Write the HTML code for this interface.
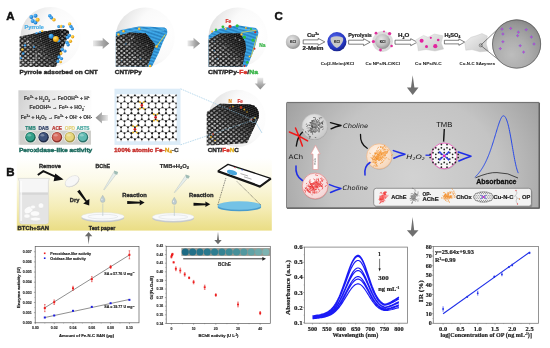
<!DOCTYPE html>
<html><head><meta charset="utf-8"><title>Figure</title>
<style>html,body{margin:0;padding:0;background:#fff;} svg{display:block;}</style></head>
<body><svg width="550" height="348" viewBox="0 0 550 348">
<defs><radialGradient id="sph" cx="0.78" cy="0.45" r="0.95" fx="0.8" fy="0.42">
<stop offset="0" stop-color="#ffffff"/><stop offset="0.45" stop-color="#fafafa"/><stop offset="0.75" stop-color="#e6e6e6"/><stop offset="1" stop-color="#cbcbcb"/></radialGradient><pattern id="cnt" width="3.4" height="3.4" patternUnits="userSpaceOnUse" patternTransform="rotate(-40) skewX(12)">
<rect width="3.4" height="3.4" fill="#141414"/><rect x="0.35" y="0.35" width="2.2" height="2.2" rx="0.8" fill="#d4d4d4"/><circle cx="2.85" cy="2.85" r="0.35" fill="#505050"/></pattern><pattern id="cnts" width="2.0" height="2.0" patternUnits="userSpaceOnUse" patternTransform="rotate(-22) skewX(-10)">
<rect width="2.0" height="2.0" fill="#161616"/><rect x="0.3" y="0.3" width="1.0" height="1.0" rx="0.35" fill="#9a9a9a"/></pattern><linearGradient id="cntshade" x1="0" y1="1" x2="1" y2="0">
<stop offset="0" stop-color="#fff" stop-opacity="0.18"/><stop offset="0.4" stop-color="#000" stop-opacity="0.0"/><stop offset="1" stop-color="#000" stop-opacity="0.5"/></linearGradient><linearGradient id="farmask" x1="0" y1="1" x2="1" y2="0"><stop offset="0.35" stop-color="#000"/><stop offset="0.7" stop-color="#fff"/></linearGradient><linearGradient id="arrR" x1="0" y1="0" x2="1" y2="0"><stop offset="0" stop-color="#ececec"/><stop offset="0.6" stop-color="#a8a8a8"/><stop offset="1" stop-color="#8a8a8a"/></linearGradient><linearGradient id="arrL" x1="1" y1="0" x2="0" y2="0"><stop offset="0" stop-color="#ececec"/><stop offset="0.6" stop-color="#a8a8a8"/><stop offset="1" stop-color="#8a8a8a"/></linearGradient><linearGradient id="arrD" x1="0" y1="0" x2="0" y2="1"><stop offset="0" stop-color="#ececec"/><stop offset="0.6" stop-color="#a8a8a8"/><stop offset="1" stop-color="#8a8a8a"/></linearGradient><linearGradient id="ybg" x1="0" y1="0" x2="0" y2="1"><stop offset="0" stop-color="#ffffff"/><stop offset="0.3" stop-color="#fcfae8"/><stop offset="0.7" stop-color="#f4ecb4"/><stop offset="1" stop-color="#eadd84"/></linearGradient><linearGradient id="eqbox" x1="0" y1="0" x2="1" y2="0.3"><stop offset="0" stop-color="#cfcfcf"/><stop offset="0.35" stop-color="#e6e6e6"/><stop offset="0.8" stop-color="#f7f7f7"/><stop offset="1" stop-color="#fdfdfd"/></linearGradient><radialGradient id="cpanel" cx="0.5" cy="0.7" r="0.62" gradientTransform="translate(0.5 0.7) scale(1 2.2) translate(-0.5 -0.7)"><stop offset="0" stop-color="#d2d2d2"/><stop offset="0.55" stop-color="#c4c4c4"/><stop offset="1" stop-color="#9c9c9c"/></radialGradient><radialGradient id="kcl" cx="0.4" cy="0.35" r="0.7"><stop offset="0" stop-color="#e6e6e6"/><stop offset="0.6" stop-color="#bdbdbd"/><stop offset="1" stop-color="#8a8a8a"/></radialGradient><radialGradient id="bsph" cx="0.4" cy="0.35" r="0.7"><stop offset="0" stop-color="#5a6cf0"/><stop offset="0.7" stop-color="#2536c0"/><stop offset="1" stop-color="#142080"/></radialGradient><radialGradient id="bigc" cx="0.25" cy="0.25" r="0.95"><stop offset="0" stop-color="#eeeeee"/><stop offset="0.5" stop-color="#c4c4c4"/><stop offset="0.85" stop-color="#8a8a8a"/><stop offset="1" stop-color="#5e5e5e"/></radialGradient><pattern id="gra" width="2.0" height="1.732" patternUnits="userSpaceOnUse"><path d="M0,0.866 L0.5,0 L1.5,0 L2.0,0.866 L1.5,1.732 L0.5,1.732 Z" fill="none" stroke="#2e2e2e" stroke-width="0.3"/></pattern><radialGradient id="dgray" cx="0.4" cy="0.35" r="0.7"><stop offset="0" stop-color="#eeeeee"/><stop offset="1" stop-color="#c8c8c8"/></radialGradient><radialGradient id="dred" cx="0.4" cy="0.35" r="0.7"><stop offset="0" stop-color="#fff6f6"/><stop offset="1" stop-color="#f3d3d3"/></radialGradient><radialGradient id="dora" cx="0.4" cy="0.35" r="0.7"><stop offset="0" stop-color="#fff4ea"/><stop offset="1" stop-color="#f5d5b8"/></radialGradient><linearGradient id="sheet" x1="0" y1="0" x2="1" y2="1"><stop offset="0" stop-color="#f2f2f2"/><stop offset="1" stop-color="#c6c6c6"/></linearGradient><pattern id="grw" width="2.0" height="1.732" patternUnits="userSpaceOnUse"><circle cx="1.0" cy="0.866" r="0.55" fill="#e8e8e8"/><circle cx="0" cy="0" r="0.55" fill="#e8e8e8"/><circle cx="2" cy="0" r="0.55" fill="#e8e8e8"/><circle cx="0" cy="1.732" r="0.55" fill="#e8e8e8"/><circle cx="2" cy="1.732" r="0.55" fill="#e8e8e8"/></pattern><pattern id="ppy" width="1.4" height="1.4" patternUnits="userSpaceOnUse" patternTransform="rotate(-8)"><rect width="1.4" height="1.4" fill="#2f9fe6"/><rect y="0.95" width="1.4" height="0.45" fill="#17609e"/><circle cx="0.7" cy="0.45" r="0.4" fill="#56bdf5"/></pattern><radialGradient id="gb" cx="0.35" cy="0.35" r="0.7"><stop offset="0" stop-color="#6cc4f8"/><stop offset="0.6" stop-color="#2a8fe0"/><stop offset="1" stop-color="#1566b0"/></radialGradient><radialGradient id="gy" cx="0.35" cy="0.35" r="0.7"><stop offset="0" stop-color="#ffe27a"/><stop offset="0.6" stop-color="#f4b41c"/><stop offset="1" stop-color="#d08a0c"/></radialGradient><clipPath id="c1"><circle cx="50.5" cy="37" r="30"/></clipPath><clipPath id="r1"><rect x="19.6" y="0" width="80" height="67"/></clipPath><clipPath id="r1t"><path d="M18,37 L44,31.6 L62,29 Q70,29.2 69,33.5 L55.5,67.5 L18,67.5 Z"/></clipPath><mask id="r1m" maskUnits="userSpaceOnUse" x="14" y="28" width="46" height="48"><rect x="14" y="28" width="46" height="48" fill="url(#farmask)"/></mask><clipPath id="c2"><circle cx="145.2" cy="37.2" r="29.6"/></clipPath><clipPath id="r2"><rect x="115.6" y="0" width="80" height="66.8"/></clipPath><clipPath id="r2t"><path d="M115.6,36.6 L130,32.5 L145.8,33.6 L155.1,44.4 L154.4,47.3 L148.7,63.1 L147.2,67.5 L115.6,67.5 Z"/></clipPath><mask id="r2m" maskUnits="userSpaceOnUse" x="110" y="22" width="51" height="56"><rect x="110" y="22" width="51" height="56" fill="url(#farmask)"/></mask><clipPath id="c3"><circle cx="238" cy="37.2" r="29.6"/></clipPath><clipPath id="r3"><rect x="208.4" y="0" width="80" height="66.8"/></clipPath><clipPath id="r3t"><path d="M208.4,39.5 L220,33.6 L240.1,33.6 L245.1,41.6 L245.9,48.7 L243,63.1 L242.5,67.5 L208.4,67.5 Z"/></clipPath><mask id="r3m" maskUnits="userSpaceOnUse" x="203" y="23" width="49" height="55"><rect x="203" y="23" width="49" height="55" fill="url(#farmask)"/></mask><clipPath id="c4"><circle cx="237" cy="118.3" r="28.6"/></clipPath><clipPath id="c4b"><rect x="206.7" y="80" width="80" height="65.5"/></clipPath><clipPath id="c4bt"><path d="M206,112.5 L220,103.8 L250,104.6 Q260.5,106.5 258.5,118 L247,143 L206,146 Z"/></clipPath><mask id="c4bm" maskUnits="userSpaceOnUse" x="201" y="94" width="62" height="62"><rect x="201" y="94" width="62" height="62" fill="url(#farmask)"/></mask><clipPath id="latc"><rect x="116.6" y="94.2" width="60" height="47"/></clipPath><clipPath id="bigcc"><circle cx="516.6" cy="44.0" r="24.4"/></clipPath><radialGradient id="bigl" cx="0.4" cy="0.72" r="0.8"><stop offset="0" stop-color="#d0d0d0"/><stop offset="0.45" stop-color="#b0b0b0"/><stop offset="0.8" stop-color="#858585"/><stop offset="1" stop-color="#5a5a5a"/></radialGradient><clipPath id="lgc"><ellipse cx="483.5" cy="197" rx="10" ry="5.2"/></clipPath><clipPath id="ch3"><rect x="304.4" y="247.1" width="103.10000000000002" height="76.1"/></clipPath></defs>
<rect width="550" height="348" fill="#fff"/>
<text stroke="#111" stroke-width="0.46" x="6.3" y="20.2" font-family="'Liberation Sans', Arial, sans-serif" font-size="11.5" font-weight="bold" fill="#111" text-anchor="start" >A</text>
<circle cx="50.5" cy="37" r="30" fill="url(#sph)"/>
<g clip-path="url(#r1)"><path d="M18,37 L44,31.6 L62,29 Q70,29.2 69,33.5 L55.5,67.5 L18,67.5 Z" fill="url(#cnt)"/><path d="M18,37 L44,31.6 L62,29 Q70,29.2 69,33.5 L55.5,67.5 L18,67.5 Z" fill="url(#cnts)" mask="url(#r1m)"/><path d="M18,37 L44,31.6 L62,29 Q70,29.2 69,33.5 L55.5,67.5 L18,67.5 Z" fill="url(#cntshade)"/><g clip-path="url(#r1t)" opacity="0.6"><circle cx="27.6" cy="53.2" r="0.62" fill="#d8d8d8"/><circle cx="36.1" cy="54.3" r="0.72" fill="#ffffff"/><circle cx="28.3" cy="44.6" r="0.90" fill="#ffffff"/><circle cx="38.5" cy="53.4" r="0.63" fill="#ededed"/><circle cx="27.3" cy="42.2" r="0.87" fill="#ffffff"/><circle cx="45.7" cy="56.8" r="0.48" fill="#d8d8d8"/><circle cx="20.5" cy="59.8" r="0.82" fill="#9a9a9a"/><circle cx="36.0" cy="58.1" r="0.85" fill="#ffffff"/><circle cx="33.2" cy="60.4" r="0.65" fill="#ededed"/><circle cx="50.6" cy="40.7" r="0.51" fill="#ededed"/><circle cx="28.3" cy="56.8" r="0.80" fill="#9a9a9a"/><circle cx="34.2" cy="61.3" r="0.71" fill="#d8d8d8"/><circle cx="40.1" cy="54.4" r="0.86" fill="#c8c8c8"/><circle cx="49.8" cy="65.7" r="0.75" fill="#ededed"/><circle cx="44.2" cy="47.1" r="0.69" fill="#d8d8d8"/><circle cx="39.5" cy="58.0" r="0.55" fill="#d8d8d8"/><circle cx="28.6" cy="41.5" r="0.67" fill="#ffffff"/><circle cx="22.2" cy="60.4" r="0.63" fill="#ededed"/><circle cx="19.7" cy="50.0" r="0.64" fill="#c8c8c8"/><circle cx="20.6" cy="55.2" r="0.47" fill="#d8d8d8"/><circle cx="30.9" cy="62.7" r="0.89" fill="#d8d8d8"/><circle cx="27.5" cy="39.0" r="0.45" fill="#c8c8c8"/><circle cx="40.6" cy="38.9" r="0.54" fill="#ffffff"/><circle cx="29.5" cy="45.4" r="0.76" fill="#9a9a9a"/><circle cx="30.3" cy="64.8" r="0.85" fill="#ffffff"/></g></g>
<text stroke="#4aaee6" stroke-width="0.212" x="24.6" y="29.3" font-family="'Liberation Sans', Arial, sans-serif" font-size="5.3" font-weight="bold" fill="#4aaee6" text-anchor="start" textLength="19.2" lengthAdjust="spacingAndGlyphs" >Pyrrole</text>
<circle cx="31.4" cy="17" r="2.0" fill="url(#gb)"/>
<circle cx="35.5" cy="15.7" r="2.0" fill="url(#gb)"/>
<circle cx="32.7" cy="21.1" r="2.0" fill="url(#gb)"/>
<circle cx="35.5" cy="22.5" r="1.9" fill="url(#gb)"/>
<circle cx="37.6" cy="19.8" r="2.0" fill="url(#gy)"/>
<circle cx="49.8" cy="15.7" r="1.8" fill="url(#gb)"/>
<circle cx="51.4" cy="17.8" r="1.8" fill="url(#gb)"/>
<circle cx="53.9" cy="19.8" r="1.8" fill="url(#gy)"/>
<circle cx="58.7" cy="26.6" r="1.5" fill="url(#gb)"/>
<circle cx="61.2" cy="26.3" r="1.5" fill="url(#gy)"/>
<circle cx="63.3" cy="26.6" r="1.3" fill="url(#gb)"/>
<circle cx="69.6" cy="23.9" r="1.7" fill="url(#gy)"/>
<circle cx="70.9" cy="26.4" r="1.7" fill="url(#gb)"/>
<circle cx="72.3" cy="28.7" r="1.6" fill="url(#gb)"/>
<circle cx="40" cy="32.1" r="1.2" fill="url(#gb)"/>
<circle cx="42.2" cy="31.1" r="1.1" fill="url(#gy)"/>
<circle cx="36.5" cy="33.2" r="1.1" fill="url(#gb)"/>
<circle cx="51.2" cy="36.2" r="2.5" fill="url(#gb)"/>
<circle cx="58.6" cy="40.8" r="1.7" fill="url(#gb)"/>
<circle cx="67.5" cy="37.3" r="1.8" fill="url(#gb)"/>
<circle cx="69.3" cy="35.4" r="1.7" fill="url(#gb)"/>
<circle cx="72.6" cy="36.7" r="1.7" fill="url(#gy)"/>
<circle cx="67" cy="42.5" r="1.8" fill="url(#gb)"/>
<circle cx="70.4" cy="41.3" r="1.7" fill="url(#gy)"/>
<circle cx="68.1" cy="44.8" r="1.7" fill="url(#gb)"/>
<circle cx="62.3" cy="49.5" r="1.7" fill="url(#gb)"/>
<circle cx="65" cy="51" r="1.6" fill="url(#gb)"/>
<circle cx="61" cy="53.5" r="1.4" fill="url(#gy)"/>
<circle cx="59" cy="57" r="1.7" fill="url(#gb)"/>
<circle cx="61.5" cy="58.6" r="1.6" fill="url(#gb)"/>
<circle cx="58" cy="61.3" r="1.7" fill="url(#gb)"/>
<circle cx="60.6" cy="62" r="1.3" fill="url(#gy)"/>
<circle cx="22.5" cy="49.5" r="1.3" fill="url(#gy)"/>
<circle cx="23.3" cy="53.5" r="1.3" fill="url(#gb)"/>
<circle cx="25" cy="45.5" r="1.2" fill="url(#gb)"/>
<circle cx="34" cy="47" r="1.0" fill="url(#gb)"/>
<circle cx="21" cy="58" r="1.1" fill="url(#gb)"/>
<circle cx="55.9" cy="38.9" r="3.0" fill="url(#gy)"/>
<text x="19.6" y="73.9" font-family="'Liberation Sans', Arial, sans-serif" font-size="5.8" font-weight="bold" fill="#2a2a2a" text-anchor="start" textLength="78.2" lengthAdjust="spacingAndGlyphs" stroke="#2a2a2a" stroke-width="0.38">Pyrrole adsorbed on CNT</text>
<path d="M93,40.5 L102.7,40.5 L102.7,37.8 L109.2,43.4 L102.7,49.0 L102.7,46.3 L93,46.3 Z" fill="url(#arrR)"/>
<path d="M187.5,40.5 L193.5,40.5 L193.5,37.8 L200,43.4 L193.5,49.0 L193.5,46.3 L187.5,46.3 Z" fill="url(#arrR)"/>
<circle cx="145.2" cy="37.2" r="29.6" fill="url(#sph)"/>
<g clip-path="url(#r2)"><path d="M115.6,32.6 L121,30.1 L138.6,26.6 L150,26.7 L164.5,27.4 Q168.2,28.8 167,34 L163,42 L158.7,53 L151.5,67.5 L115.6,67.5 Z" fill="url(#ppy)"/><path d="M140,29.6 L164,30.2" stroke="#6cc8f2" stroke-width="0.7" fill="none"/><path d="M165.3,34.4 L156.6,46.6" stroke="#e8d84a" stroke-width="0.9" fill="none"/><path d="M120,33.4 L138,29.6" stroke="#5ab8ee" stroke-width="0.8" fill="none"/></g>
<g clip-path="url(#r2)"><path d="M115.6,36.6 L130,32.5 L145.8,33.6 L155.1,44.4 L154.4,47.3 L148.7,63.1 L147.2,67.5 L115.6,67.5 Z" fill="url(#cnt)"/><path d="M115.6,36.6 L130,32.5 L145.8,33.6 L155.1,44.4 L154.4,47.3 L148.7,63.1 L147.2,67.5 L115.6,67.5 Z" fill="url(#cnts)" mask="url(#r2m)"/><path d="M115.6,36.6 L130,32.5 L145.8,33.6 L155.1,44.4 L154.4,47.3 L148.7,63.1 L147.2,67.5 L115.6,67.5 Z" fill="url(#cntshade)"/><g clip-path="url(#r2t)" opacity="0.6"><circle cx="140.5" cy="58.7" r="0.81" fill="#3b8fd0"/><circle cx="116.2" cy="48.8" r="0.87" fill="#c8c8c8"/><circle cx="151.9" cy="36.1" r="0.66" fill="#e6e6e6"/><circle cx="130.6" cy="35.7" r="0.56" fill="#e6e6e6"/><circle cx="131.7" cy="38.6" r="0.84" fill="#ffffff"/><circle cx="121.5" cy="60.7" r="0.51" fill="#3b8fd0"/><circle cx="133.2" cy="36.8" r="0.89" fill="#c8c8c8"/><circle cx="123.6" cy="39.8" r="0.89" fill="#e6e6e6"/><circle cx="126.9" cy="66.6" r="0.69" fill="#e6e6e6"/><circle cx="122.4" cy="66.9" r="0.54" fill="#ffffff"/><circle cx="127.3" cy="45.0" r="0.52" fill="#e6e6e6"/><circle cx="125.8" cy="43.9" r="0.82" fill="#3b8fd0"/><circle cx="115.1" cy="56.4" r="0.60" fill="#9a9a9a"/><circle cx="129.6" cy="43.0" r="0.76" fill="#e6e6e6"/><circle cx="134.7" cy="57.4" r="0.48" fill="#c8c8c8"/><circle cx="153.9" cy="44.9" r="0.63" fill="#3b8fd0"/><circle cx="147.3" cy="45.2" r="0.71" fill="#c8c8c8"/><circle cx="133.6" cy="57.5" r="0.73" fill="#e6e6e6"/><circle cx="119.9" cy="40.9" r="0.82" fill="#ffffff"/><circle cx="129.1" cy="44.8" r="0.69" fill="#ffffff"/><circle cx="119.4" cy="58.9" r="0.81" fill="#9a9a9a"/><circle cx="116.5" cy="66.0" r="0.49" fill="#9a9a9a"/><circle cx="136.0" cy="45.1" r="0.52" fill="#9a9a9a"/><circle cx="152.9" cy="51.6" r="0.59" fill="#9a9a9a"/><circle cx="127.6" cy="60.8" r="0.73" fill="#9a9a9a"/></g></g>
<circle cx="139.3" cy="28.9" r="1.3" fill="url(#gy)"/>
<circle cx="156.6" cy="46.6" r="1.3" fill="url(#gy)"/>
<circle cx="150.1" cy="66" r="1.3" fill="url(#gy)"/>
<circle cx="123.5" cy="31.3" r="1.3" fill="url(#gy)"/>
<circle cx="118.5" cy="34.5" r="1.3" fill="url(#gy)"/>
<text x="114.8" y="73.9" font-family="'Liberation Sans', Arial, sans-serif" font-size="5.8" font-weight="bold" fill="#2a2a2a" text-anchor="start" textLength="27" lengthAdjust="spacingAndGlyphs" stroke="#2a2a2a" stroke-width="0.38">CNT/PPy</text>
<circle cx="238" cy="37.2" r="29.6" fill="url(#sph)"/>
<g clip-path="url(#r3)"><path d="M208.4,35.8 L213,31.8 L220,28.8 L237.2,25.2 L255.9,28.1 Q259.2,30.5 258.1,34.4 L254.5,48.7 L248.7,63.1 L246.6,67.5 L208.4,67.5 Z" fill="url(#ppy)"/><path d="M238,28.5 L255,30" stroke="#6cc8f2" stroke-width="0.7" fill="none"/><path d="M241.5,32.4 L256.5,30.2 M257.2,35.5 L251,57" stroke="#e8d84a" stroke-width="0.8" fill="none"/></g>
<g clip-path="url(#r3)"><path d="M208.4,39.5 L220,33.6 L240.1,33.6 L245.1,41.6 L245.9,48.7 L243,63.1 L242.5,67.5 L208.4,67.5 Z" fill="url(#cnt)"/><path d="M208.4,39.5 L220,33.6 L240.1,33.6 L245.1,41.6 L245.9,48.7 L243,63.1 L242.5,67.5 L208.4,67.5 Z" fill="url(#cnts)" mask="url(#r3m)"/><path d="M208.4,39.5 L220,33.6 L240.1,33.6 L245.1,41.6 L245.9,48.7 L243,63.1 L242.5,67.5 L208.4,67.5 Z" fill="url(#cntshade)"/><g clip-path="url(#r3t)" opacity="0.6"><circle cx="226.1" cy="46.1" r="0.51" fill="#c8c8c8"/><circle cx="221.2" cy="49.2" r="0.72" fill="#9a9a9a"/><circle cx="229.6" cy="54.6" r="0.47" fill="#ffffff"/><circle cx="214.6" cy="66.1" r="0.88" fill="#ffffff"/><circle cx="214.1" cy="41.3" r="0.50" fill="#3b8fd0"/><circle cx="242.0" cy="67.7" r="0.48" fill="#ffffff"/><circle cx="238.8" cy="64.1" r="0.86" fill="#e6e6e6"/><circle cx="234.3" cy="58.4" r="0.64" fill="#c8c8c8"/><circle cx="238.1" cy="64.9" r="0.63" fill="#9a9a9a"/><circle cx="239.6" cy="40.0" r="0.85" fill="#ffffff"/><circle cx="210.1" cy="46.3" r="0.67" fill="#c8c8c8"/><circle cx="217.2" cy="58.8" r="0.83" fill="#3b8fd0"/><circle cx="208.2" cy="59.8" r="0.54" fill="#e6e6e6"/><circle cx="220.9" cy="64.2" r="0.51" fill="#c8c8c8"/><circle cx="227.5" cy="53.1" r="0.69" fill="#e6e6e6"/><circle cx="224.4" cy="46.9" r="0.74" fill="#c8c8c8"/><circle cx="235.3" cy="38.1" r="0.87" fill="#c8c8c8"/><circle cx="210.1" cy="52.4" r="0.72" fill="#e6e6e6"/><circle cx="237.1" cy="58.8" r="0.71" fill="#c8c8c8"/><circle cx="212.7" cy="57.7" r="0.88" fill="#e6e6e6"/><circle cx="214.3" cy="50.7" r="0.78" fill="#3b8fd0"/><circle cx="231.0" cy="60.1" r="0.49" fill="#9a9a9a"/><circle cx="212.3" cy="63.9" r="0.61" fill="#e6e6e6"/><circle cx="223.7" cy="67.5" r="0.71" fill="#c8c8c8"/><circle cx="222.8" cy="54.3" r="0.45" fill="#c8c8c8"/></g></g>
<circle cx="222.9" cy="26.8" r="1.4" fill="#2fbf3a"/>
<circle cx="225.7" cy="28.8" r="1.1" fill="url(#gy)"/>
<circle cx="230" cy="26.4" r="1.6" fill="#d42a1e"/>
<circle cx="237.2" cy="25.7" r="1.5" fill="#2fbf3a"/>
<circle cx="212" cy="31.5" r="1.0" fill="url(#gy)"/>
<circle cx="216" cy="29.8" r="1.2" fill="#2fbf3a"/>
<circle cx="241.6" cy="34.4" r="1.2" fill="url(#gy)"/>
<circle cx="244.4" cy="37.2" r="1.6" fill="#2fbf3a"/>
<circle cx="253" cy="40.1" r="1.6" fill="#2fbf3a"/>
<circle cx="254.5" cy="48.7" r="1.0" fill="#d42a1e"/>
<circle cx="249.5" cy="56.6" r="1.0" fill="url(#gy)"/>
<circle cx="247.3" cy="62.4" r="1.3" fill="#2fbf3a"/>
<circle cx="255.2" cy="32.2" r="1.0" fill="#d42a1e"/>
<circle cx="246" cy="28" r="0.9" fill="url(#gy)"/>
<circle cx="251" cy="29" r="1.1" fill="#2fbf3a"/>
<circle cx="244.5" cy="66" r="0.9" fill="#d42a1e"/>
<text stroke="#d8312a" stroke-width="0.196" x="225.4" y="22.9" font-family="'Liberation Sans', Arial, sans-serif" font-size="4.9" font-weight="bold" fill="#d8312a" text-anchor="start" >Fe</text>
<text stroke="#3bb54a" stroke-width="0.196" x="259.2" y="46.8" font-family="'Liberation Sans', Arial, sans-serif" font-size="4.9" font-weight="bold" fill="#3bb54a" text-anchor="start" >Na</text>
<text x="208" y="73.9" font-family="'Liberation Sans', Arial, sans-serif" font-size="5.8" font-weight="bold" fill="#2a2a2a" stroke="#2a2a2a" stroke-width="0.38" textLength="50" lengthAdjust="spacingAndGlyphs">CNT/PPy-<tspan fill="#d8312a" stroke="#d8312a">Fe</tspan>/<tspan fill="#3bb54a" stroke="#3bb54a">Na</tspan></text>
<path d="M257.40000000000003,77.8 L263.2,77.8 L263.2,83.6 L265.90000000000003,83.6 L260.3,89.6 L254.70000000000002,83.6 L257.40000000000003,83.6 Z" fill="url(#arrD)"/>
<circle cx="237" cy="118.3" r="28.6" fill="url(#sph)"/>
<g clip-path="url(#c4b)"><path d="M206,112.5 L220,103.8 L250,104.6 Q260.5,106.5 258.5,118 L247,143 L206,146 Z" fill="url(#cnt)"/><path d="M206,112.5 L220,103.8 L250,104.6 Q260.5,106.5 258.5,118 L247,143 L206,146 Z" fill="url(#cnts)" mask="url(#c4bm)"/><path d="M206,112.5 L220,103.8 L250,104.6 Q260.5,106.5 258.5,118 L247,143 L206,146 Z" fill="url(#cntshade)"/><g clip-path="url(#c4bt)" opacity="0.6"><circle cx="229.5" cy="127.5" r="0.87" fill="#ffffff"/><circle cx="229.5" cy="139.9" r="0.54" fill="#ffffff"/><circle cx="238.8" cy="137.3" r="0.49" fill="#9a9a9a"/><circle cx="213.4" cy="126.6" r="0.85" fill="#c8c8c8"/><circle cx="237.0" cy="120.6" r="0.65" fill="#e6e6e6"/><circle cx="238.4" cy="138.9" r="0.48" fill="#c8c8c8"/><circle cx="215.9" cy="114.2" r="0.46" fill="#ffffff"/><circle cx="223.0" cy="128.8" r="0.54" fill="#e6e6e6"/><circle cx="239.3" cy="125.0" r="0.75" fill="#ffffff"/><circle cx="240.0" cy="121.1" r="0.70" fill="#c8c8c8"/><circle cx="242.8" cy="117.2" r="0.55" fill="#9a9a9a"/><circle cx="207.5" cy="127.7" r="0.50" fill="#c8c8c8"/><circle cx="250.0" cy="120.2" r="0.88" fill="#c8c8c8"/><circle cx="217.1" cy="142.9" r="0.47" fill="#ffffff"/><circle cx="257.0" cy="120.7" r="0.48" fill="#e6e6e6"/><circle cx="246.5" cy="115.3" r="0.49" fill="#9a9a9a"/><circle cx="206.8" cy="121.2" r="0.87" fill="#e6e6e6"/><circle cx="218.8" cy="108.2" r="0.48" fill="#ffffff"/><circle cx="215.2" cy="127.5" r="0.65" fill="#e6e6e6"/><circle cx="257.2" cy="136.3" r="0.64" fill="#ffffff"/><circle cx="212.1" cy="121.7" r="0.55" fill="#9a9a9a"/><circle cx="250.9" cy="144.9" r="0.72" fill="#c8c8c8"/><circle cx="217.0" cy="120.6" r="0.83" fill="#c8c8c8"/><circle cx="208.2" cy="110.1" r="0.65" fill="#c8c8c8"/><circle cx="246.2" cy="117.8" r="0.58" fill="#c8c8c8"/></g></g>
<circle cx="241" cy="107.5" r="1.4" fill="#c0391a"/>
<circle cx="244.3" cy="109.5" r="0.9" fill="#d9a21e"/>
<circle cx="233" cy="106.5" r="0.8" fill="#d9a21e"/>
<circle cx="251.5" cy="119.6" r="1.1" fill="#c0391a"/>
<circle cx="255" cy="118" r="0.9" fill="#d9a21e"/>
<circle cx="213" cy="134" r="1.0" fill="#c0391a"/>
<circle cx="211" cy="137" r="0.9" fill="#d9a21e"/>
<circle cx="215" cy="140.5" r="0.8" fill="#d9a21e"/>
<circle cx="230" cy="108" r="0.8" fill="#c0391a"/>
<circle cx="247" cy="112" r="0.7" fill="#d9a21e"/>
<text stroke="#e08a1c" stroke-width="0.184" x="228.6" y="103.2" font-family="'Liberation Sans', Arial, sans-serif" font-size="4.6" font-weight="bold" fill="#e08a1c" text-anchor="start" >N</text>
<text stroke="#d8312a" stroke-width="0.184" x="237.4" y="103.2" font-family="'Liberation Sans', Arial, sans-serif" font-size="4.6" font-weight="bold" fill="#d8312a" text-anchor="start" >Fe</text>
<text x="207.7" y="152.2" font-family="'Liberation Sans', Arial, sans-serif" font-size="5.8" font-weight="bold" fill="#2a2a2a" stroke="#2a2a2a" stroke-width="0.38" textLength="31" lengthAdjust="spacingAndGlyphs">CNT/<tspan fill="#d8312a" stroke="#d8312a">Fe</tspan><tspan fill="#e6b422" stroke="#e6b422">N</tspan>C</text>
<rect x="114.5" y="88.7" width="66" height="56.2" fill="#dcecf8"/>
<g stroke="#8fc3e0" stroke-width="0.6" stroke-dasharray="1.6,0.9" fill="none"><path d="M180.5,88.8 L252,119.4"/><path d="M180.5,144.8 L252,120.6"/></g>
<circle cx="253.6" cy="120" r="2.6" fill="none" stroke="#8fc3e0" stroke-width="0.6"/>
<path d="M255.5,122 L262,133" stroke="#8fc3e0" stroke-width="0.6" fill="none"/>
<g clip-path="url(#latc)"><path d="M117.65,97.41 L114.20,95.42 L114.20,91.43 L117.65,89.44 L121.10,91.43 L121.10,95.42 Z M124.55,97.41 L121.10,95.42 L121.10,91.43 L124.55,89.44 L128.00,91.43 L128.00,95.42 Z M131.45,97.41 L128.00,95.42 L128.00,91.43 L131.45,89.44 L134.90,91.43 L134.90,95.42 Z M138.35,97.41 L134.90,95.42 L134.90,91.43 L138.35,89.44 L141.80,91.43 L141.80,95.42 Z M145.25,97.41 L141.80,95.42 L141.80,91.43 L145.25,89.44 L148.70,91.43 L148.70,95.42 Z M152.15,97.41 L148.70,95.42 L148.70,91.43 L152.15,89.44 L155.60,91.43 L155.60,95.42 Z M159.05,97.41 L155.60,95.42 L155.60,91.43 L159.05,89.44 L162.50,91.43 L162.50,95.42 Z M165.95,97.41 L162.50,95.42 L162.50,91.43 L165.95,89.44 L169.40,91.43 L169.40,95.42 Z M172.85,97.41 L169.40,95.42 L169.40,91.43 L172.85,89.44 L176.30,91.43 L176.30,95.42 Z M179.75,97.41 L176.30,95.42 L176.30,91.43 L179.75,89.44 L183.20,91.43 L183.20,95.42 Z M186.65,97.41 L183.20,95.42 L183.20,91.43 L186.65,89.44 L190.10,91.43 L190.10,95.42 Z M114.20,103.38 L110.75,101.39 L110.75,97.41 L114.20,95.42 L117.65,97.41 L117.65,101.39 Z M121.10,103.38 L117.65,101.39 L117.65,97.41 L121.10,95.42 L124.55,97.41 L124.55,101.39 Z M128.00,103.38 L124.55,101.39 L124.55,97.41 L128.00,95.42 L131.45,97.41 L131.45,101.39 Z M134.90,103.38 L131.45,101.39 L131.45,97.41 L134.90,95.42 L138.35,97.41 L138.35,101.39 Z M141.80,103.38 L138.35,101.39 L138.35,97.41 L141.80,95.42 L145.25,97.41 L145.25,101.39 Z M148.70,103.38 L145.25,101.39 L145.25,97.41 L148.70,95.42 L152.15,97.41 L152.15,101.39 Z M155.60,103.38 L152.15,101.39 L152.15,97.41 L155.60,95.42 L159.05,97.41 L159.05,101.39 Z M162.50,103.38 L159.05,101.39 L159.05,97.41 L162.50,95.42 L165.95,97.41 L165.95,101.39 Z M169.40,103.38 L165.95,101.39 L165.95,97.41 L169.40,95.42 L172.85,97.41 L172.85,101.39 Z M176.30,103.38 L172.85,101.39 L172.85,97.41 L176.30,95.42 L179.75,97.41 L179.75,101.39 Z M183.20,103.38 L179.75,101.39 L179.75,97.41 L183.20,95.42 L186.65,97.41 L186.65,101.39 Z M117.65,109.36 L114.20,107.37 L114.20,103.38 L117.65,101.39 L121.10,103.38 L121.10,107.37 Z M124.55,109.36 L121.10,107.37 L121.10,103.38 L124.55,101.39 L128.00,103.38 L128.00,107.37 Z M131.45,109.36 L128.00,107.37 L128.00,103.38 L131.45,101.39 L134.90,103.38 L134.90,107.37 Z M138.35,109.36 L134.90,107.37 L134.90,103.38 L138.35,101.39 L141.80,103.38 L141.80,107.37 Z M145.25,109.36 L141.80,107.37 L141.80,103.38 L145.25,101.39 L148.70,103.38 L148.70,107.37 Z M152.15,109.36 L148.70,107.37 L148.70,103.38 L152.15,101.39 L155.60,103.38 L155.60,107.37 Z M159.05,109.36 L155.60,107.37 L155.60,103.38 L159.05,101.39 L162.50,103.38 L162.50,107.37 Z M165.95,109.36 L162.50,107.37 L162.50,103.38 L165.95,101.39 L169.40,103.38 L169.40,107.37 Z M172.85,109.36 L169.40,107.37 L169.40,103.38 L172.85,101.39 L176.30,103.38 L176.30,107.37 Z M179.75,109.36 L176.30,107.37 L176.30,103.38 L179.75,101.39 L183.20,103.38 L183.20,107.37 Z M186.65,109.36 L183.20,107.37 L183.20,103.38 L186.65,101.39 L190.10,103.38 L190.10,107.37 Z M114.20,115.33 L110.75,113.34 L110.75,109.36 L114.20,107.37 L117.65,109.36 L117.65,113.34 Z M121.10,115.33 L117.65,113.34 L117.65,109.36 L121.10,107.37 L124.55,109.36 L124.55,113.34 Z M128.00,115.33 L124.55,113.34 L124.55,109.36 L128.00,107.37 L131.45,109.36 L131.45,113.34 Z M134.90,115.33 L131.45,113.34 L131.45,109.36 L134.90,107.37 L138.35,109.36 L138.35,113.34 Z M141.80,115.33 L138.35,113.34 L138.35,109.36 L141.80,107.37 L145.25,109.36 L145.25,113.34 Z M148.70,115.33 L145.25,113.34 L145.25,109.36 L148.70,107.37 L152.15,109.36 L152.15,113.34 Z M155.60,115.33 L152.15,113.34 L152.15,109.36 L155.60,107.37 L159.05,109.36 L159.05,113.34 Z M162.50,115.33 L159.05,113.34 L159.05,109.36 L162.50,107.37 L165.95,109.36 L165.95,113.34 Z M169.40,115.33 L165.95,113.34 L165.95,109.36 L169.40,107.37 L172.85,109.36 L172.85,113.34 Z M176.30,115.33 L172.85,113.34 L172.85,109.36 L176.30,107.37 L179.75,109.36 L179.75,113.34 Z M183.20,115.33 L179.75,113.34 L179.75,109.36 L183.20,107.37 L186.65,109.36 L186.65,113.34 Z M117.65,121.31 L114.20,119.32 L114.20,115.33 L117.65,113.34 L121.10,115.33 L121.10,119.32 Z M124.55,121.31 L121.10,119.32 L121.10,115.33 L124.55,113.34 L128.00,115.33 L128.00,119.32 Z M131.45,121.31 L128.00,119.32 L128.00,115.33 L131.45,113.34 L134.90,115.33 L134.90,119.32 Z M138.35,121.31 L134.90,119.32 L134.90,115.33 L138.35,113.34 L141.80,115.33 L141.80,119.32 Z M145.25,121.31 L141.80,119.32 L141.80,115.33 L145.25,113.34 L148.70,115.33 L148.70,119.32 Z M152.15,121.31 L148.70,119.32 L148.70,115.33 L152.15,113.34 L155.60,115.33 L155.60,119.32 Z M159.05,121.31 L155.60,119.32 L155.60,115.33 L159.05,113.34 L162.50,115.33 L162.50,119.32 Z M165.95,121.31 L162.50,119.32 L162.50,115.33 L165.95,113.34 L169.40,115.33 L169.40,119.32 Z M172.85,121.31 L169.40,119.32 L169.40,115.33 L172.85,113.34 L176.30,115.33 L176.30,119.32 Z M179.75,121.31 L176.30,119.32 L176.30,115.33 L179.75,113.34 L183.20,115.33 L183.20,119.32 Z M186.65,121.31 L183.20,119.32 L183.20,115.33 L186.65,113.34 L190.10,115.33 L190.10,119.32 Z M114.20,127.29 L110.75,125.29 L110.75,121.31 L114.20,119.32 L117.65,121.31 L117.65,125.29 Z M121.10,127.29 L117.65,125.29 L117.65,121.31 L121.10,119.32 L124.55,121.31 L124.55,125.29 Z M128.00,127.29 L124.55,125.29 L124.55,121.31 L128.00,119.32 L131.45,121.31 L131.45,125.29 Z M134.90,127.29 L131.45,125.29 L131.45,121.31 L134.90,119.32 L138.35,121.31 L138.35,125.29 Z M141.80,127.29 L138.35,125.29 L138.35,121.31 L141.80,119.32 L145.25,121.31 L145.25,125.29 Z M148.70,127.29 L145.25,125.29 L145.25,121.31 L148.70,119.32 L152.15,121.31 L152.15,125.29 Z M155.60,127.29 L152.15,125.29 L152.15,121.31 L155.60,119.32 L159.05,121.31 L159.05,125.29 Z M162.50,127.29 L159.05,125.29 L159.05,121.31 L162.50,119.32 L165.95,121.31 L165.95,125.29 Z M169.40,127.29 L165.95,125.29 L165.95,121.31 L169.40,119.32 L172.85,121.31 L172.85,125.29 Z M176.30,127.29 L172.85,125.29 L172.85,121.31 L176.30,119.32 L179.75,121.31 L179.75,125.29 Z M183.20,127.29 L179.75,125.29 L179.75,121.31 L183.20,119.32 L186.65,121.31 L186.65,125.29 Z M117.65,133.26 L114.20,131.27 L114.20,127.29 L117.65,125.29 L121.10,127.29 L121.10,131.27 Z M124.55,133.26 L121.10,131.27 L121.10,127.29 L124.55,125.29 L128.00,127.29 L128.00,131.27 Z M131.45,133.26 L128.00,131.27 L128.00,127.29 L131.45,125.29 L134.90,127.29 L134.90,131.27 Z M138.35,133.26 L134.90,131.27 L134.90,127.29 L138.35,125.29 L141.80,127.29 L141.80,131.27 Z M145.25,133.26 L141.80,131.27 L141.80,127.29 L145.25,125.29 L148.70,127.29 L148.70,131.27 Z M152.15,133.26 L148.70,131.27 L148.70,127.29 L152.15,125.29 L155.60,127.29 L155.60,131.27 Z M159.05,133.26 L155.60,131.27 L155.60,127.29 L159.05,125.29 L162.50,127.29 L162.50,131.27 Z M165.95,133.26 L162.50,131.27 L162.50,127.29 L165.95,125.29 L169.40,127.29 L169.40,131.27 Z M172.85,133.26 L169.40,131.27 L169.40,127.29 L172.85,125.29 L176.30,127.29 L176.30,131.27 Z M179.75,133.26 L176.30,131.27 L176.30,127.29 L179.75,125.29 L183.20,127.29 L183.20,131.27 Z M186.65,133.26 L183.20,131.27 L183.20,127.29 L186.65,125.29 L190.10,127.29 L190.10,131.27 Z M114.20,139.24 L110.75,137.25 L110.75,133.26 L114.20,131.27 L117.65,133.26 L117.65,137.25 Z M121.10,139.24 L117.65,137.25 L117.65,133.26 L121.10,131.27 L124.55,133.26 L124.55,137.25 Z M128.00,139.24 L124.55,137.25 L124.55,133.26 L128.00,131.27 L131.45,133.26 L131.45,137.25 Z M134.90,139.24 L131.45,137.25 L131.45,133.26 L134.90,131.27 L138.35,133.26 L138.35,137.25 Z M141.80,139.24 L138.35,137.25 L138.35,133.26 L141.80,131.27 L145.25,133.26 L145.25,137.25 Z M148.70,139.24 L145.25,137.25 L145.25,133.26 L148.70,131.27 L152.15,133.26 L152.15,137.25 Z M155.60,139.24 L152.15,137.25 L152.15,133.26 L155.60,131.27 L159.05,133.26 L159.05,137.25 Z M162.50,139.24 L159.05,137.25 L159.05,133.26 L162.50,131.27 L165.95,133.26 L165.95,137.25 Z M169.40,139.24 L165.95,137.25 L165.95,133.26 L169.40,131.27 L172.85,133.26 L172.85,137.25 Z M176.30,139.24 L172.85,137.25 L172.85,133.26 L176.30,131.27 L179.75,133.26 L179.75,137.25 Z M183.20,139.24 L179.75,137.25 L179.75,133.26 L183.20,131.27 L186.65,133.26 L186.65,137.25 Z M117.65,145.21 L114.20,143.22 L114.20,139.24 L117.65,137.25 L121.10,139.24 L121.10,143.22 Z M124.55,145.21 L121.10,143.22 L121.10,139.24 L124.55,137.25 L128.00,139.24 L128.00,143.22 Z M131.45,145.21 L128.00,143.22 L128.00,139.24 L131.45,137.25 L134.90,139.24 L134.90,143.22 Z M138.35,145.21 L134.90,143.22 L134.90,139.24 L138.35,137.25 L141.80,139.24 L141.80,143.22 Z M145.25,145.21 L141.80,143.22 L141.80,139.24 L145.25,137.25 L148.70,139.24 L148.70,143.22 Z M152.15,145.21 L148.70,143.22 L148.70,139.24 L152.15,137.25 L155.60,139.24 L155.60,143.22 Z M159.05,145.21 L155.60,143.22 L155.60,139.24 L159.05,137.25 L162.50,139.24 L162.50,143.22 Z M165.95,145.21 L162.50,143.22 L162.50,139.24 L165.95,137.25 L169.40,139.24 L169.40,143.22 Z M172.85,145.21 L169.40,143.22 L169.40,139.24 L172.85,137.25 L176.30,139.24 L176.30,143.22 Z M179.75,145.21 L176.30,143.22 L176.30,139.24 L179.75,137.25 L183.20,139.24 L183.20,143.22 Z M186.65,145.21 L183.20,143.22 L183.20,139.24 L186.65,137.25 L190.10,139.24 L190.10,143.22 Z M114.20,151.19 L110.75,149.20 L110.75,145.21 L114.20,143.22 L117.65,145.21 L117.65,149.20 Z M121.10,151.19 L117.65,149.20 L117.65,145.21 L121.10,143.22 L124.55,145.21 L124.55,149.20 Z M128.00,151.19 L124.55,149.20 L124.55,145.21 L128.00,143.22 L131.45,145.21 L131.45,149.20 Z M134.90,151.19 L131.45,149.20 L131.45,145.21 L134.90,143.22 L138.35,145.21 L138.35,149.20 Z M141.80,151.19 L138.35,149.20 L138.35,145.21 L141.80,143.22 L145.25,145.21 L145.25,149.20 Z M148.70,151.19 L145.25,149.20 L145.25,145.21 L148.70,143.22 L152.15,145.21 L152.15,149.20 Z M155.60,151.19 L152.15,149.20 L152.15,145.21 L155.60,143.22 L159.05,145.21 L159.05,149.20 Z M162.50,151.19 L159.05,149.20 L159.05,145.21 L162.50,143.22 L165.95,145.21 L165.95,149.20 Z M169.40,151.19 L165.95,149.20 L165.95,145.21 L169.40,143.22 L172.85,145.21 L172.85,149.20 Z M176.30,151.19 L172.85,149.20 L172.85,145.21 L176.30,143.22 L179.75,145.21 L179.75,149.20 Z M183.20,151.19 L179.75,149.20 L179.75,145.21 L183.20,143.22 L186.65,145.21 L186.65,149.20 Z" fill="#ffffff" stroke="#8a8a8a" stroke-width="0.45"/><circle cx="152.2" cy="121.3" r="0.95" fill="#1e1e1e"/><circle cx="159.0" cy="149.2" r="0.95" fill="#1e1e1e"/><circle cx="152.1" cy="113.3" r="0.95" fill="#1e1e1e"/><circle cx="138.4" cy="133.3" r="0.95" fill="#1e1e1e"/><circle cx="128.0" cy="143.2" r="0.95" fill="#1e1e1e"/><circle cx="121.1" cy="139.2" r="0.95" fill="#1e1e1e"/><circle cx="110.7" cy="125.3" r="0.95" fill="#1e1e1e"/><circle cx="162.5" cy="131.3" r="0.95" fill="#1e1e1e"/><circle cx="190.1" cy="95.4" r="0.95" fill="#1e1e1e"/><circle cx="183.2" cy="91.4" r="0.95" fill="#1e1e1e"/><circle cx="166.0" cy="125.3" r="0.95" fill="#1e1e1e"/><circle cx="159.1" cy="121.3" r="0.95" fill="#1e1e1e"/><circle cx="179.8" cy="149.2" r="0.95" fill="#1e1e1e"/><circle cx="172.9" cy="113.3" r="0.95" fill="#1e1e1e"/><circle cx="159.0" cy="109.4" r="0.95" fill="#1e1e1e"/><circle cx="148.7" cy="127.3" r="0.95" fill="#1e1e1e"/><circle cx="128.0" cy="103.4" r="0.95" fill="#1e1e1e"/><circle cx="159.0" cy="113.3" r="0.95" fill="#1e1e1e"/><circle cx="114.2" cy="119.3" r="0.95" fill="#1e1e1e"/><circle cx="141.8" cy="127.3" r="0.95" fill="#1e1e1e"/><circle cx="134.9" cy="91.4" r="0.95" fill="#1e1e1e"/><circle cx="121.1" cy="143.2" r="0.95" fill="#1e1e1e"/><circle cx="179.8" cy="109.4" r="0.95" fill="#1e1e1e"/><circle cx="179.8" cy="113.3" r="0.95" fill="#1e1e1e"/><circle cx="186.6" cy="101.4" r="0.95" fill="#1e1e1e"/><circle cx="141.8" cy="91.4" r="0.95" fill="#1e1e1e"/><circle cx="159.1" cy="125.3" r="0.95" fill="#1e1e1e"/><circle cx="114.2" cy="131.3" r="0.95" fill="#1e1e1e"/><circle cx="128.0" cy="107.4" r="0.95" fill="#1e1e1e"/><circle cx="186.6" cy="145.2" r="0.95" fill="#1e1e1e"/><circle cx="121.1" cy="103.4" r="0.95" fill="#1e1e1e"/><circle cx="117.6" cy="149.2" r="0.95" fill="#1e1e1e"/><circle cx="176.3" cy="151.2" r="0.95" fill="#1e1e1e"/><circle cx="131.4" cy="125.3" r="0.95" fill="#1e1e1e"/><circle cx="148.7" cy="95.4" r="0.95" fill="#1e1e1e"/><circle cx="110.7" cy="137.2" r="0.95" fill="#1e1e1e"/><circle cx="141.8" cy="95.4" r="0.95" fill="#1e1e1e"/><circle cx="117.6" cy="109.4" r="0.95" fill="#1e1e1e"/><circle cx="166.0" cy="137.2" r="0.95" fill="#1e1e1e"/><circle cx="169.4" cy="107.4" r="0.95" fill="#1e1e1e"/><circle cx="186.6" cy="149.2" r="0.95" fill="#1e1e1e"/><circle cx="148.7" cy="139.2" r="0.95" fill="#1e1e1e"/><circle cx="128.0" cy="115.3" r="0.95" fill="#1e1e1e"/><circle cx="152.1" cy="133.3" r="0.95" fill="#1e1e1e"/><circle cx="110.7" cy="97.4" r="0.95" fill="#1e1e1e"/><circle cx="169.4" cy="151.2" r="0.95" fill="#1e1e1e"/><circle cx="138.4" cy="145.2" r="0.95" fill="#1e1e1e"/><circle cx="166.0" cy="97.4" r="0.95" fill="#1e1e1e"/><circle cx="186.6" cy="109.4" r="0.95" fill="#1e1e1e"/><circle cx="138.3" cy="137.2" r="0.95" fill="#1e1e1e"/><circle cx="186.6" cy="113.3" r="0.95" fill="#1e1e1e"/><circle cx="172.9" cy="133.3" r="0.95" fill="#1e1e1e"/><circle cx="162.5" cy="143.2" r="0.95" fill="#1e1e1e"/><circle cx="155.6" cy="139.2" r="0.95" fill="#1e1e1e"/><circle cx="159.0" cy="133.3" r="0.95" fill="#1e1e1e"/><circle cx="124.5" cy="121.3" r="0.95" fill="#1e1e1e"/><circle cx="176.3" cy="119.3" r="0.95" fill="#1e1e1e"/><circle cx="148.7" cy="143.2" r="0.95" fill="#1e1e1e"/><circle cx="169.4" cy="115.3" r="0.95" fill="#1e1e1e"/><circle cx="138.3" cy="97.4" r="0.95" fill="#1e1e1e"/><circle cx="162.5" cy="103.4" r="0.95" fill="#1e1e1e"/><circle cx="179.8" cy="133.3" r="0.95" fill="#1e1e1e"/><circle cx="138.4" cy="149.2" r="0.95" fill="#1e1e1e"/><circle cx="131.4" cy="137.2" r="0.95" fill="#1e1e1e"/><circle cx="148.7" cy="103.4" r="0.95" fill="#1e1e1e"/><circle cx="155.6" cy="143.2" r="0.95" fill="#1e1e1e"/><circle cx="128.0" cy="131.3" r="0.95" fill="#1e1e1e"/><circle cx="124.5" cy="125.3" r="0.95" fill="#1e1e1e"/><circle cx="117.6" cy="121.3" r="0.95" fill="#1e1e1e"/><circle cx="138.4" cy="109.4" r="0.95" fill="#1e1e1e"/><circle cx="169.4" cy="119.3" r="0.95" fill="#1e1e1e"/><circle cx="138.4" cy="113.3" r="0.95" fill="#1e1e1e"/><circle cx="138.3" cy="101.4" r="0.95" fill="#1e1e1e"/><circle cx="131.4" cy="97.4" r="0.95" fill="#1e1e1e"/><circle cx="162.5" cy="107.4" r="0.95" fill="#1e1e1e"/><circle cx="155.6" cy="103.4" r="0.95" fill="#1e1e1e"/><circle cx="124.5" cy="89.4" r="0.95" fill="#1e1e1e"/><circle cx="138.3" cy="145.2" r="0.95" fill="#1e1e1e"/><circle cx="162.5" cy="151.2" r="0.95" fill="#1e1e1e"/><circle cx="131.5" cy="145.2" r="0.95" fill="#1e1e1e"/><circle cx="121.1" cy="131.3" r="0.95" fill="#1e1e1e"/><circle cx="117.6" cy="125.3" r="0.95" fill="#1e1e1e"/><circle cx="176.3" cy="127.3" r="0.95" fill="#1e1e1e"/><circle cx="131.4" cy="101.4" r="0.95" fill="#1e1e1e"/><circle cx="155.6" cy="107.4" r="0.95" fill="#1e1e1e"/><circle cx="162.5" cy="115.3" r="0.95" fill="#1e1e1e"/><circle cx="186.6" cy="133.3" r="0.95" fill="#1e1e1e"/><circle cx="117.6" cy="89.4" r="0.95" fill="#1e1e1e"/><circle cx="138.3" cy="149.2" r="0.95" fill="#1e1e1e"/><circle cx="176.3" cy="91.4" r="0.95" fill="#1e1e1e"/><circle cx="131.5" cy="149.2" r="0.95" fill="#1e1e1e"/><circle cx="124.5" cy="137.2" r="0.95" fill="#1e1e1e"/><circle cx="138.4" cy="121.3" r="0.95" fill="#1e1e1e"/><circle cx="152.1" cy="149.2" r="0.95" fill="#1e1e1e"/><circle cx="145.2" cy="145.2" r="0.95" fill="#1e1e1e"/><circle cx="138.3" cy="109.4" r="0.95" fill="#1e1e1e"/><circle cx="138.3" cy="113.3" r="0.95" fill="#1e1e1e"/><circle cx="131.5" cy="109.4" r="0.95" fill="#1e1e1e"/><circle cx="162.5" cy="119.3" r="0.95" fill="#1e1e1e"/><circle cx="155.6" cy="115.3" r="0.95" fill="#1e1e1e"/><circle cx="131.5" cy="113.3" r="0.95" fill="#1e1e1e"/><circle cx="124.5" cy="97.4" r="0.95" fill="#1e1e1e"/><circle cx="183.2" cy="127.3" r="0.95" fill="#1e1e1e"/><circle cx="176.3" cy="95.4" r="0.95" fill="#1e1e1e"/><circle cx="172.9" cy="149.2" r="0.95" fill="#1e1e1e"/><circle cx="169.4" cy="91.4" r="0.95" fill="#1e1e1e"/><circle cx="152.1" cy="109.4" r="0.95" fill="#1e1e1e"/><circle cx="134.9" cy="127.3" r="0.95" fill="#1e1e1e"/><circle cx="165.9" cy="137.2" r="0.95" fill="#1e1e1e"/><circle cx="145.2" cy="149.2" r="0.95" fill="#1e1e1e"/><circle cx="172.9" cy="109.4" r="0.95" fill="#1e1e1e"/><circle cx="148.7" cy="131.3" r="0.95" fill="#1e1e1e"/><circle cx="172.8" cy="101.4" r="0.95" fill="#1e1e1e"/><circle cx="165.9" cy="97.4" r="0.95" fill="#1e1e1e"/><circle cx="152.2" cy="125.3" r="0.95" fill="#1e1e1e"/><circle cx="190.1" cy="139.2" r="0.95" fill="#1e1e1e"/><circle cx="145.2" cy="109.4" r="0.95" fill="#1e1e1e"/><circle cx="145.2" cy="113.3" r="0.95" fill="#1e1e1e"/><circle cx="172.8" cy="145.2" r="0.95" fill="#1e1e1e"/><circle cx="155.6" cy="131.3" r="0.95" fill="#1e1e1e"/><circle cx="183.2" cy="95.4" r="0.95" fill="#1e1e1e"/><circle cx="131.5" cy="121.3" r="0.95" fill="#1e1e1e"/><circle cx="165.9" cy="101.4" r="0.95" fill="#1e1e1e"/><circle cx="134.9" cy="95.4" r="0.95" fill="#1e1e1e"/><circle cx="190.1" cy="143.2" r="0.95" fill="#1e1e1e"/><circle cx="183.2" cy="139.2" r="0.95" fill="#1e1e1e"/><circle cx="152.1" cy="121.3" r="0.95" fill="#1e1e1e"/><circle cx="128.0" cy="151.2" r="0.95" fill="#1e1e1e"/><circle cx="172.8" cy="149.2" r="0.95" fill="#1e1e1e"/><circle cx="165.9" cy="145.2" r="0.95" fill="#1e1e1e"/><circle cx="134.9" cy="139.2" r="0.95" fill="#1e1e1e"/><circle cx="138.3" cy="133.3" r="0.95" fill="#1e1e1e"/><circle cx="131.5" cy="133.3" r="0.95" fill="#1e1e1e"/><circle cx="190.1" cy="103.4" r="0.95" fill="#1e1e1e"/><circle cx="172.9" cy="121.3" r="0.95" fill="#1e1e1e"/><circle cx="121.1" cy="107.4" r="0.95" fill="#1e1e1e"/><circle cx="172.8" cy="109.4" r="0.95" fill="#1e1e1e"/><circle cx="159.0" cy="121.3" r="0.95" fill="#1e1e1e"/><circle cx="114.2" cy="127.3" r="0.95" fill="#1e1e1e"/><circle cx="172.8" cy="113.3" r="0.95" fill="#1e1e1e"/><circle cx="141.8" cy="139.2" r="0.95" fill="#1e1e1e"/><circle cx="183.2" cy="143.2" r="0.95" fill="#1e1e1e"/><circle cx="152.2" cy="137.2" r="0.95" fill="#1e1e1e"/><circle cx="152.1" cy="125.3" r="0.95" fill="#1e1e1e"/><circle cx="145.2" cy="121.3" r="0.95" fill="#1e1e1e"/><circle cx="121.1" cy="151.2" r="0.95" fill="#1e1e1e"/><circle cx="134.9" cy="143.2" r="0.95" fill="#1e1e1e"/><circle cx="179.8" cy="121.3" r="0.95" fill="#1e1e1e"/><circle cx="131.4" cy="133.3" r="0.95" fill="#1e1e1e"/><circle cx="114.2" cy="91.4" r="0.95" fill="#1e1e1e"/><circle cx="190.1" cy="107.4" r="0.95" fill="#1e1e1e"/><circle cx="183.2" cy="103.4" r="0.95" fill="#1e1e1e"/><circle cx="152.2" cy="97.4" r="0.95" fill="#1e1e1e"/><circle cx="172.9" cy="125.3" r="0.95" fill="#1e1e1e"/><circle cx="159.1" cy="137.2" r="0.95" fill="#1e1e1e"/><circle cx="159.0" cy="125.3" r="0.95" fill="#1e1e1e"/><circle cx="152.1" cy="89.4" r="0.95" fill="#1e1e1e"/><circle cx="128.0" cy="119.3" r="0.95" fill="#1e1e1e"/><circle cx="134.9" cy="103.4" r="0.95" fill="#1e1e1e"/><circle cx="121.1" cy="115.3" r="0.95" fill="#1e1e1e"/><circle cx="165.9" cy="113.3" r="0.95" fill="#1e1e1e"/><circle cx="145.2" cy="133.3" r="0.95" fill="#1e1e1e"/><circle cx="141.8" cy="143.2" r="0.95" fill="#1e1e1e"/><circle cx="110.7" cy="101.4" r="0.95" fill="#1e1e1e"/><circle cx="166.0" cy="101.4" r="0.95" fill="#1e1e1e"/><circle cx="159.1" cy="97.4" r="0.95" fill="#1e1e1e"/><circle cx="179.8" cy="125.3" r="0.95" fill="#1e1e1e"/><circle cx="110.7" cy="145.2" r="0.95" fill="#1e1e1e"/><circle cx="159.0" cy="89.4" r="0.95" fill="#1e1e1e"/><circle cx="114.2" cy="95.4" r="0.95" fill="#1e1e1e"/><circle cx="141.8" cy="103.4" r="0.95" fill="#1e1e1e"/><circle cx="152.2" cy="101.4" r="0.95" fill="#1e1e1e"/><circle cx="190.1" cy="115.3" r="0.95" fill="#1e1e1e"/><circle cx="166.0" cy="145.2" r="0.95" fill="#1e1e1e"/><circle cx="145.2" cy="89.4" r="0.95" fill="#1e1e1e"/><circle cx="121.1" cy="119.3" r="0.95" fill="#1e1e1e"/><circle cx="114.2" cy="139.2" r="0.95" fill="#1e1e1e"/><circle cx="179.8" cy="89.4" r="0.95" fill="#1e1e1e"/><circle cx="159.1" cy="101.4" r="0.95" fill="#1e1e1e"/><circle cx="148.7" cy="107.4" r="0.95" fill="#1e1e1e"/><circle cx="110.7" cy="149.2" r="0.95" fill="#1e1e1e"/><circle cx="186.6" cy="121.3" r="0.95" fill="#1e1e1e"/><circle cx="141.8" cy="107.4" r="0.95" fill="#1e1e1e"/><circle cx="172.8" cy="133.3" r="0.95" fill="#1e1e1e"/><circle cx="166.0" cy="149.2" r="0.95" fill="#1e1e1e"/><circle cx="159.1" cy="145.2" r="0.95" fill="#1e1e1e"/><circle cx="148.7" cy="151.2" r="0.95" fill="#1e1e1e"/><circle cx="128.0" cy="127.3" r="0.95" fill="#1e1e1e"/><circle cx="159.0" cy="137.2" r="0.95" fill="#1e1e1e"/><circle cx="110.7" cy="109.4" r="0.95" fill="#1e1e1e"/><circle cx="110.7" cy="113.3" r="0.95" fill="#1e1e1e"/><circle cx="166.0" cy="109.4" r="0.95" fill="#1e1e1e"/><circle cx="166.0" cy="113.3" r="0.95" fill="#1e1e1e"/><circle cx="190.1" cy="131.3" r="0.95" fill="#1e1e1e"/><circle cx="131.4" cy="145.2" r="0.95" fill="#1e1e1e"/><circle cx="179.8" cy="137.2" r="0.95" fill="#1e1e1e"/><circle cx="186.6" cy="125.3" r="0.95" fill="#1e1e1e"/><circle cx="159.0" cy="97.4" r="0.95" fill="#1e1e1e"/><circle cx="155.6" cy="151.2" r="0.95" fill="#1e1e1e"/><circle cx="148.7" cy="115.3" r="0.95" fill="#1e1e1e"/><circle cx="128.0" cy="91.4" r="0.95" fill="#1e1e1e"/><circle cx="141.8" cy="115.3" r="0.95" fill="#1e1e1e"/><circle cx="165.9" cy="133.3" r="0.95" fill="#1e1e1e"/><circle cx="169.4" cy="127.3" r="0.95" fill="#1e1e1e"/><circle cx="179.8" cy="97.4" r="0.95" fill="#1e1e1e"/><circle cx="186.6" cy="89.4" r="0.95" fill="#1e1e1e"/><circle cx="159.1" cy="113.3" r="0.95" fill="#1e1e1e"/><circle cx="131.4" cy="149.2" r="0.95" fill="#1e1e1e"/><circle cx="183.2" cy="131.3" r="0.95" fill="#1e1e1e"/><circle cx="148.7" cy="119.3" r="0.95" fill="#1e1e1e"/><circle cx="128.0" cy="95.4" r="0.95" fill="#1e1e1e"/><circle cx="121.1" cy="91.4" r="0.95" fill="#1e1e1e"/><circle cx="134.9" cy="131.3" r="0.95" fill="#1e1e1e"/><circle cx="117.6" cy="137.2" r="0.95" fill="#1e1e1e"/><circle cx="138.4" cy="125.3" r="0.95" fill="#1e1e1e"/><circle cx="176.3" cy="139.2" r="0.95" fill="#1e1e1e"/><circle cx="131.4" cy="109.4" r="0.95" fill="#1e1e1e"/><circle cx="131.4" cy="113.3" r="0.95" fill="#1e1e1e"/><circle cx="155.6" cy="119.3" r="0.95" fill="#1e1e1e"/><circle cx="124.5" cy="101.4" r="0.95" fill="#1e1e1e"/><circle cx="117.6" cy="97.4" r="0.95" fill="#1e1e1e"/><circle cx="141.8" cy="131.3" r="0.95" fill="#1e1e1e"/><circle cx="169.4" cy="95.4" r="0.95" fill="#1e1e1e"/><circle cx="186.6" cy="137.2" r="0.95" fill="#1e1e1e"/><circle cx="124.5" cy="145.2" r="0.95" fill="#1e1e1e"/><circle cx="110.7" cy="133.3" r="0.95" fill="#1e1e1e"/><circle cx="176.3" cy="143.2" r="0.95" fill="#1e1e1e"/><circle cx="169.4" cy="139.2" r="0.95" fill="#1e1e1e"/><circle cx="138.3" cy="121.3" r="0.95" fill="#1e1e1e"/><circle cx="166.0" cy="133.3" r="0.95" fill="#1e1e1e"/><circle cx="186.6" cy="97.4" r="0.95" fill="#1e1e1e"/><circle cx="162.5" cy="127.3" r="0.95" fill="#1e1e1e"/><circle cx="117.6" cy="101.4" r="0.95" fill="#1e1e1e"/><circle cx="152.2" cy="133.3" r="0.95" fill="#1e1e1e"/><circle cx="176.3" cy="103.4" r="0.95" fill="#1e1e1e"/><circle cx="124.5" cy="149.2" r="0.95" fill="#1e1e1e"/><circle cx="117.6" cy="145.2" r="0.95" fill="#1e1e1e"/><circle cx="162.5" cy="91.4" r="0.95" fill="#1e1e1e"/><circle cx="169.4" cy="143.2" r="0.95" fill="#1e1e1e"/><circle cx="138.4" cy="137.2" r="0.95" fill="#1e1e1e"/><circle cx="138.3" cy="125.3" r="0.95" fill="#1e1e1e"/><circle cx="131.4" cy="121.3" r="0.95" fill="#1e1e1e"/><circle cx="159.1" cy="133.3" r="0.95" fill="#1e1e1e"/><circle cx="155.6" cy="127.3" r="0.95" fill="#1e1e1e"/><circle cx="148.7" cy="91.4" r="0.95" fill="#1e1e1e"/><circle cx="131.5" cy="125.3" r="0.95" fill="#1e1e1e"/><circle cx="124.5" cy="109.4" r="0.95" fill="#1e1e1e"/><circle cx="124.5" cy="113.3" r="0.95" fill="#1e1e1e"/><circle cx="176.3" cy="107.4" r="0.95" fill="#1e1e1e"/><circle cx="169.4" cy="103.4" r="0.95" fill="#1e1e1e"/><circle cx="138.4" cy="97.4" r="0.95" fill="#1e1e1e"/><circle cx="165.9" cy="149.2" r="0.95" fill="#1e1e1e"/><circle cx="138.3" cy="89.4" r="0.95" fill="#1e1e1e"/><circle cx="162.5" cy="95.4" r="0.95" fill="#1e1e1e"/><circle cx="155.6" cy="91.4" r="0.95" fill="#1e1e1e"/><circle cx="162.5" cy="139.2" r="0.95" fill="#1e1e1e"/><circle cx="165.9" cy="109.4" r="0.95" fill="#1e1e1e"/><circle cx="117.6" cy="113.3" r="0.95" fill="#1e1e1e"/><circle cx="138.4" cy="101.4" r="0.95" fill="#1e1e1e"/><circle cx="176.3" cy="115.3" r="0.95" fill="#1e1e1e"/><circle cx="145.2" cy="125.3" r="0.95" fill="#1e1e1e"/><circle cx="131.4" cy="89.4" r="0.95" fill="#1e1e1e"/><circle cx="155.6" cy="95.4" r="0.95" fill="#1e1e1e"/><circle cx="183.2" cy="107.4" r="0.95" fill="#1e1e1e"/><circle cx="131.5" cy="137.2" r="0.95" fill="#1e1e1e"/><circle cx="134.9" cy="107.4" r="0.95" fill="#1e1e1e"/><circle cx="172.8" cy="121.3" r="0.95" fill="#1e1e1e"/><circle cx="183.2" cy="151.2" r="0.95" fill="#1e1e1e"/><circle cx="152.2" cy="145.2" r="0.95" fill="#1e1e1e"/><circle cx="152.1" cy="137.2" r="0.95" fill="#1e1e1e"/><circle cx="134.9" cy="151.2" r="0.95" fill="#1e1e1e"/><circle cx="131.5" cy="97.4" r="0.95" fill="#1e1e1e"/><circle cx="190.1" cy="119.3" r="0.95" fill="#1e1e1e"/><circle cx="183.2" cy="115.3" r="0.95" fill="#1e1e1e"/><circle cx="124.5" cy="133.3" r="0.95" fill="#1e1e1e"/><circle cx="172.9" cy="137.2" r="0.95" fill="#1e1e1e"/><circle cx="152.1" cy="97.4" r="0.95" fill="#1e1e1e"/><circle cx="176.3" cy="131.3" r="0.95" fill="#1e1e1e"/><circle cx="172.8" cy="125.3" r="0.95" fill="#1e1e1e"/><circle cx="165.9" cy="121.3" r="0.95" fill="#1e1e1e"/><circle cx="114.2" cy="143.2" r="0.95" fill="#1e1e1e"/><circle cx="141.8" cy="151.2" r="0.95" fill="#1e1e1e"/><circle cx="134.9" cy="115.3" r="0.95" fill="#1e1e1e"/><circle cx="152.2" cy="149.2" r="0.95" fill="#1e1e1e"/><circle cx="145.2" cy="137.2" r="0.95" fill="#1e1e1e"/><circle cx="131.5" cy="101.4" r="0.95" fill="#1e1e1e"/><circle cx="172.9" cy="97.4" r="0.95" fill="#1e1e1e"/><circle cx="114.2" cy="103.4" r="0.95" fill="#1e1e1e"/><circle cx="172.8" cy="89.4" r="0.95" fill="#1e1e1e"/><circle cx="152.2" cy="109.4" r="0.95" fill="#1e1e1e"/><circle cx="183.2" cy="119.3" r="0.95" fill="#1e1e1e"/><circle cx="159.1" cy="149.2" r="0.95" fill="#1e1e1e"/><circle cx="152.2" cy="113.3" r="0.95" fill="#1e1e1e"/><circle cx="117.6" cy="133.3" r="0.95" fill="#1e1e1e"/><circle cx="152.1" cy="101.4" r="0.95" fill="#1e1e1e"/><circle cx="145.2" cy="97.4" r="0.95" fill="#1e1e1e"/><circle cx="121.1" cy="127.3" r="0.95" fill="#1e1e1e"/><circle cx="169.4" cy="131.3" r="0.95" fill="#1e1e1e"/><circle cx="165.9" cy="125.3" r="0.95" fill="#1e1e1e"/><circle cx="134.9" cy="119.3" r="0.95" fill="#1e1e1e"/><circle cx="152.1" cy="145.2" r="0.95" fill="#1e1e1e"/><circle cx="159.1" cy="109.4" r="0.95" fill="#1e1e1e"/><circle cx="172.9" cy="101.4" r="0.95" fill="#1e1e1e"/><circle cx="159.0" cy="101.4" r="0.95" fill="#1e1e1e"/><circle cx="114.2" cy="107.4" r="0.95" fill="#1e1e1e"/><circle cx="165.9" cy="89.4" r="0.95" fill="#1e1e1e"/><circle cx="141.8" cy="119.3" r="0.95" fill="#1e1e1e"/><circle cx="190.1" cy="127.3" r="0.95" fill="#1e1e1e"/><circle cx="172.9" cy="145.2" r="0.95" fill="#1e1e1e"/><circle cx="145.2" cy="101.4" r="0.95" fill="#1e1e1e"/><circle cx="159.0" cy="145.2" r="0.95" fill="#1e1e1e"/><circle cx="128.0" cy="139.2" r="0.95" fill="#1e1e1e"/><circle cx="114.2" cy="151.2" r="0.95" fill="#1e1e1e"/><circle cx="172.8" cy="137.2" r="0.95" fill="#1e1e1e"/><circle cx="179.8" cy="101.4" r="0.95" fill="#1e1e1e"/><circle cx="110.7" cy="121.3" r="0.95" fill="#1e1e1e"/><circle cx="190.1" cy="91.4" r="0.95" fill="#1e1e1e"/><circle cx="166.0" cy="121.3" r="0.95" fill="#1e1e1e"/><circle cx="179.8" cy="145.2" r="0.95" fill="#1e1e1e"/><circle cx="121.1" cy="95.4" r="0.95" fill="#1e1e1e"/><circle cx="172.8" cy="97.4" r="0.95" fill="#1e1e1e"/><circle cx="114.2" cy="115.3" r="0.95" fill="#1e1e1e"/></g>
<circle cx="140.04999999999998" cy="102.30000000000001" r="0.95" fill="#e8b21a"/>
<circle cx="143.65" cy="102.30000000000001" r="0.95" fill="#e8b21a"/>
<circle cx="140.04999999999998" cy="108.5" r="0.95" fill="#e8b21a"/>
<circle cx="143.65" cy="108.5" r="0.95" fill="#e8b21a"/>
<circle cx="141.85" cy="105.4" r="1.35" fill="#d41e1e"/>
<circle cx="153.85" cy="114.25" r="0.95" fill="#e8b21a"/>
<circle cx="157.45000000000002" cy="114.25" r="0.95" fill="#e8b21a"/>
<circle cx="153.85" cy="120.44999999999999" r="0.95" fill="#e8b21a"/>
<circle cx="157.45000000000002" cy="120.44999999999999" r="0.95" fill="#e8b21a"/>
<circle cx="155.65" cy="117.35" r="1.35" fill="#d41e1e"/>
<circle cx="133.14999999999998" cy="126.20000000000002" r="0.95" fill="#e8b21a"/>
<circle cx="136.75" cy="126.20000000000002" r="0.95" fill="#e8b21a"/>
<circle cx="133.14999999999998" cy="132.4" r="0.95" fill="#e8b21a"/>
<circle cx="136.75" cy="132.4" r="0.95" fill="#e8b21a"/>
<circle cx="134.95" cy="129.3" r="1.35" fill="#d41e1e"/>
<text x="114" y="151.8" font-family="'Liberation Sans', Arial, sans-serif" font-size="5.5" font-weight="bold" fill="#c42a26" stroke="#c42a26" stroke-width="0.3" textLength="64.6" lengthAdjust="spacingAndGlyphs">100% atomic Fe-<tspan fill="#e0a21a" stroke="#e0a21a">N</tspan><tspan fill="#e0a21a" stroke="#e0a21a" font-size="3.6" dy="1.3">4</tspan><tspan fill="#444" stroke="#444" dy="-1.3">-C</tspan></text>
<path d="M108,114.89999999999999 L102.0,114.89999999999999 L102.0,112.0 L95.5,117.8 L102.0,123.6 L102.0,120.7 L108,120.7 Z" fill="url(#arrL)"/>
<rect x="18.4" y="90.3" width="73" height="54.4" fill="url(#eqbox)"/>
<text stroke="#3c3c3c" stroke-width="0.196" x="24.1" y="100.3" font-family="'Liberation Sans', Arial, sans-serif" font-size="4.9" font-weight="bold" fill="#3c3c3c" textLength="65.5" lengthAdjust="spacingAndGlyphs">Fe<tspan font-size="3.1" dy="-1.9">2+</tspan><tspan dy="1.9"> + H</tspan><tspan font-size="3.1" dy="1.2">2</tspan><tspan dy="-1.2">O</tspan><tspan font-size="3.1" dy="1.2">2</tspan><tspan dy="-1.2"> → FeOOH</tspan><tspan font-size="3.1" dy="-1.9">2+</tspan><tspan dy="1.9"> + H</tspan><tspan font-size="3.1" dy="-1.9">+</tspan></text>
<text stroke="#3c3c3c" stroke-width="0.196" x="29.6" y="109.4" font-family="'Liberation Sans', Arial, sans-serif" font-size="4.9" font-weight="bold" fill="#3c3c3c" textLength="55.2" lengthAdjust="spacingAndGlyphs">FeOOH<tspan font-size="3.1" dy="-1.9">2+</tspan><tspan dy="1.9"> → Fe</tspan><tspan font-size="3.1" dy="-1.9">2+</tspan><tspan dy="1.9"> + HO</tspan><tspan font-size="3.1" dy="1.2">2</tspan><tspan font-size="3.1" dy="-2.4">·</tspan></text>
<text stroke="#3c3c3c" stroke-width="0.196" x="20.7" y="118.7" font-family="'Liberation Sans', Arial, sans-serif" font-size="4.9" font-weight="bold" fill="#3c3c3c" textLength="71.6" lengthAdjust="spacingAndGlyphs">Fe<tspan font-size="3.1" dy="-1.9">2+</tspan><tspan dy="1.9"> + H</tspan><tspan font-size="3.1" dy="1.2">2</tspan><tspan dy="-1.2">O</tspan><tspan font-size="3.1" dy="1.2">2</tspan><tspan dy="-1.2"> → Fe</tspan><tspan font-size="3.1" dy="-1.9">3+</tspan><tspan dy="1.9"> + OH</tspan><tspan font-size="3.1" dy="-1.9">-</tspan><tspan dy="1.9"> + OH·</tspan></text>
<rect x="19.5" y="130.6" width="71.5" height="14.1" fill="#cfcfcb"/>
<text stroke="#1f7f72" stroke-width="0.192" x="30.5" y="129.7" font-family="'Liberation Sans', Arial, sans-serif" font-size="4.8" font-weight="bold" fill="#1f7f72" text-anchor="middle" >TMB</text>
<circle cx="30.5" cy="137.2" r="6.1" fill="#ebebe7"/>
<circle cx="30.5" cy="137.2" r="5.2" fill="#17604f"/>
<circle cx="30.2" cy="136.8" r="4.3" fill="#34a08a"/>
<ellipse cx="29.3" cy="135.2" rx="1.9" ry="1.2" fill="#ffffff" opacity="0.3"/>
<text stroke="#2a3c62" stroke-width="0.192" x="43.6" y="129.7" font-family="'Liberation Sans', Arial, sans-serif" font-size="4.8" font-weight="bold" fill="#2a3c62" text-anchor="middle" >DAB</text>
<circle cx="43.6" cy="137.2" r="6.1" fill="#ebebe7"/>
<circle cx="43.6" cy="137.2" r="5.2" fill="#1f2a46"/>
<circle cx="43.300000000000004" cy="136.8" r="4.3" fill="#3f547c"/>
<ellipse cx="42.4" cy="135.2" rx="1.9" ry="1.2" fill="#ffffff" opacity="0.3"/>
<text stroke="#b8342e" stroke-width="0.192" x="57" y="129.7" font-family="'Liberation Sans', Arial, sans-serif" font-size="4.8" font-weight="bold" fill="#b8342e" text-anchor="middle" >ACE</text>
<circle cx="57" cy="137.2" r="6.1" fill="#ebebe7"/>
<circle cx="57" cy="137.2" r="5.2" fill="#8e302a"/>
<circle cx="56.7" cy="136.8" r="4.3" fill="#d66c60"/>
<ellipse cx="55.8" cy="135.2" rx="1.9" ry="1.2" fill="#ffffff" opacity="0.3"/>
<text stroke="#e2d27a" stroke-width="0.192" x="69.9" y="129.7" font-family="'Liberation Sans', Arial, sans-serif" font-size="4.8" font-weight="bold" fill="#e2d27a" text-anchor="middle" >OPD</text>
<circle cx="69.9" cy="137.2" r="6.1" fill="#ebebe7"/>
<circle cx="69.9" cy="137.2" r="5.2" fill="#a89a48"/>
<circle cx="69.60000000000001" cy="136.8" r="4.3" fill="#e6d67e"/>
<ellipse cx="68.7" cy="135.2" rx="1.9" ry="1.2" fill="#ffffff" opacity="0.3"/>
<text stroke="#4aa8a0" stroke-width="0.192" x="83" y="129.7" font-family="'Liberation Sans', Arial, sans-serif" font-size="4.8" font-weight="bold" fill="#4aa8a0" text-anchor="middle" >ABTS</text>
<circle cx="83" cy="137.2" r="6.1" fill="#ebebe7"/>
<circle cx="83" cy="137.2" r="5.2" fill="#2a726a"/>
<circle cx="82.7" cy="136.8" r="4.3" fill="#62bab2"/>
<ellipse cx="81.8" cy="135.2" rx="1.9" ry="1.2" fill="#ffffff" opacity="0.3"/>
<text x="18.9" y="151.9" font-family="'Liberation Sans', Arial, sans-serif" font-size="5.7" font-weight="bold" fill="#1d6b5f" text-anchor="start" textLength="73.4" lengthAdjust="spacingAndGlyphs" stroke="#1d6b5f" stroke-width="0.4">Peroxidase-like activity</text>
<rect x="16.8" y="158" width="255" height="72.6" fill="url(#ybg)"/>
<text stroke="#111" stroke-width="0.46" x="6.3" y="175.6" font-family="'Liberation Sans', Arial, sans-serif" font-size="11.5" font-weight="bold" fill="#111" text-anchor="start" >B</text>
<path d="M18.2,178.4 L49.4,178.4 L48.4,181.6 L48.4,221.6 Q48.4,223.9 46,223.9 L21.8,223.9 Q19.4,223.9 19.4,221.6 L19.4,181.6 Z" fill="#f6f6f6" stroke="#cfcfcf" stroke-width="0.6"/>
<path d="M19.8,192.5 L48,192.5 L48,221.5 Q48,223.5 45.8,223.5 L21.8,223.5 Q19.8,223.5 19.8,221.5 Z" fill="#e4e4e4"/>
<path d="M19.8,192.5 L48,192.5 L48,194.8 L19.8,194.8 Z" fill="#d6d6d6"/>
<g fill="#fbfbfb" stroke="#d8d8d8" stroke-width="0.3"><ellipse cx="28.5" cy="210" rx="4.6" ry="3.2" transform="rotate(-30 28.5 210)"/><ellipse cx="35" cy="213.5" rx="4.5" ry="2.6"/><ellipse cx="41" cy="205.5" rx="2.6" ry="2.6"/><ellipse cx="27" cy="216" rx="3" ry="2"/><ellipse cx="35.5" cy="219" rx="5" ry="1.8"/><ellipse cx="33" cy="207" rx="2.5" ry="1.8"/></g>
<rect x="20.3" y="181" width="1.8" height="40" fill="#ffffff" opacity="0.7"/>
<text x="17.6" y="230.0" font-family="'Liberation Sans', Arial, sans-serif" font-size="5.0" font-weight="bold" fill="#2a2a2a" text-anchor="start" textLength="31.5" lengthAdjust="spacingAndGlyphs" stroke="#2a2a2a" stroke-width="0.32">BTCh+SAN</text>
<path d="M37.8,175 L43.3,171.2 L57.5,177.6" fill="none" stroke="#111" stroke-width="2.0" stroke-linejoin="miter"/>
<path d="M55.2,173.6 L63.6,179.4 L53.6,181.2 Z" fill="#111"/>
<text x="39" y="167.9" font-family="'Liberation Sans', Arial, sans-serif" font-size="5.0" font-weight="bold" fill="#2a2a2a" text-anchor="start" textLength="22" lengthAdjust="spacingAndGlyphs" stroke="#2a2a2a" stroke-width="0.3">Remove</text>
<ellipse cx="72.3" cy="181.6" rx="7.8" ry="4.7" transform="rotate(-32 72.3 181.6)" fill="#c9c9c9"/>
<ellipse cx="72" cy="181.1" rx="7.6" ry="4.5" transform="rotate(-32 72 181.1)" fill="#f7f7f7" stroke="#d6d6d6" stroke-width="0.4"/>
<path d="M77.2,191.6 L79.6,189.8 L86.8,200.6 L89.4,199 L89.2,205.4 L83.2,203.4 L85.6,201.8 Z" fill="#111"/>
<text x="69.8" y="201.7" font-family="'Liberation Sans', Arial, sans-serif" font-size="5.0" font-weight="bold" fill="#2a2a2a" text-anchor="start" textLength="9.6" lengthAdjust="spacingAndGlyphs" stroke="#2a2a2a" stroke-width="0.3">Dry</text>
<text x="95.5" y="167.9" font-family="'Liberation Sans', Arial, sans-serif" font-size="5.0" font-weight="bold" fill="#2a2a2a" text-anchor="start" textLength="14.5" lengthAdjust="spacingAndGlyphs" stroke="#2a2a2a" stroke-width="0.3">BChE</text>
<path d="M114.3,171.2 L117.6,172.39999999999998 L104.35,189.8 L103.65,189.60000000000002 Z" fill="#e6eeec" stroke="#a6b2ae" stroke-width="0.35"/>
<path d="M113.89999999999999,170.6 L118.1,172.1 L117.2,174.79999999999998 L114.5,173.89999999999998 Z" fill="#9fbcb4"/>
<path d="M102.7,195.2 Q105.2,198.79999999999998 105.0,200.2 A2.3,2.3 0 0 1 100.4,200.2 Q100.2,198.79999999999998 102.7,195.2 Z" fill="#bdcbd0" stroke="#93a3a8" stroke-width="0.3"/>
<ellipse cx="101.9" cy="199.4" rx="0.6" ry="0.9" fill="#fff" opacity="0.7"/>
<ellipse cx="102.8" cy="218.1" rx="21.4" ry="4.2" fill="#c4c8cc"/>
<ellipse cx="102.8" cy="216.6" rx="21.4" ry="4.2" fill="#f9fafb" stroke="#dde0e3" stroke-width="0.4"/>
<ellipse cx="102.8" cy="216.6" rx="14.979999999999999" ry="2.3100000000000005" fill="none" stroke="#d5d9dd" stroke-width="0.5"/>
<path d="M102.8,203.5 L102.8,216" stroke="#aebfc4" stroke-width="0.6"/>
<text x="88.8" y="229.8" font-family="'Liberation Sans', Arial, sans-serif" font-size="5.0" font-weight="bold" fill="#2a2a2a" text-anchor="start" textLength="26.5" lengthAdjust="spacingAndGlyphs" stroke="#2a2a2a" stroke-width="0.3">Test paper</text>
<text x="122.3" y="196.8" font-family="'Liberation Sans', Arial, sans-serif" font-size="5.0" font-weight="bold" fill="#2a2a2a" text-anchor="start" textLength="24.5" lengthAdjust="spacingAndGlyphs" stroke="#2a2a2a" stroke-width="0.3">Reaction</text>
<path d="M127.2,201.1 L139.79999999999998,201.79999999999998 L139.6,199.79999999999998 L144.6,202.6 L139.6,205.4 L139.79999999999998,203.6 L127.2,204.1 Z" fill="#111"/>
<text x="189" y="196.8" font-family="'Liberation Sans', Arial, sans-serif" font-size="5.0" font-weight="bold" fill="#2a2a2a" text-anchor="start" textLength="24.5" lengthAdjust="spacingAndGlyphs" stroke="#2a2a2a" stroke-width="0.3">Reaction</text>
<path d="M193.5,202.7 L205.5,203.39999999999998 L205.3,201.39999999999998 L210.3,204.2 L205.3,207.0 L205.5,205.2 L193.5,205.7 Z" fill="#111"/>
<text stroke="#2a2a2a" stroke-width="0.212" x="159.8" y="168.0" font-family="'Liberation Sans', Arial, sans-serif" font-size="5.3" font-weight="bold" fill="#2a2a2a" text-anchor="start" textLength="29.2" lengthAdjust="spacingAndGlyphs" >TMB+H<tspan font-size="3.6" dy="0.9">2</tspan><tspan dy="-0.9">O</tspan><tspan font-size="3.6" dy="0.9">2</tspan></text>
<path d="M185.9,175.0 L189.20000000000002,176.2 L174.95,192.6 L174.25,192.4 Z" fill="#e6eeec" stroke="#a6b2ae" stroke-width="0.35"/>
<path d="M185.5,174.4 L189.70000000000002,175.9 L188.8,178.6 L186.1,177.7 Z" fill="#9fbcb4"/>
<path d="M174.3,197.2 Q176.8,200.79999999999998 176.60000000000002,202.2 A2.3,2.3 0 0 1 172.0,202.2 Q171.8,200.79999999999998 174.3,197.2 Z" fill="#bdcbd0" stroke="#93a3a8" stroke-width="0.3"/>
<ellipse cx="173.5" cy="201.4" rx="0.6" ry="0.9" fill="#fff" opacity="0.7"/>
<ellipse cx="173.2" cy="218.5" rx="20.8" ry="4.0" fill="#c4c8cc"/>
<ellipse cx="173.2" cy="217.0" rx="20.8" ry="4.0" fill="#f9fafb" stroke="#dde0e3" stroke-width="0.4"/>
<ellipse cx="173.2" cy="217.0" rx="14.559999999999999" ry="2.2" fill="none" stroke="#d5d9dd" stroke-width="0.5"/>
<path d="M174.3,205.5 L174.3,216" stroke="#aebfc4" stroke-width="0.6"/>
<ellipse cx="239.4" cy="206.9" rx="21.8" ry="4.4" fill="#4a9ccc"/>
<ellipse cx="239.4" cy="205.5" rx="21.8" ry="4.2" fill="#74c2e6"/>
<g stroke="#2a2a2a" stroke-width="0.6" stroke-dasharray="1,0.8"><path d="M217.8,205 L226,177.6"/><path d="M260.8,205 L236.5,181"/></g>
<path d="M218.2,171.8 L228,165.4 L270.6,179.3 L260,187 Z" fill="#161616" stroke="#161616" stroke-width="1.4" stroke-linejoin="round"/>
<path d="M218.2,170.8 L228,164.4 L270.6,178.3 L260,186 Z" fill="#ffffff" stroke="#161616" stroke-width="1.3" stroke-linejoin="round"/>
<ellipse cx="232" cy="172.5" rx="5.2" ry="2.3" transform="rotate(16 232 172.5)" fill="#4aa6dc"/>
<path d="M233.8,167.3 l2,0.6" stroke="#e04a4a" stroke-width="0.7"/><path d="M237.6,168.4 l2,0.6" stroke="#40c060" stroke-width="0.7"/><path d="M241,169.6 l2,0.6" stroke="#4060e0" stroke-width="0.7"/>
<path d="M240.5,173.6 l7.5,2.4 M244,176.8 l7.5,2.4" stroke="#7a7a7a" stroke-width="0.6"/>
<path d="M88.6,231.9 L92.3,236.3 L89.6,236.3 L88.6,244.4 L87.6,236.3 L84.9,236.3 Z" fill="#6b6b6b"/>
<path d="M218,244.3 L221.7,239.9 L219,239.9 L218,231.8 L217,239.9 L214.3,239.9 Z" fill="#6b6b6b"/>
<rect x="35.2" y="246.4" width="103.8" height="76.4" fill="#ffffff" stroke="#5a5a5a" stroke-width="0.7"/>
<path d="M35.2,322.80 l-1.3,0" stroke="#5a5a5a" stroke-width="0.5"/>
<text stroke="#333" stroke-width="0.14" x="31.6" y="324.05" font-family="'Liberation Sans', Arial, sans-serif" font-size="3.5" font-weight="bold" fill="#333" text-anchor="end" >0.000</text>
<path d="M35.2,317.73 l-0.8,0" stroke="#5a5a5a" stroke-width="0.4"/>
<path d="M35.2,312.65 l-1.3,0" stroke="#5a5a5a" stroke-width="0.5"/>
<text stroke="#333" stroke-width="0.14" x="31.6" y="313.90000000000003" font-family="'Liberation Sans', Arial, sans-serif" font-size="3.5" font-weight="bold" fill="#333" text-anchor="end" >0.001</text>
<path d="M35.2,307.57 l-0.8,0" stroke="#5a5a5a" stroke-width="0.4"/>
<path d="M35.2,302.50 l-1.3,0" stroke="#5a5a5a" stroke-width="0.5"/>
<text stroke="#333" stroke-width="0.14" x="31.6" y="303.75" font-family="'Liberation Sans', Arial, sans-serif" font-size="3.5" font-weight="bold" fill="#333" text-anchor="end" >0.002</text>
<path d="M35.2,297.43 l-0.8,0" stroke="#5a5a5a" stroke-width="0.4"/>
<path d="M35.2,292.35 l-1.3,0" stroke="#5a5a5a" stroke-width="0.5"/>
<text stroke="#333" stroke-width="0.14" x="31.6" y="293.6" font-family="'Liberation Sans', Arial, sans-serif" font-size="3.5" font-weight="bold" fill="#333" text-anchor="end" >0.003</text>
<path d="M35.2,287.28 l-0.8,0" stroke="#5a5a5a" stroke-width="0.4"/>
<path d="M35.2,282.20 l-1.3,0" stroke="#5a5a5a" stroke-width="0.5"/>
<text stroke="#333" stroke-width="0.14" x="31.6" y="283.45" font-family="'Liberation Sans', Arial, sans-serif" font-size="3.5" font-weight="bold" fill="#333" text-anchor="end" >0.004</text>
<path d="M35.2,277.12 l-0.8,0" stroke="#5a5a5a" stroke-width="0.4"/>
<path d="M35.2,272.05 l-1.3,0" stroke="#5a5a5a" stroke-width="0.5"/>
<text stroke="#333" stroke-width="0.14" x="31.6" y="273.3" font-family="'Liberation Sans', Arial, sans-serif" font-size="3.5" font-weight="bold" fill="#333" text-anchor="end" >0.005</text>
<path d="M35.2,266.98 l-0.8,0" stroke="#5a5a5a" stroke-width="0.4"/>
<path d="M35.2,261.90 l-1.3,0" stroke="#5a5a5a" stroke-width="0.5"/>
<text stroke="#333" stroke-width="0.14" x="31.6" y="263.15000000000003" font-family="'Liberation Sans', Arial, sans-serif" font-size="3.5" font-weight="bold" fill="#333" text-anchor="end" >0.006</text>
<path d="M35.2,256.82 l-0.8,0" stroke="#5a5a5a" stroke-width="0.4"/>
<path d="M35.2,251.75 l-1.3,0" stroke="#5a5a5a" stroke-width="0.5"/>
<text stroke="#333" stroke-width="0.14" x="31.6" y="253.0" font-family="'Liberation Sans', Arial, sans-serif" font-size="3.5" font-weight="bold" fill="#333" text-anchor="end" >0.007</text>
<path d="M35.40,322.8 l0,1.3" stroke="#5a5a5a" stroke-width="0.5"/>
<text stroke="#333" stroke-width="0.14" x="35.4" y="328.9" font-family="'Liberation Sans', Arial, sans-serif" font-size="3.5" font-weight="bold" fill="#333" text-anchor="middle" >0.00</text>
<path d="M44.80,322.8 l0,0.8" stroke="#5a5a5a" stroke-width="0.4"/>
<path d="M54.20,322.8 l0,1.3" stroke="#5a5a5a" stroke-width="0.5"/>
<text stroke="#333" stroke-width="0.14" x="54.2" y="328.9" font-family="'Liberation Sans', Arial, sans-serif" font-size="3.5" font-weight="bold" fill="#333" text-anchor="middle" >0.02</text>
<path d="M63.60,322.8 l0,0.8" stroke="#5a5a5a" stroke-width="0.4"/>
<path d="M73.00,322.8 l0,1.3" stroke="#5a5a5a" stroke-width="0.5"/>
<text stroke="#333" stroke-width="0.14" x="73.0" y="328.9" font-family="'Liberation Sans', Arial, sans-serif" font-size="3.5" font-weight="bold" fill="#333" text-anchor="middle" >0.04</text>
<path d="M82.40,322.8 l0,0.8" stroke="#5a5a5a" stroke-width="0.4"/>
<path d="M91.80,322.8 l0,1.3" stroke="#5a5a5a" stroke-width="0.5"/>
<text stroke="#333" stroke-width="0.14" x="91.8" y="328.9" font-family="'Liberation Sans', Arial, sans-serif" font-size="3.5" font-weight="bold" fill="#333" text-anchor="middle" >0.06</text>
<path d="M101.20,322.8 l0,0.8" stroke="#5a5a5a" stroke-width="0.4"/>
<path d="M110.60,322.8 l0,1.3" stroke="#5a5a5a" stroke-width="0.5"/>
<text stroke="#333" stroke-width="0.14" x="110.6" y="328.9" font-family="'Liberation Sans', Arial, sans-serif" font-size="3.5" font-weight="bold" fill="#333" text-anchor="middle" >0.08</text>
<path d="M120.00,322.8 l0,0.8" stroke="#5a5a5a" stroke-width="0.4"/>
<path d="M129.40,322.8 l0,1.3" stroke="#5a5a5a" stroke-width="0.5"/>
<text stroke="#333" stroke-width="0.14" x="129.4" y="328.9" font-family="'Liberation Sans', Arial, sans-serif" font-size="3.5" font-weight="bold" fill="#333" text-anchor="middle" >0.10</text>
<path d="M44.80,307.78 L129.40,255.00" stroke="#333" stroke-width="0.55"/>
<path d="M44.80,317.52 L129.40,299.46" stroke="#333" stroke-width="0.55"/>
<path d="M44.80,311.63 L44.80,304.53 M44.00,311.63 l1.6,0 M44.00,304.53 l1.6,0" stroke="#e01818" stroke-width="0.5"/>
<rect x="43.80" y="307.08" width="2" height="2" fill="#ee1c1c"/>
<path d="M54.20,304.43 L54.20,299.96 M53.40,304.43 l1.6,0 M53.40,299.96 l1.6,0" stroke="#e01818" stroke-width="0.5"/>
<rect x="53.20" y="301.20" width="2" height="2" fill="#ee1c1c"/>
<path d="M73.00,290.32 L73.00,286.26 M72.20,290.32 l1.6,0 M72.20,286.26 l1.6,0" stroke="#e01818" stroke-width="0.5"/>
<rect x="72.00" y="287.29" width="2" height="2" fill="#ee1c1c"/>
<path d="M91.80,281.69 L91.80,276.62 M91.00,281.69 l1.6,0 M91.00,276.62 l1.6,0" stroke="#e01818" stroke-width="0.5"/>
<rect x="90.80" y="278.16" width="2" height="2" fill="#ee1c1c"/>
<path d="M110.60,268.50 L110.60,265.45 M109.80,268.50 l1.6,0 M109.80,265.45 l1.6,0" stroke="#e01818" stroke-width="0.5"/>
<rect x="109.60" y="265.98" width="2" height="2" fill="#ee1c1c"/>
<path d="M129.40,258.86 L129.40,250.74 M128.60,258.86 l1.6,0 M128.60,250.74 l1.6,0" stroke="#e01818" stroke-width="0.5"/>
<rect x="128.40" y="253.80" width="2" height="2" fill="#ee1c1c"/>
<rect x="43.80" y="316.52" width="2" height="2" fill="#1c1ce0"/>
<rect x="53.20" y="314.49" width="2" height="2" fill="#1c1ce0"/>
<rect x="72.00" y="309.82" width="2" height="2" fill="#1c1ce0"/>
<rect x="90.80" y="305.86" width="2" height="2" fill="#1c1ce0"/>
<rect x="109.60" y="302.21" width="2" height="2" fill="#1c1ce0"/>
<rect x="128.40" y="298.86" width="2" height="2" fill="#1c1ce0"/>
<rect x="43.9" y="252.5" width="1.6" height="1.6" fill="#ee1c1c"/><rect x="43.9" y="257.4" width="1.6" height="1.6" fill="#1c1ce0"/>
<text stroke="#222" stroke-width="0.148" x="50.3" y="254.6" font-family="'Liberation Sans', Arial, sans-serif" font-size="3.7" font-weight="bold" fill="#222" text-anchor="start" textLength="40.8" lengthAdjust="spacingAndGlyphs" >Peroxidase-like activity</text>
<text stroke="#222" stroke-width="0.148" x="50.3" y="259.5" font-family="'Liberation Sans', Arial, sans-serif" font-size="3.7" font-weight="bold" fill="#222" text-anchor="start" textLength="35.4" lengthAdjust="spacingAndGlyphs" >Oxidase-like activity</text>
<text stroke="#222" stroke-width="0.144" x="104.3" y="274.5" font-family="'Liberation Sans', Arial, sans-serif" font-size="3.6" font-weight="bold" fill="#222" textLength="30.2" lengthAdjust="spacingAndGlyphs">SA = 57.76 U mg<tspan font-size="2.3" dy="-1.4">-1</tspan></text>
<text stroke="#222" stroke-width="0.144" x="104.3" y="308.3" font-family="'Liberation Sans', Arial, sans-serif" font-size="3.6" font-weight="bold" fill="#222" textLength="30.2" lengthAdjust="spacingAndGlyphs">SA = 19.77 U mg<tspan font-size="2.3" dy="-1.4">-1</tspan></text>
<text stroke="#222" stroke-width="0.176" transform="translate(20.1,287.5) rotate(-90)" font-family="'Liberation Sans', Arial, sans-serif" font-size="4.4" font-weight="bold" fill="#222" text-anchor="middle" textLength="41" lengthAdjust="spacingAndGlyphs">Enzyme activity (U)</text>
<text stroke="#222" stroke-width="0.172" x="86.6" y="337.0" font-family="'Liberation Sans', Arial, sans-serif" font-size="4.3" font-weight="bold" fill="#222" text-anchor="middle" textLength="55" lengthAdjust="spacingAndGlyphs" >Amount of Fe-N-C SAN (μg)</text>
<rect x="166.2" y="246.3" width="104.10000000000002" height="77.09999999999997" fill="#ffffff" stroke="#5a5a5a" stroke-width="0.7"/>
<path d="M166.2,323.40 l-1.3,0" stroke="#5a5a5a" stroke-width="0.5"/>
<text stroke="#333" stroke-width="0.14" x="163.3" y="324.65" font-family="'Liberation Sans', Arial, sans-serif" font-size="3.5" font-weight="bold" fill="#333" text-anchor="end" >0.34</text>
<path d="M166.2,319.10 l-0.8,0" stroke="#5a5a5a" stroke-width="0.4"/>
<path d="M166.2,314.80 l-1.3,0" stroke="#5a5a5a" stroke-width="0.5"/>
<text stroke="#333" stroke-width="0.14" x="163.3" y="316.04999999999995" font-family="'Liberation Sans', Arial, sans-serif" font-size="3.5" font-weight="bold" fill="#333" text-anchor="end" >0.35</text>
<path d="M166.2,310.50 l-0.8,0" stroke="#5a5a5a" stroke-width="0.4"/>
<path d="M166.2,306.20 l-1.3,0" stroke="#5a5a5a" stroke-width="0.5"/>
<text stroke="#333" stroke-width="0.14" x="163.3" y="307.44999999999993" font-family="'Liberation Sans', Arial, sans-serif" font-size="3.5" font-weight="bold" fill="#333" text-anchor="end" >0.36</text>
<path d="M166.2,301.90 l-0.8,0" stroke="#5a5a5a" stroke-width="0.4"/>
<path d="M166.2,297.60 l-1.3,0" stroke="#5a5a5a" stroke-width="0.5"/>
<text stroke="#333" stroke-width="0.14" x="163.3" y="298.85" font-family="'Liberation Sans', Arial, sans-serif" font-size="3.5" font-weight="bold" fill="#333" text-anchor="end" >0.37</text>
<path d="M166.2,293.30 l-0.8,0" stroke="#5a5a5a" stroke-width="0.4"/>
<path d="M166.2,289.00 l-1.3,0" stroke="#5a5a5a" stroke-width="0.5"/>
<text stroke="#333" stroke-width="0.14" x="163.3" y="290.25" font-family="'Liberation Sans', Arial, sans-serif" font-size="3.5" font-weight="bold" fill="#333" text-anchor="end" >0.38</text>
<path d="M166.2,284.70 l-0.8,0" stroke="#5a5a5a" stroke-width="0.4"/>
<path d="M166.2,280.40 l-1.3,0" stroke="#5a5a5a" stroke-width="0.5"/>
<text stroke="#333" stroke-width="0.14" x="163.3" y="281.65" font-family="'Liberation Sans', Arial, sans-serif" font-size="3.5" font-weight="bold" fill="#333" text-anchor="end" >0.39</text>
<path d="M166.2,276.10 l-0.8,0" stroke="#5a5a5a" stroke-width="0.4"/>
<path d="M166.2,271.80 l-1.3,0" stroke="#5a5a5a" stroke-width="0.5"/>
<text stroke="#333" stroke-width="0.14" x="163.3" y="273.04999999999995" font-family="'Liberation Sans', Arial, sans-serif" font-size="3.5" font-weight="bold" fill="#333" text-anchor="end" >0.40</text>
<path d="M166.2,267.50 l-0.8,0" stroke="#5a5a5a" stroke-width="0.4"/>
<path d="M166.2,263.20 l-1.3,0" stroke="#5a5a5a" stroke-width="0.5"/>
<text stroke="#333" stroke-width="0.14" x="163.3" y="264.45" font-family="'Liberation Sans', Arial, sans-serif" font-size="3.5" font-weight="bold" fill="#333" text-anchor="end" >0.41</text>
<path d="M166.2,258.90 l-0.8,0" stroke="#5a5a5a" stroke-width="0.4"/>
<path d="M166.2,254.60 l-1.3,0" stroke="#5a5a5a" stroke-width="0.5"/>
<text stroke="#333" stroke-width="0.14" x="163.3" y="255.84999999999997" font-family="'Liberation Sans', Arial, sans-serif" font-size="3.5" font-weight="bold" fill="#333" text-anchor="end" >0.42</text>
<path d="M166.2,250.30 l-0.8,0" stroke="#5a5a5a" stroke-width="0.4"/>
<path d="M166.2,246.00 l-1.3,0" stroke="#5a5a5a" stroke-width="0.5"/>
<text stroke="#333" stroke-width="0.14" x="163.3" y="247.24999999999994" font-family="'Liberation Sans', Arial, sans-serif" font-size="3.5" font-weight="bold" fill="#333" text-anchor="end" >0.43</text>
<path d="M171.40,323.4 l0,1.3" stroke="#5a5a5a" stroke-width="0.5"/>
<text stroke="#333" stroke-width="0.14" x="171.4" y="329.5" font-family="'Liberation Sans', Arial, sans-serif" font-size="3.5" font-weight="bold" fill="#333" text-anchor="middle" >0</text>
<path d="M193.60,323.4 l0,1.3" stroke="#5a5a5a" stroke-width="0.5"/>
<text stroke="#333" stroke-width="0.14" x="193.60000000000002" y="329.5" font-family="'Liberation Sans', Arial, sans-serif" font-size="3.5" font-weight="bold" fill="#333" text-anchor="middle" >10</text>
<path d="M215.80,323.4 l0,1.3" stroke="#5a5a5a" stroke-width="0.5"/>
<text stroke="#333" stroke-width="0.14" x="215.8" y="329.5" font-family="'Liberation Sans', Arial, sans-serif" font-size="3.5" font-weight="bold" fill="#333" text-anchor="middle" >20</text>
<path d="M238.00,323.4 l0,1.3" stroke="#5a5a5a" stroke-width="0.5"/>
<text stroke="#333" stroke-width="0.14" x="238.0" y="329.5" font-family="'Liberation Sans', Arial, sans-serif" font-size="3.5" font-weight="bold" fill="#333" text-anchor="middle" >30</text>
<path d="M260.20,323.4 l0,1.3" stroke="#5a5a5a" stroke-width="0.5"/>
<text stroke="#333" stroke-width="0.14" x="260.20000000000005" y="329.5" font-family="'Liberation Sans', Arial, sans-serif" font-size="3.5" font-weight="bold" fill="#333" text-anchor="middle" >40</text>
<path d="M182.50,323.4 l0,0.8" stroke="#5a5a5a" stroke-width="0.4"/>
<path d="M204.70,323.4 l0,0.8" stroke="#5a5a5a" stroke-width="0.4"/>
<path d="M226.90,323.4 l0,0.8" stroke="#5a5a5a" stroke-width="0.4"/>
<path d="M249.10,323.4 l0,0.8" stroke="#5a5a5a" stroke-width="0.4"/>
<path d="M171.40,258.04 L171.40,255.46 M170.60,258.04 l1.6,0 M170.60,255.46 l1.6,0" stroke="#e01818" stroke-width="0.5"/>
<rect x="170.45" y="255.80" width="1.9" height="1.9" fill="#ee1c1c"/>
<path d="M171.96,256.06 L171.96,254.00 M171.16,256.06 l1.6,0 M171.16,254.00 l1.6,0" stroke="#e01818" stroke-width="0.5"/>
<rect x="171.01" y="254.08" width="1.9" height="1.9" fill="#ee1c1c"/>
<path d="M172.51,255.03 L172.51,253.31 M171.71,255.03 l1.6,0 M171.71,253.31 l1.6,0" stroke="#e01818" stroke-width="0.5"/>
<rect x="171.56" y="253.22" width="1.9" height="1.9" fill="#ee1c1c"/>
<path d="M173.62,262.86 L173.62,261.82 M172.82,262.86 l1.6,0 M172.82,261.82 l1.6,0" stroke="#e01818" stroke-width="0.5"/>
<rect x="172.67" y="261.39" width="1.9" height="1.9" fill="#ee1c1c"/>
<path d="M175.84,270.68 L175.84,266.90 M175.04,270.68 l1.6,0 M175.04,266.90 l1.6,0" stroke="#e01818" stroke-width="0.5"/>
<rect x="174.89" y="267.84" width="1.9" height="1.9" fill="#ee1c1c"/>
<path d="M180.28,272.92 L180.28,268.10 M179.48,272.92 l1.6,0 M179.48,268.10 l1.6,0" stroke="#e01818" stroke-width="0.5"/>
<rect x="179.33" y="269.56" width="1.9" height="1.9" fill="#ee1c1c"/>
<path d="M184.72,276.10 L184.72,272.66 M183.92,276.10 l1.6,0 M183.92,272.66 l1.6,0" stroke="#e01818" stroke-width="0.5"/>
<rect x="183.77" y="273.43" width="1.9" height="1.9" fill="#ee1c1c"/>
<path d="M189.16,278.68 L189.16,276.96 M188.36,278.68 l1.6,0 M188.36,276.96 l1.6,0" stroke="#e01818" stroke-width="0.5"/>
<rect x="188.21" y="276.87" width="1.9" height="1.9" fill="#ee1c1c"/>
<path d="M193.60,283.84 L193.60,280.40 M192.80,283.84 l1.6,0 M192.80,280.40 l1.6,0" stroke="#e01818" stroke-width="0.5"/>
<rect x="192.65" y="281.17" width="1.9" height="1.9" fill="#ee1c1c"/>
<path d="M204.70,289.43 L204.70,285.13 M203.90,289.43 l1.6,0 M203.90,285.13 l1.6,0" stroke="#e01818" stroke-width="0.5"/>
<rect x="203.75" y="286.33" width="1.9" height="1.9" fill="#ee1c1c"/>
<path d="M215.80,296.31 L215.80,293.73 M215.00,296.31 l1.6,0 M215.00,293.73 l1.6,0" stroke="#e01818" stroke-width="0.5"/>
<rect x="214.85" y="294.07" width="1.9" height="1.9" fill="#ee1c1c"/>
<path d="M238.00,306.89 L238.00,302.07 M237.20,306.89 l1.6,0 M237.20,302.07 l1.6,0" stroke="#e01818" stroke-width="0.5"/>
<rect x="237.05" y="303.53" width="1.9" height="1.9" fill="#ee1c1c"/>
<path d="M260.20,314.63 L260.20,311.53 M259.40,314.63 l1.6,0 M259.40,311.53 l1.6,0" stroke="#e01818" stroke-width="0.5"/>
<rect x="259.25" y="312.13" width="1.9" height="1.9" fill="#ee1c1c"/>
<rect x="181.4" y="248.1" width="88.6" height="7.8" fill="#9a968e"/>
<circle cx="185.30" cy="252" r="3.55" fill="#1e6b84"/>
<circle cx="192.62" cy="252" r="3.55" fill="#227088"/>
<circle cx="199.94" cy="252" r="3.55" fill="#25748b"/>
<circle cx="207.26" cy="252" r="3.55" fill="#29788d"/>
<circle cx="214.58" cy="252" r="3.55" fill="#2e7d90"/>
<circle cx="221.90" cy="252" r="3.55" fill="#358393"/>
<circle cx="229.22" cy="252" r="3.55" fill="#3d8a97"/>
<circle cx="236.54" cy="252" r="3.55" fill="#46909a"/>
<circle cx="243.86" cy="252" r="3.55" fill="#52989f"/>
<circle cx="251.18" cy="252" r="3.55" fill="#60a2a5"/>
<circle cx="258.50" cy="252" r="3.55" fill="#6eaaab"/>
<circle cx="265.82" cy="252" r="3.55" fill="#7db3b1"/>
<path d="M183.2,258.8 L263.5,258.8" stroke="#3a3a3a" stroke-width="1.0"/><path d="M262.3,256.9 L266,258.8 L262.3,260.7 Z" fill="#222"/>
<text stroke="#333" stroke-width="0.184" x="224.5" y="266.2" font-family="'Liberation Sans', Arial, sans-serif" font-size="4.6" font-weight="bold" fill="#333" text-anchor="middle" textLength="12.8" lengthAdjust="spacingAndGlyphs" >BChE</text>
<text stroke="#222" stroke-width="0.168" transform="translate(152.6,287.7) rotate(-90)" font-family="'Liberation Sans', Arial, sans-serif" font-size="4.2" font-weight="bold" fill="#222" text-anchor="middle" textLength="23.6" lengthAdjust="spacingAndGlyphs">G/(R+G+B)</text>
<text stroke="#222" stroke-width="0.172" x="218.5" y="337.2" font-family="'Liberation Sans', Arial, sans-serif" font-size="4.3" font-weight="bold" fill="#222" text-anchor="middle" textLength="40" lengthAdjust="spacingAndGlyphs">BChE activity (U L<tspan font-size="2.7" dy="-1.5">-1</tspan><tspan dy="1.5">)</tspan></text>
<text stroke="#111" stroke-width="0.46" x="274.6" y="20.2" font-family="'Liberation Sans', Arial, sans-serif" font-size="11.5" font-weight="bold" fill="#111" text-anchor="start" >C</text>
<circle cx="293" cy="41.9" r="7.2" fill="url(#kcl)"/>
<text stroke="#2a2a2a" stroke-width="0.136" x="293" y="42.9" font-family="'Liberation Sans', Arial, sans-serif" font-size="3.4" font-weight="bold" fill="#2a2a2a" text-anchor="middle" >KCl</text>
<path d="M303.2,39.9 L318.2,39.9 L318.2,38.4 L324.8,41.9 L318.2,45.4 L318.2,43.9 L303.2,43.9 Z" fill="#fff" stroke="#2a2a2a" stroke-width="0.6"/>
<text stroke="#222" stroke-width="0.248" x="306.9" y="36.9" font-family="'Liberation Sans', Arial, sans-serif" font-size="6.2" font-weight="bold" fill="#222">Cu<tspan font-size="3.5" dy="-2.2">2+</tspan></text>
<text stroke="#222" stroke-width="0.244" x="302.5" y="50.4" font-family="'Liberation Sans', Arial, sans-serif" font-size="6.1" font-weight="bold" fill="#222" text-anchor="start" textLength="21" lengthAdjust="spacingAndGlyphs" >2-Meim</text>
<circle cx="336.9" cy="41.7" r="9.6" fill="url(#bsph)"/>
<path d="M331.2,37.4 Q336.9,34.9 342.6,37.4 Q344,39.2 342.3,42.6 Q339.6,47.3 336.9,47.9 Q334.2,47.3 331.5,42.6 Q329.8,39.2 331.2,37.4 Z" fill="#c9c9c9"/>
<text stroke="#2a2a2a" stroke-width="0.136" x="336.9" y="42.9" font-family="'Liberation Sans', Arial, sans-serif" font-size="3.4" font-weight="bold" fill="#2a2a2a" text-anchor="middle" >KCl</text>
<path d="M348.6,40.2 L363.59999999999997,40.2 L363.59999999999997,38.7 L370.2,42.2 L363.59999999999997,45.7 L363.59999999999997,44.2 L348.6,44.2 Z" fill="#fff" stroke="#2a2a2a" stroke-width="0.6"/>
<text stroke="#222" stroke-width="0.212" x="348.3" y="36.6" font-family="'Liberation Sans', Arial, sans-serif" font-size="5.3" font-weight="bold" fill="#222" text-anchor="start" textLength="23.5" lengthAdjust="spacingAndGlyphs" >Pyrolysis</text>
<circle cx="382.6" cy="41.5" r="10.4" fill="#d6d6d6" opacity="0.85"/>
<circle cx="382.6" cy="41.5" r="7.6" fill="url(#kcl)"/>
<text stroke="#2a2a2a" stroke-width="0.136" x="382.6" y="42.5" font-family="'Liberation Sans', Arial, sans-serif" font-size="3.4" font-weight="bold" fill="#2a2a2a" text-anchor="middle" >KCl</text>
<circle cx="376.0" cy="33.2" r="1.4" fill="#e0309c"/>
<circle cx="389.6" cy="33.6" r="1.7" fill="#e0309c"/>
<circle cx="373.4" cy="41.5" r="1.6" fill="#e0309c"/>
<circle cx="391.6" cy="46" r="1.3" fill="#e0309c"/>
<circle cx="380.5" cy="50.0" r="1.4" fill="#e0309c"/>
<circle cx="384" cy="31.4" r="0.9" fill="#e0309c"/>
<path d="M395,40.2 L410.7,40.2 L410.7,38.7 L417.3,42.2 L410.7,45.7 L410.7,44.2 L395,44.2 Z" fill="#fff" stroke="#2a2a2a" stroke-width="0.6"/>
<text stroke="#222" stroke-width="0.248" x="398" y="37.4" font-family="'Liberation Sans', Arial, sans-serif" font-size="6.2" font-weight="bold" fill="#222">H<tspan font-size="3.6" dy="1.4">2</tspan><tspan dy="-1.4">O</tspan></text>
<path d="M415.5,40.2 L423.5,35.4 L428,37.3 L434.3,34 L443,35.8 L441.2,43 L443.6,49 L435,51 L426,49.5 L418.3,50.8 L417.6,45.4 Z" fill="url(#sheet)" stroke="#c4c4c4" stroke-width="0.4"/>
<circle cx="421.6" cy="40.7" r="2.0" fill="#e2249e"/>
<circle cx="430.8" cy="37.8" r="1.1" fill="#e2249e"/>
<circle cx="438.2" cy="40" r="1.3" fill="#e2249e"/>
<circle cx="426.5" cy="46.6" r="1.5" fill="#e2249e"/>
<circle cx="435.3" cy="46.2" r="2.1" fill="#e2249e"/>
<path d="M444.4,40.300000000000004 L458.9,40.300000000000004 L458.9,38.9 L464.7,42.1 L458.9,45.300000000000004 L458.9,43.9 L444.4,43.9 Z" fill="#fff" stroke="#2a2a2a" stroke-width="0.6"/>
<text stroke="#222" stroke-width="0.224" x="444.4" y="36.7" font-family="'Liberation Sans', Arial, sans-serif" font-size="5.6" font-weight="bold" fill="#222">H<tspan font-size="3.3" dy="1.4">2</tspan><tspan dy="-1.4">SO</tspan><tspan font-size="3.3" dy="1.4">4</tspan></text>
<path d="M464.8,42.5 L471,37.3 L476,35.8 L482,33.6 L487.3,36 L486.2,44 L488.4,51 L480,51.8 L472,49.6 L465.8,50.2 Z" fill="url(#sheet)" stroke="#c0c0c0" stroke-width="0.4"/>
<path d="M480.6,45.3 L501.5,25.6 M480.6,45.3 L502,62.6" stroke="#2a2a2a" stroke-width="0.55" fill="none"/>
<circle cx="480.8" cy="45.3" r="1.6" fill="none" stroke="#333" stroke-width="0.45"/>
<circle cx="516.6" cy="44.0" r="24.4" fill="url(#bigl)"/>
<g clip-path="url(#bigcc)"><rect x="490" y="18" width="56" height="55" fill="url(#grw)" opacity="0.7"/><rect x="490" y="18" width="56" height="55" fill="url(#gra)" opacity="0.55"/></g>
<circle cx="516.6" cy="44.0" r="24.099999999999998" fill="none" stroke="#4a4a4a" stroke-width="0.6"/>
<path d="M500.5,29.1 L503.5,29.1 M502,27.6 L502,30.6" stroke="#6a5cf0" stroke-width="0.8"/>
<circle cx="502" cy="29.1" r="0.8" fill="#e040b0"/>
<path d="M509.2,28.4 L512.2,28.4 M510.7,26.9 L510.7,29.9" stroke="#6a5cf0" stroke-width="0.8"/>
<circle cx="510.7" cy="28.4" r="0.8" fill="#e040b0"/>
<path d="M524.7,29.7 L527.7,29.7 M526.2,28.2 L526.2,31.2" stroke="#6a5cf0" stroke-width="0.8"/>
<circle cx="526.2" cy="29.7" r="0.8" fill="#e040b0"/>
<path d="M501.4,34 L504.4,34 M502.9,32.5 L502.9,35.5" stroke="#6a5cf0" stroke-width="0.8"/>
<circle cx="502.9" cy="34" r="0.8" fill="#e040b0"/>
<path d="M516.9,32.2 L519.9,32.2 M518.4,30.700000000000003 L518.4,33.7" stroke="#6a5cf0" stroke-width="0.8"/>
<circle cx="518.4" cy="32.2" r="0.8" fill="#e040b0"/>
<path d="M516.1,35.7 L519.1,35.7 M517.6,34.2 L517.6,37.2" stroke="#6a5cf0" stroke-width="0.8"/>
<circle cx="517.6" cy="35.7" r="0.8" fill="#e040b0"/>
<path d="M529.9,37 L532.9,37 M531.4,35.5 L531.4,38.5" stroke="#6a5cf0" stroke-width="0.8"/>
<circle cx="531.4" cy="37" r="0.8" fill="#e040b0"/>
<path d="M501.4,41.7 L504.4,41.7 M502.9,40.2 L502.9,43.2" stroke="#6a5cf0" stroke-width="0.8"/>
<circle cx="502.9" cy="41.7" r="0.8" fill="#e040b0"/>
<path d="M532.5,44 L535.5,44 M534,42.5 L534,45.5" stroke="#6a5cf0" stroke-width="0.8"/>
<circle cx="534" cy="44" r="0.8" fill="#e040b0"/>
<path d="M518.7,45.7 L521.7,45.7 M520.2,44.2 L520.2,47.2" stroke="#6a5cf0" stroke-width="0.8"/>
<circle cx="520.2" cy="45.7" r="0.8" fill="#e040b0"/>
<path d="M498.8,48.6 L501.8,48.6 M500.3,47.1 L500.3,50.1" stroke="#6a5cf0" stroke-width="0.8"/>
<circle cx="500.3" cy="48.6" r="0.8" fill="#e040b0"/>
<path d="M522.1,52.1 L525.1,52.1 M523.6,50.6 L523.6,53.6" stroke="#6a5cf0" stroke-width="0.8"/>
<circle cx="523.6" cy="52.1" r="0.8" fill="#e040b0"/>
<text x="337.6" y="65.2" font-family="'Liberation Sans', Arial, sans-serif" font-size="4.4" font-weight="bold" fill="#222" text-anchor="middle" textLength="33.5" lengthAdjust="spacingAndGlyphs" stroke="#222" stroke-width="0.05">Cu(2-Meim)/KCl</text>
<text x="382.8" y="65.2" font-family="'Liberation Sans', Arial, sans-serif" font-size="4.4" font-weight="bold" fill="#222" text-anchor="middle" textLength="34.5" lengthAdjust="spacingAndGlyphs" stroke="#222" stroke-width="0.05">Cu NPs/N-C/KCl</text>
<text x="428.4" y="65.2" font-family="'Liberation Sans', Arial, sans-serif" font-size="4.4" font-weight="bold" fill="#222" text-anchor="middle" textLength="26.8" lengthAdjust="spacingAndGlyphs" stroke="#222" stroke-width="0.05">Cu NPs/N-C</text>
<text x="477.4" y="65.2" font-family="'Liberation Sans', Arial, sans-serif" font-size="4.4" font-weight="bold" fill="#222" text-anchor="middle" textLength="35.6" lengthAdjust="spacingAndGlyphs" stroke="#222" stroke-width="0.05">Cu-N-C SAzymes</text>
<path d="M412.7,75.3 L414.4,87.6 L418.5,87.6 L412.7,95.1 L406.9,87.6 L411,87.6 Z" fill="#6f6f6f"/>
<rect x="286.5" y="102.4" width="253" height="105.8" rx="0.8" fill="url(#cpanel)" stroke="#7a7a7a" stroke-width="0.9"/>
<path d="M287,208.1 L539.2,208.1 L539.2,103" fill="none" stroke="#5a5a5a" stroke-width="1.3"/>
<path d="M287,102.6 L539,102.6" fill="none" stroke="#6a6a6a" stroke-width="0.8"/>
<circle cx="314.90000000000003" cy="127.39999999999999" r="12.6" fill="#000" opacity="0.12"/>
<circle cx="314.6" cy="126.6" r="12.6" fill="url(#dgray)" stroke="#c4c4c4" stroke-width="0.6"/>
<path d="M320.1,126.7 L320.2,128.0 M319.5,128.8 L319.4,130.4 M311.7,128.5 L312.0,129.1 M312.4,126.6 L313.6,127.7 M315.9,126.5 L314.7,127.9 M316.1,120.9 L316.4,121.5 M312.4,127.4 L313.1,129.0 M321.9,127.0 L321.1,127.1 M310.8,130.7 L310.9,131.7 M314.9,126.3 L316.1,127.4 M314.6,124.3 L312.9,124.9 M311.8,121.9 L310.9,122.9 M318.6,125.5 L319.9,126.4 M319.3,118.0 L319.7,119.0 M311.4,129.4 L312.0,131.1 M317.1,125.4 L315.6,125.4 M310.8,129.8 L309.9,130.7 M318.4,128.5 L318.0,129.7 M317.2,127.0 L316.2,127.2 M313.5,131.5 L314.4,131.8 M322.0,122.5 L322.6,123.9 M310.4,125.1 L308.8,125.3 M310.0,136.6 L309.5,138.3 M315.8,121.7 L316.6,122.4 M315.6,124.1 L315.0,124.5 M312.2,123.2 L313.7,123.5 M315.6,128.4 L316.6,129.0 M319.3,124.9 L317.6,125.0 M312.6,123.9 L311.7,124.0 M307.9,130.7 L308.4,131.1 M315.3,119.3 L314.8,120.8 M311.0,131.0 L311.9,132.3 M310.6,128.6 L312.1,128.6 M306.5,123.9 L306.3,124.5 M306.6,126.2 L307.5,127.1 M308.9,136.1 L310.5,136.8 M316.4,125.7 L316.5,126.4 M321.8,126.1 L323.1,126.7 M310.5,128.4 L311.5,129.1 M317.2,126.5 L316.6,127.3 M314.0,127.0 L312.7,127.6 M312.0,121.3 L312.1,121.9 M322.0,123.0 L321.5,123.7 M317.1,130.3 L318.1,130.5 M312.8,129.3 L313.8,130.6 M309.1,130.2 L310.7,130.7 M310.4,127.8 L308.9,127.9 M315.5,131.2 L315.3,132.4 M321.9,122.3 L322.7,123.9 M315.2,137.5 L315.9,137.6 M322.2,122.7 L322.4,124.2 M313.7,126.0 L313.9,127.4 M310.3,129.0 L311.1,129.8 M319.3,123.9 L318.7,124.6 M313.7,120.7 L314.5,121.4 M313.6,131.0 L312.3,131.2 M319.8,124.5 L319.0,125.4 M317.8,119.3 L316.8,120.3 M307.9,124.9 L307.1,126.1 M319.5,131.2 L319.1,132.2 M313.4,117.5 L315.2,117.5 M314.5,129.3 L315.5,129.8 M313.4,127.4 L312.4,127.6 M312.5,124.0 L311.8,124.1 M312.8,125.2 L312.4,126.1 M311.5,125.2 L312.4,126.6 M318.5,131.1 L318.1,131.7 M318.6,128.0 L318.9,128.8 M317.8,121.9 L317.4,122.9 M315.0,128.0 L315.7,128.8 M323.2,129.1 L322.6,129.5 M318.6,120.4 L318.6,121.0 M319.6,122.8 L320.7,123.8 M319.1,122.6 L319.5,123.2 M307.8,134.1 L308.8,134.6 M312.2,120.7 L313.4,120.9 M317.4,127.2 L318.4,128.1 M314.0,120.0 L312.4,120.6 M320.1,122.8 L319.4,123.0 M310.7,122.6 L311.5,122.7 M314.0,121.2 L314.1,122.6 M313.7,123.2 L314.1,124.1 M314.9,130.9 L316.6,131.3 M319.0,124.0 L320.2,124.8 M315.1,127.2 L315.1,127.9 M309.3,125.2 L310.1,125.5 M318.0,121.4 L317.4,122.3 M311.8,124.0 L311.2,124.4 M315.5,126.6 L315.4,127.6 M312.1,126.1 L312.1,127.6 M322.5,127.2 L321.0,127.6 M312.9,125.8 L311.5,126.2 M305.5,131.3 L306.1,133.0 M320.2,117.8 L321.8,117.8 M314.3,131.3 L313.3,132.3 M312.4,125.7 L312.2,127.4 M315.7,123.1 L315.4,124.8 M312.0,121.1 L312.7,122.7 M318.9,124.7 L318.8,125.5 M313.9,123.3 L314.6,123.4 M311.7,131.4 L311.4,132.0 M316.0,126.5 L315.9,128.2 M316.4,121.6 L316.9,122.1 M311.8,131.6 L310.7,132.7 M311.5,126.0 L311.9,127.0 M311.7,128.5 L311.9,129.8 M322.7,121.6 L321.6,122.3 M310.5,122.3 L311.2,124.0 M314.6,126.3 L314.3,127.6 M302.8,129.4 L303.5,129.9 M309.7,122.7 L310.8,122.9 M312.5,133.2 L312.7,134.4 M312.8,131.6 L312.0,132.7 M315.8,119.8 L316.5,120.5 M311.7,120.8 L313.1,121.8 M315.4,118.4 L315.8,119.0 M311.8,126.2 L312.9,127.3 M311.4,125.6 L312.1,126.1 M309.1,131.2 L308.6,131.9 M314.0,131.6 L314.8,132.2" fill="none" stroke="#4a4a4a" stroke-width="0.6" stroke-linecap="round"/>
<path d="M317.3,124.5 L316.7,124.5 M316.7,125.9 L317.3,127.1 M316.1,123.0 L317.0,124.5 M308.3,128.0 L307.0,128.3 M315.1,124.9 L314.6,126.5 M316.1,127.1 L315.7,128.7 M319.5,119.9 L319.2,121.6 M312.6,124.6 L311.7,124.7 M316.6,130.2 L315.8,131.8 M321.0,125.6 L322.2,126.4 M320.1,123.8 L319.5,123.9 M312.1,128.6 L311.6,129.6 M317.3,122.9 L317.0,123.9 M316.4,129.0 L316.7,130.3 M312.4,125.4 L311.7,125.4 M315.5,129.3 L314.5,129.5 M318.0,122.3 L319.0,122.6 M316.2,123.6 L316.7,124.7 M315.2,128.8 L316.0,128.9 M309.1,129.4 L310.2,130.2 M315.2,125.5 L314.3,126.1 M317.7,121.8 L317.7,123.4 M311.9,128.4 L310.7,129.7 M310.9,130.1 L311.5,131.3 M314.5,121.4 L313.1,121.6 M319.1,122.8 L319.7,124.0 M319.7,126.5 L320.4,127.3 M323.0,121.6 L324.0,122.0 M316.6,126.7 L318.0,127.6 M315.7,126.8 L316.6,127.5 M315.8,130.7 L314.3,131.5 M318.1,124.1 L319.7,124.2 M318.8,127.1 L318.1,127.8 M312.8,124.2 L313.4,124.8 M315.5,126.6 L316.7,127.3 M317.4,121.1 L317.4,121.8 M314.0,126.3 L315.2,126.4 M316.2,125.9 L314.8,125.9 M315.3,123.6 L316.4,124.1 M314.3,132.2 L315.8,132.2 M314.4,130.5 L313.7,130.9 M317.8,121.8 L316.8,122.3 M313.1,127.4 L314.0,127.9 M316.4,122.1 L315.2,122.9 M317.9,124.0 L316.9,124.5 M313.6,123.6 L314.8,124.4 M316.2,125.9 L317.0,126.6 M308.4,130.8 L308.3,131.6 M317.1,121.4 L316.2,122.2 M323.5,120.7 L322.3,121.5" fill="none" stroke="#8a8a8a" stroke-width="0.5" stroke-linecap="round"/>
<circle cx="315.40000000000003" cy="186.8" r="12.9" fill="#000" opacity="0.12"/>
<circle cx="315.1" cy="186.0" r="12.9" fill="url(#dred)" stroke="#e87878" stroke-width="0.6"/>
<path d="M317.3,184.1 L316.7,185.0 M317.4,185.6 L316.7,186.2 M320.9,185.8 L322.2,186.4 M311.1,188.8 L310.0,188.8 M315.7,184.9 L316.2,186.6 M318.4,187.1 L317.4,187.3 M317.2,186.5 L317.1,187.8 M320.5,178.5 L321.3,179.2 M315.9,174.5 L315.4,175.0 M317.0,180.0 L316.3,180.5 M312.9,184.2 L314.0,185.1 M318.7,183.3 L319.0,184.3 M308.5,185.9 L306.8,186.0 M321.2,180.0 L322.0,180.5 M309.2,186.5 L310.6,186.9 M322.8,188.1 L322.1,189.2 M319.8,184.0 L319.0,185.5 M318.0,183.5 L317.1,184.2 M309.5,192.5 L310.7,193.0 M326.6,182.8 L327.2,183.2 M314.8,191.1 L314.9,192.7 M308.3,191.2 L308.7,192.1 M308.8,187.0 L309.4,187.3 M322.3,185.6 L320.8,185.8 M314.6,183.8 L313.1,183.9 M314.7,186.2 L315.4,187.0 M316.5,186.1 L315.8,186.4 M320.6,182.6 L321.3,183.1 M314.8,182.6 L315.0,183.4 M310.9,183.7 L311.4,185.3 M309.0,189.9 L308.3,190.8 M313.6,187.7 L313.1,188.2 M310.1,179.7 L309.7,181.1 M322.2,186.7 L322.4,187.4 M318.9,185.4 L319.1,186.4 M311.8,183.7 L311.1,184.3 M310.7,181.7 L310.5,182.3 M316.8,182.7 L316.1,183.1 M313.9,189.2 L314.4,190.7 M317.6,186.5 L317.0,187.3 M313.1,192.6 L313.6,193.0 M311.0,186.5 L309.8,186.7 M316.0,187.6 L316.0,188.2 M315.8,189.7 L316.4,189.7 M313.3,192.6 L312.4,192.9 M310.2,187.1 L311.3,188.1 M306.5,187.4 L307.2,188.5 M320.5,184.0 L320.9,184.8 M305.5,190.8 L305.4,192.2 M316.0,182.2 L315.5,183.1 M312.6,187.2 L311.6,187.8 M318.9,189.6 L318.3,189.6 M312.8,184.6 L311.4,185.7 M318.9,184.5 L317.7,184.5 M315.9,185.9 L316.8,186.0 M312.0,190.7 L313.0,191.2 M322.3,180.4 L322.4,181.5 M310.6,190.9 L309.1,191.7 M312.4,184.1 L313.1,184.3 M316.0,184.5 L314.8,184.8 M315.8,189.5 L314.8,189.7 M308.8,183.9 L308.4,184.4 M312.6,189.2 L311.6,190.4 M318.3,178.6 L318.7,180.3 M307.1,189.5 L308.2,190.0 M305.6,188.7 L307.1,189.3 M314.6,188.8 L313.6,188.9 M313.0,189.0 L313.2,189.9 M311.5,185.2 L312.1,185.7 M319.4,191.5 L318.8,192.0 M322.9,184.1 L322.2,184.7 M314.3,187.4 L313.8,187.8 M310.6,188.4 L310.0,189.2 M313.5,186.7 L314.2,187.8 M315.0,180.9 L316.4,181.5 M311.7,183.6 L310.2,184.2 M308.9,188.4 L309.9,189.5 M307.8,189.5 L307.6,190.8 M316.6,175.3 L317.5,175.5 M312.6,185.6 L312.8,187.3 M306.7,190.4 L308.2,191.1 M312.7,188.1 L313.7,188.6 M316.8,182.1 L315.8,182.4 M315.2,182.2 L314.7,183.3 M316.2,186.2 L317.6,187.0 M309.9,182.9 L310.5,184.1 M316.8,179.0 L316.1,179.3 M311.4,186.1 L312.2,186.3 M313.7,179.0 L314.6,179.5 M319.1,184.1 L320.0,184.3 M316.6,191.8 L316.8,192.4 M312.4,187.7 L313.1,187.8 M326.3,185.3 L325.3,186.6 M317.1,182.3 L316.3,182.6 M305.3,187.7 L305.6,188.7 M309.1,182.0 L309.6,182.6 M320.3,181.4 L320.0,183.1 M320.4,185.9 L321.7,186.4 M318.0,179.6 L318.6,180.7 M318.9,186.1 L319.7,186.8 M310.2,185.9 L308.4,186.0 M309.8,191.2 L310.0,192.3 M304.3,189.9 L304.4,190.5 M314.7,191.9 L314.8,193.6 M321.2,183.3 L320.5,184.4 M314.0,182.3 L313.1,183.1 M318.8,183.9 L317.4,184.0 M316.8,182.2 L318.0,183.6 M313.1,187.6 L313.5,188.8 M306.8,183.2 L306.4,183.8 M312.0,186.8 L311.4,186.9 M310.9,184.1 L310.2,184.4 M313.0,189.9 L313.2,191.1 M319.0,181.3 L318.0,182.3 M317.2,183.5 L316.2,183.7 M310.2,186.6 L311.8,187.2 M315.8,186.3 L315.9,187.7 M316.1,189.3 L315.5,190.0 M312.5,183.3 L314.1,183.5 M312.7,186.7 L312.6,187.5" fill="none" stroke="#e81c1c" stroke-width="0.6" stroke-linecap="round"/>
<path d="M319.0,184.4 L318.1,184.7 M311.2,189.4 L311.2,190.1 M317.3,181.4 L315.7,182.0 M315.4,185.3 L316.8,185.9 M322.0,181.1 L320.6,181.9 M317.4,183.3 L318.1,183.6 M317.1,184.1 L317.9,184.1 M316.6,184.7 L317.5,185.2 M317.4,191.8 L316.8,192.2 M314.1,182.7 L313.1,183.6 M313.2,186.0 L313.9,186.7 M311.6,194.7 L312.7,194.9 M311.3,190.3 L310.6,191.2 M316.7,185.0 L318.1,185.2 M316.3,188.2 L317.1,188.3 M323.9,179.8 L322.5,180.0 M309.7,190.8 L309.1,192.3 M312.0,187.8 L312.3,188.6 M314.7,183.7 L314.6,185.3 M309.0,186.8 L310.2,187.3 M316.5,185.5 L315.9,185.6 M306.4,187.7 L307.2,188.9 M321.7,178.6 L322.8,178.9 M315.7,187.1 L316.8,187.4 M309.8,181.4 L309.2,181.9 M311.7,186.1 L312.3,187.7 M315.3,184.2 L316.8,185.2 M323.0,179.6 L322.2,180.8 M314.6,183.0 L315.0,183.6 M321.6,177.6 L321.7,178.5 M311.1,192.1 L310.5,192.4 M317.8,188.0 L318.5,188.2 M318.3,181.2 L316.7,182.0 M316.1,184.7 L314.8,184.7 M315.3,186.4 L314.5,186.5 M318.5,182.9 L317.9,183.7 M314.4,186.3 L313.7,187.9 M316.4,185.8 L315.5,186.6 M318.0,185.6 L316.6,186.0 M315.0,188.5 L314.9,189.9 M318.5,185.0 L319.2,185.5 M320.0,184.1 L319.2,184.5 M316.0,192.5 L317.0,193.7 M320.3,185.2 L320.2,186.3 M320.2,184.2 L320.4,185.7 M320.2,190.3 L319.2,190.3 M315.4,185.2 L316.4,185.7 M315.5,182.8 L314.8,182.9 M314.6,181.6 L315.8,181.9 M318.5,182.5 L318.6,183.7" fill="none" stroke="#f06060" stroke-width="0.5" stroke-linecap="round"/>
<circle cx="379.5" cy="157.20000000000002" r="12.6" fill="#000" opacity="0.12"/>
<circle cx="379.2" cy="156.4" r="12.6" fill="url(#dora)" stroke="#f2b07a" stroke-width="0.6"/>
<path d="M378.6,159.1 L377.8,159.3 M372.5,158.3 L373.0,159.4 M376.4,153.1 L375.6,154.4 M379.1,152.3 L379.8,152.6 M377.9,154.6 L377.4,155.9 M386.8,152.8 L386.2,153.0 M379.9,153.3 L378.9,154.4 M385.6,155.6 L384.8,155.8 M369.9,153.1 L370.3,153.7 M374.0,157.1 L373.2,157.4 M379.8,152.9 L379.4,153.6 M376.1,161.6 L376.5,162.7 M381.7,154.5 L380.9,155.4 M375.8,162.5 L374.7,163.0 M375.5,156.1 L376.3,156.3 M387.9,151.0 L386.7,152.2 M385.6,155.0 L384.9,155.2 M372.8,155.3 L373.2,156.6 M380.4,146.4 L380.6,147.3 M375.5,152.7 L375.7,153.8 M382.0,153.2 L381.5,153.9 M382.6,162.4 L381.6,162.7 M377.0,164.0 L376.0,165.1 M380.6,157.2 L381.1,157.6 M378.0,155.8 L377.8,156.6 M382.8,156.2 L382.3,157.0 M392.5,154.6 L391.7,155.7 M375.2,158.6 L373.5,159.2 M379.8,155.4 L378.5,155.7 M373.9,156.2 L375.1,157.0 M374.8,152.7 L374.8,153.3 M376.0,157.4 L374.6,157.7 M381.2,152.9 L380.5,153.2 M370.9,157.3 L372.0,158.6 M376.1,156.9 L375.2,158.2 M381.4,158.5 L382.4,159.4 M383.0,157.1 L383.0,157.8 M384.5,149.2 L383.9,149.5 M375.1,153.5 L374.7,154.0 M384.7,158.1 L385.1,159.0 M386.7,157.6 L385.9,157.9 M377.1,157.3 L376.9,158.7 M386.2,151.4 L387.1,151.5 M376.1,151.7 L377.0,152.3 M373.9,159.2 L373.9,160.6 M372.2,159.1 L372.8,159.5 M374.1,161.6 L372.7,162.3 M374.9,162.0 L375.1,162.7 M387.6,152.1 L386.7,153.7 M376.6,153.8 L378.1,154.2 M377.5,159.6 L378.9,160.4 M380.4,155.9 L381.2,157.2 M380.2,152.5 L381.5,153.5 M384.7,145.2 L383.8,146.5 M382.4,147.0 L383.6,148.4 M379.7,149.6 L380.6,150.1 M381.8,151.8 L380.7,152.2 M376.6,158.2 L376.5,159.6 M380.9,160.1 L382.1,161.3 M378.0,150.3 L379.0,151.0 M376.7,155.8 L375.9,156.2 M380.7,157.6 L379.1,157.6 M380.3,159.3 L379.4,160.2 M385.2,152.1 L384.3,152.3 M374.3,165.2 L373.8,166.2 M381.7,154.3 L382.1,155.2 M382.9,156.8 L382.8,157.5 M386.0,149.3 L384.7,149.4 M375.1,153.5 L376.2,153.8 M383.1,147.4 L382.3,148.7 M378.7,147.2 L377.4,148.4 M387.8,149.5 L388.0,150.7 M377.3,159.1 L377.1,159.7 M378.3,156.4 L376.6,156.9 M380.3,151.1 L380.4,152.2 M377.3,165.8 L375.7,166.3 M374.1,159.2 L375.0,160.3 M388.5,158.8 L389.1,159.5 M377.1,157.5 L378.2,158.1 M378.7,154.3 L379.7,155.5 M376.5,150.4 L378.0,151.4 M380.7,154.5 L381.7,154.5 M378.3,157.6 L377.1,157.8 M377.8,152.1 L377.1,152.1 M376.7,165.5 L377.2,166.1 M383.9,149.8 L384.0,150.7 M375.7,158.1 L376.5,158.3 M375.2,159.0 L375.3,160.0 M378.1,159.8 L379.4,160.4 M383.7,154.6 L383.8,155.6 M381.9,147.0 L380.4,147.4 M381.2,158.0 L381.7,158.5 M381.0,158.2 L380.0,158.4 M371.3,162.1 L370.5,163.0 M374.7,154.8 L374.2,156.4 M376.4,158.2 L376.6,158.9 M377.3,158.4 L379.0,158.5 M377.6,159.0 L376.7,159.5 M383.1,152.6 L381.7,153.1 M380.7,159.2 L379.7,159.8 M380.9,163.0 L380.4,163.7 M378.6,156.2 L377.7,156.7 M378.6,157.2 L378.5,158.3 M376.3,159.3 L375.4,160.8 M375.6,159.9 L376.7,161.0 M373.1,161.9 L373.7,162.2 M385.7,152.5 L385.0,153.8 M378.1,156.0 L378.2,157.1 M378.7,158.8 L379.4,159.5 M384.6,153.8 L384.7,154.4 M375.7,162.8 L375.9,164.3 M385.4,151.0 L384.8,152.3 M383.4,152.1 L383.3,153.2 M385.2,154.7 L384.8,155.3 M373.2,157.3 L372.7,158.0 M384.7,146.7 L386.0,147.4 M377.4,154.5 L379.2,154.7 M383.5,153.5 L382.8,153.6 M380.8,152.7 L381.5,154.2 M378.9,153.8 L379.2,155.5" fill="none" stroke="#f0881c" stroke-width="0.6" stroke-linecap="round"/>
<path d="M379.1,155.6 L379.8,156.2 M376.5,153.0 L378.1,153.5 M379.7,156.3 L379.7,157.1 M382.5,153.8 L382.3,155.1 M382.3,157.8 L383.9,157.9 M379.0,151.4 L379.9,151.9 M382.1,153.1 L382.8,153.3 M381.3,151.1 L380.2,152.3 M372.5,159.8 L372.4,160.9 M380.4,151.0 L380.0,152.6 M379.2,155.2 L379.7,155.9 M382.5,154.7 L383.0,155.2 M376.7,155.8 L377.5,156.4 M383.5,160.5 L383.1,161.8 M384.7,156.4 L385.0,157.1 M384.7,151.5 L384.0,152.6 M380.3,150.6 L381.1,150.7 M380.9,158.1 L380.0,158.2 M380.9,152.5 L381.3,153.8 M381.8,152.0 L382.5,152.7 M378.1,157.0 L376.9,157.4 M379.2,157.3 L379.1,159.1 M381.4,155.2 L381.1,155.9 M379.2,152.9 L379.5,153.5 M384.7,152.3 L383.1,153.1 M385.3,151.4 L385.2,152.8 M382.0,158.7 L382.2,159.5 M374.1,162.4 L375.2,163.6 M379.1,157.2 L377.5,157.8 M380.6,159.4 L381.7,160.0 M378.5,152.4 L378.4,154.0 M383.2,153.6 L382.6,153.7 M381.7,149.8 L382.7,149.9 M382.7,147.8 L382.7,148.5 M385.3,153.1 L386.7,153.7 M377.2,159.3 L376.3,159.6 M379.3,157.6 L378.5,158.6 M382.8,156.1 L382.0,157.7 M377.3,159.4 L377.8,159.9 M379.6,159.6 L380.3,160.2 M385.5,153.7 L384.7,154.0 M380.7,154.3 L380.2,155.1 M381.6,155.8 L381.2,157.5 M374.8,160.5 L376.1,161.3 M383.8,154.3 L383.9,155.4 M376.3,153.2 L378.0,153.7 M378.2,158.3 L379.4,159.4 M382.7,156.5 L383.5,157.3 M384.5,160.1 L383.5,160.6 M379.9,156.0 L378.3,156.9" fill="none" stroke="#f8a850" stroke-width="0.5" stroke-linecap="round"/>
<path d="M330.5,122.6 Q336,124 341,125.5 Q336,126.5 331,128.8" fill="none" stroke="#111" stroke-width="1.4" stroke-linecap="round" stroke-linejoin="round"/>
<text x="343" y="128.0" font-family="'DejaVu Sans', 'Liberation Sans', sans-serif" font-size="6.2" font-weight="normal" fill="#111" text-anchor="start" textLength="25.2" lengthAdjust="spacingAndGlyphs" font-style="italic">Choline</text>
<path d="M360.5,134.5 Q360,144 367.2,148.3" fill="none" stroke="#111" stroke-width="1.3" stroke-linecap="round"/>
<path d="M370,162.5 Q364,166 365,175" fill="none" stroke="#1f2ee6" stroke-width="1.5" stroke-linecap="round"/>
<path d="M302.4,132.2 Q297.5,136.5 296.3,146" fill="none" stroke="#111" stroke-width="1.4" stroke-linecap="round"/>
<path d="M289.4,132 Q299,135.5 307.6,140.9 M295.5,128 Q299.5,137 302.4,146" fill="none" stroke="#f01818" stroke-width="1.5" stroke-linecap="round"/>
<text x="288.6" y="159.3" font-family="'DejaVu Sans', 'Liberation Sans', sans-serif" font-size="6.3" font-weight="normal" fill="#111" text-anchor="start" textLength="14.6" lengthAdjust="spacingAndGlyphs" >ACh</text>
<path d="M296,166 Q295,176 302.4,180.5" fill="none" stroke="#1f2ee6" stroke-width="1.5" stroke-linecap="round"/>
<path d="M329.5,184.6 Q335,187 341,188.5 Q336,190 330.5,192.5" fill="none" stroke="#1f2ee6" stroke-width="1.5" stroke-linecap="round" stroke-linejoin="round"/>
<text x="342.6" y="190.0" font-family="'DejaVu Sans', 'Liberation Sans', sans-serif" font-size="6.2" font-weight="normal" fill="#111" text-anchor="start" textLength="25.2" lengthAdjust="spacingAndGlyphs" font-style="italic">Choline</text>
<path d="M313,169.5 L313,154 L310.8,154 L315.5,145.3 L320.2,154 L318,154 L318,169.5 Z" fill="#ffffff" stroke="#e89a9a" stroke-width="0.7"/>
<text transform="translate(316.4,161.5) rotate(-90)" font-family="'DejaVu Sans', 'Liberation Sans', sans-serif" font-size="3.0" font-style="italic" fill="#555" text-anchor="middle">H₂O₂</text>
<path d="M393.4,150.6 Q399,152.5 405,154.3 Q399,156 393.8,158.3" fill="none" stroke="#1f2ee6" stroke-width="1.5" stroke-linecap="round" stroke-linejoin="round"/>
<text x="406.3" y="158.8" font-family="'DejaVu Sans', 'Liberation Sans', sans-serif" font-size="6.2" font-style="italic" fill="#111" textLength="18.5" lengthAdjust="spacingAndGlyphs">H<tspan font-size="3.6" dy="1.3">2</tspan><tspan dy="-1.3">O</tspan><tspan font-size="3.6" dy="1.3">2</tspan></text>
<path d="M425.5,155.2 L430.5,155.2" stroke="#1f2ee6" stroke-width="1.3"/>
<text x="436.2" y="127.3" font-family="'Liberation Sans', Arial, sans-serif" font-size="6.8" font-weight="normal" fill="#111" text-anchor="start" textLength="16.2" lengthAdjust="spacingAndGlyphs" >TMB</text>
<path d="M444.3,129 L443.6,141.6" stroke="#111" stroke-width="1.4"/>
<circle cx="444.5" cy="156.6" r="13.1" fill="#000" opacity="0.12"/>
<circle cx="444.2" cy="155.9" r="12.9" fill="#f8f8f8" stroke="#e64cb4" stroke-width="0.8"/>
<circle cx="435.8" cy="157.5" r="0.85" fill="#1e1e1e"/><circle cx="447.0" cy="147.8" r="0.85" fill="#1e1e1e"/><circle cx="449.8" cy="149.4" r="0.85" fill="#1e1e1e"/><circle cx="458.2" cy="157.5" r="0.85" fill="#1e1e1e"/><circle cx="438.6" cy="149.4" r="0.85" fill="#1e1e1e"/><circle cx="455.4" cy="159.1" r="0.85" fill="#1e1e1e"/><circle cx="441.4" cy="144.6" r="0.85" fill="#1e1e1e"/><circle cx="433.0" cy="159.1" r="0.85" fill="#1e1e1e"/><circle cx="452.6" cy="164.0" r="0.85" fill="#1e1e1e"/><circle cx="441.4" cy="154.3" r="0.85" fill="#1e1e1e"/><circle cx="452.6" cy="147.8" r="0.85" fill="#1e1e1e"/><circle cx="447.0" cy="157.5" r="0.85" fill="#1e1e1e"/><circle cx="438.6" cy="159.1" r="0.85" fill="#1e1e1e"/><circle cx="449.8" cy="159.1" r="0.85" fill="#1e1e1e"/><circle cx="430.2" cy="154.3" r="0.85" fill="#1e1e1e"/><circle cx="441.4" cy="164.0" r="0.85" fill="#1e1e1e"/><circle cx="452.6" cy="157.5" r="0.85" fill="#1e1e1e"/><circle cx="441.4" cy="147.8" r="0.85" fill="#1e1e1e"/><circle cx="455.4" cy="152.7" r="0.85" fill="#1e1e1e"/><circle cx="447.0" cy="167.2" r="0.85" fill="#1e1e1e"/><circle cx="444.2" cy="162.4" r="0.85" fill="#1e1e1e"/><circle cx="455.4" cy="162.4" r="0.85" fill="#1e1e1e"/><circle cx="435.8" cy="154.3" r="0.85" fill="#1e1e1e"/><circle cx="444.2" cy="152.7" r="0.85" fill="#1e1e1e"/><circle cx="458.2" cy="154.3" r="0.85" fill="#1e1e1e"/><circle cx="433.0" cy="152.7" r="0.85" fill="#1e1e1e"/><circle cx="433.0" cy="162.4" r="0.85" fill="#1e1e1e"/><circle cx="441.4" cy="157.5" r="0.85" fill="#1e1e1e"/><circle cx="435.8" cy="164.0" r="0.85" fill="#1e1e1e"/><circle cx="447.0" cy="144.6" r="0.85" fill="#1e1e1e"/><circle cx="447.0" cy="154.3" r="0.85" fill="#1e1e1e"/><circle cx="444.2" cy="149.4" r="0.85" fill="#1e1e1e"/><circle cx="455.4" cy="149.4" r="0.85" fill="#1e1e1e"/><circle cx="435.8" cy="147.8" r="0.85" fill="#1e1e1e"/><circle cx="438.6" cy="152.7" r="0.85" fill="#1e1e1e"/><circle cx="449.8" cy="152.7" r="0.85" fill="#1e1e1e"/><circle cx="430.2" cy="157.5" r="0.85" fill="#1e1e1e"/><circle cx="438.6" cy="162.4" r="0.85" fill="#1e1e1e"/><circle cx="449.8" cy="162.4" r="0.85" fill="#1e1e1e"/><circle cx="441.4" cy="167.2" r="0.85" fill="#1e1e1e"/><circle cx="433.0" cy="149.4" r="0.85" fill="#1e1e1e"/><circle cx="452.6" cy="154.3" r="0.85" fill="#1e1e1e"/><circle cx="447.0" cy="164.0" r="0.85" fill="#1e1e1e"/><circle cx="444.2" cy="159.1" r="0.85" fill="#1e1e1e"/>
<path d="M444.2,155.9 L438.8,152.6 L439.8,151.2 Z M444.2,155.9 L449.6,152.6 L448.6,151.2 Z M444.2,155.9 L438.8,159.2 L439.8,160.6 Z M444.2,155.9 L449.6,159.2 L448.6,160.6 Z" fill="#2a3ae8" stroke="#2a3ae8" stroke-width="0.5" stroke-linejoin="round"/>
<circle cx="444.2" cy="155.9" r="1.3" fill="#ee2ab8"/>
<path d="M458.3,152 Q464.5,154 471,156.3 Q464.5,158.5 458.8,161" fill="none" stroke="#1f2ee6" stroke-width="1.5" stroke-linecap="round" stroke-linejoin="round"/>
<path d="M474.80,177.30 L475.16,176.97 L475.53,176.63 L475.89,176.27 L476.25,175.91 L476.61,175.54 L476.98,175.16 L477.34,174.77 L477.70,174.36 L478.06,173.95 L478.43,173.52 L478.79,173.08 L479.15,172.63 L479.51,172.16 L479.88,171.69 L480.24,171.19 L480.60,170.69 L480.96,170.17 L481.32,169.64 L481.69,169.09 L482.05,168.52 L482.41,167.94 L482.77,167.35 L483.14,166.73 L483.50,166.10 L483.86,165.46 L484.23,164.79 L484.59,164.11 L484.95,163.41 L485.31,162.69 L485.68,161.95 L486.04,161.19 L486.40,160.42 L486.76,159.62 L487.12,158.80 L487.49,157.96 L487.85,157.11 L488.21,156.23 L488.57,155.33 L488.94,154.41 L489.30,153.47 L489.66,152.50 L490.02,151.52 L490.39,150.52 L490.75,149.49 L491.11,148.45 L491.47,147.39 L491.84,146.30 L492.20,145.20 L492.56,144.09 L492.93,142.95 L493.29,141.80 L493.65,140.64 L494.01,139.47 L494.38,138.28 L494.74,137.09 L495.10,135.88 L495.46,134.68 L495.82,133.47 L496.19,132.26 L496.55,131.06 L496.91,129.87 L497.27,128.69 L497.64,127.52 L498.00,126.37 L498.36,125.25 L498.72,124.16 L499.09,123.10 L499.45,122.09 L499.81,121.13 L500.17,120.22 L500.54,119.37 L500.90,118.59 L501.26,117.89 L501.62,117.28 L501.99,116.76 L502.35,116.34 L502.71,116.04 L503.07,115.85 L503.44,115.80 L503.80,115.86 L504.16,116.01 L504.52,116.26 L504.89,116.62 L505.25,117.08 L505.61,117.65 L505.97,118.33 L506.34,119.12 L506.70,120.03 L507.06,121.05 L507.42,122.19 L507.79,123.43 L508.15,124.79 L508.51,126.25 L508.87,127.81 L509.24,129.47 L509.60,131.22 L509.96,133.05 L510.32,134.96 L510.69,136.93 L511.05,138.96 L511.41,141.03 L511.77,143.13 L512.14,145.25 L512.50,147.38 L512.86,149.51 L513.22,151.61 L513.59,153.69 L513.95,155.72 L514.31,157.69 L514.67,159.59 L515.04,161.42 L515.40,163.15 L515.76,164.79 L516.12,166.32 L516.49,167.74 L516.85,169.05 L517.21,170.24 L517.57,171.32 L517.94,172.29 L518.30,173.14" fill="none" stroke="#2648e8" stroke-width="1.0"/>
<path d="M475.5,177.8 Q489,172 497,172.6 Q508,172.4 518,178" fill="none" stroke="#222" stroke-width="0.8"/>
<text stroke="#111" stroke-width="0.264" x="476.2" y="184.2" font-family="'Liberation Sans', Arial, sans-serif" font-size="6.6" font-weight="bold" fill="#111" text-anchor="start" textLength="40.3" lengthAdjust="spacingAndGlyphs" >Absorbance</text>
<rect x="374.8" y="189.6" width="157.5" height="18" rx="2.6" fill="#5a5a5a" opacity="0.4"/>
<rect x="373.7" y="188.3" width="157.7" height="17.9" rx="2.6" fill="#f3f3f3" stroke="#707070" stroke-width="0.7"/>
<path d="M385.3,197.8 L384.7,198.2 M385.0,197.0 L385.6,198.6 M385.0,192.1 L384.5,193.2 M380.7,197.7 L381.3,199.4 M385.3,191.7 L385.7,192.1 M380.9,201.5 L380.6,202.2 M384.0,200.6 L382.8,201.8 M387.0,196.7 L386.0,197.3 M381.3,202.3 L379.8,203.3 M381.0,192.9 L382.1,193.6 M384.4,193.8 L384.5,194.4 M381.9,198.5 L383.5,199.1 M383.2,193.3 L383.5,194.1 M382.9,197.7 L382.2,199.0 M386.2,192.1 L384.6,192.1 M384.0,192.5 L383.9,193.7 M381.5,192.4 L380.1,193.1 M384.9,194.2 L384.7,194.9 M379.7,198.7 L381.0,199.8 M381.0,196.2 L380.1,196.2 M385.3,194.1 L385.0,195.3 M384.1,193.0 L385.1,194.3 M382.1,197.8 L382.5,199.1 M382.9,196.2 L381.8,196.4 M385.8,192.8 L384.9,193.9 M380.2,198.7 L381.3,200.1 M380.0,196.0 L380.1,197.5 M386.2,192.5 L385.5,193.1 M385.8,192.3 L384.8,192.7 M383.3,198.7 L382.7,199.8 M380.7,196.8 L380.0,197.5 M383.8,199.6 L384.4,199.8 M382.3,195.2 L383.4,195.4 M381.4,195.7 L381.9,196.2 M384.4,192.4 L383.8,192.5 M385.8,194.5 L384.9,195.3 M387.4,195.1 L386.8,195.7 M383.9,193.1 L383.6,193.7 M381.2,201.1 L382.6,201.6 M380.4,198.9 L379.8,200.6 M379.6,199.0 L378.9,199.3 M380.1,199.1 L380.0,199.9 M383.5,198.4 L382.0,199.2 M381.8,197.7 L383.4,198.4 M381.4,199.5 L380.6,200.9 M381.2,198.3 L379.7,199.2 M383.7,200.3 L383.7,202.0 M383.1,195.8 L384.5,196.9 M381.9,195.6 L382.7,196.1 M383.1,195.8 L382.1,196.5 M383.0,197.2 L382.5,197.5 M383.9,197.3 L383.0,198.1 M383.5,197.5 L383.6,198.3 M382.8,195.8 L382.0,197.1 M381.1,198.7 L381.1,199.3 M382.1,200.8 L382.7,201.2 M384.9,193.9 L384.9,194.6 M382.8,199.3 L382.0,199.5 M382.9,197.8 L381.9,198.7 M380.6,201.8 L379.8,203.1" fill="none" stroke="#ee2a2a" stroke-width="0.55" stroke-linecap="round"/>
<path d="M383.8,196.1 L383.9,197.6 M383.4,195.0 L384.9,195.8 M384.4,195.1 L384.8,195.8 M382.5,197.7 L383.6,197.7 M384.2,196.3 L384.7,196.9 M383.2,196.1 L381.6,196.7 M384.1,192.1 L383.4,193.2 M383.5,194.7 L383.4,195.5 M382.4,198.4 L383.0,198.8 M380.5,196.7 L380.8,198.1 M383.7,196.6 L383.6,198.0 M382.7,198.6 L383.4,199.0 M385.9,195.9 L385.7,196.9 M383.5,199.6 L382.3,200.6 M388.5,195.7 L387.1,196.5 M381.3,201.8 L382.5,202.9 M381.1,197.4 L379.7,197.9 M381.7,199.9 L381.3,200.5 M385.9,195.8 L386.5,197.3 M383.4,196.8 L384.5,197.4 M382.0,196.2 L381.4,197.2 M385.4,196.6 L385.3,197.2 M383.7,196.8 L382.3,196.8 M384.3,198.3 L383.5,198.8 M386.6,194.8 L385.9,195.5 M383.6,193.3 L383.5,194.1 M384.5,200.2 L385.3,200.7 M383.7,198.0 L383.1,198.7" fill="none" stroke="#ff6a6a" stroke-width="0.45" stroke-linecap="round"/>
<text stroke="#222" stroke-width="0.216" x="391.2" y="199.3" font-family="'Liberation Sans', Arial, sans-serif" font-size="5.4" font-weight="bold" fill="#222" text-anchor="start" textLength="15.3" lengthAdjust="spacingAndGlyphs" >AChE</text>
<path d="M412.3,199.1 L413.1,200.4 M415.6,199.0 L416.1,200.0 M414.4,198.5 L414.1,199.2 M414.4,192.0 L415.0,193.2 M413.7,197.4 L414.6,198.6 M418.4,200.9 L417.4,201.0 M410.2,198.2 L411.4,198.9 M412.5,196.0 L413.5,196.5 M416.3,194.3 L416.5,194.9 M412.3,188.2 L413.3,188.5 M414.9,196.9 L414.5,197.7 M413.8,196.2 L414.1,197.4 M413.9,197.7 L414.9,198.1 M411.3,196.0 L411.7,197.3 M415.3,193.5 L415.6,194.3 M415.5,194.8 L414.0,195.1 M414.5,193.7 L413.5,194.2 M411.1,195.6 L410.8,196.3 M413.6,195.7 L412.8,196.1 M412.0,198.0 L412.8,198.9 M414.8,196.7 L415.8,197.2 M414.3,189.8 L415.6,190.2 M412.8,197.2 L413.7,197.6 M413.6,197.2 L414.3,197.8 M412.6,202.2 L411.6,203.0 M411.9,195.8 L412.6,195.9 M417.6,195.2 L416.7,195.4 M415.8,195.9 L415.3,197.2 M416.7,194.3 L415.8,194.9 M412.4,193.5 L411.1,193.8 M413.9,198.5 L413.2,198.9 M411.8,196.7 L411.1,198.3 M415.3,198.8 L416.8,199.8 M415.3,193.3 L415.3,194.1 M413.3,194.5 L412.6,195.2 M417.9,193.8 L417.5,194.8 M413.6,198.3 L412.9,198.7 M414.2,198.3 L413.2,199.1 M417.1,194.4 L416.5,194.9 M418.1,191.8 L418.0,193.0 M412.6,198.0 L413.5,198.6 M414.7,199.1 L415.4,200.2 M409.9,198.7 L411.4,198.7 M413.8,197.3 L413.4,198.8 M413.0,199.8 L413.9,200.6 M414.4,195.3 L414.8,195.8 M416.4,195.0 L416.9,196.3 M416.4,194.1 L414.6,194.2 M411.4,200.3 L410.7,200.4 M413.5,198.1 L414.1,199.8 M414.3,195.7 L415.7,196.5 M414.3,196.8 L412.8,197.0 M414.3,200.2 L415.5,201.4 M412.4,201.8 L412.0,203.5 M414.9,196.8 L413.3,197.1 M413.2,197.6 L412.9,198.3" fill="none" stroke="#5a5a5a" stroke-width="0.5" stroke-linecap="round"/>
<path d="M414.1,194.6 L415.4,195.8 M412.8,200.4 L412.7,201.4 M418.0,195.0 L419.5,195.9 M416.9,195.1 L415.9,195.9 M414.8,198.5 L415.4,199.0 M416.7,194.2 L416.3,195.4 M414.9,194.2 L415.0,195.2 M414.9,194.3 L415.2,195.2 M413.5,196.2 L412.9,196.8 M412.2,198.1 L412.6,198.6 M416.9,195.4 L415.2,195.5 M414.7,194.7 L413.5,195.1 M414.6,197.6 L415.3,198.8 M413.7,197.6 L413.6,199.2 M414.2,196.0 L415.4,196.5 M413.0,196.2 L413.6,197.3 M413.9,196.3 L413.3,197.2 M419.1,199.0 L417.3,199.2 M416.2,191.2 L415.1,191.9 M415.2,197.0 L413.6,197.5 M415.9,197.0 L415.4,197.6 M417.4,195.6 L417.6,196.2 M412.9,195.2 L413.7,195.3 M414.0,196.1 L413.7,197.0 M415.2,196.3 L414.2,197.5 M414.3,196.9 L413.1,197.0 M413.2,197.2 L414.0,198.7 M414.2,196.9 L413.3,198.3" fill="none" stroke="#9a9a9a" stroke-width="0.45" stroke-linecap="round"/>
<text stroke="#222" stroke-width="0.192" x="422.6" y="196.2" font-family="'Liberation Sans', Arial, sans-serif" font-size="4.8" font-weight="bold" fill="#222" text-anchor="start" >OP-</text>
<text stroke="#222" stroke-width="0.192" x="422.6" y="201.4" font-family="'Liberation Sans', Arial, sans-serif" font-size="4.8" font-weight="bold" fill="#222" text-anchor="start" textLength="16" lengthAdjust="spacingAndGlyphs" >AChE</text>
<path d="M447.4,199.3 L446.8,199.3 M451.9,188.8 L452.6,189.3 M450.6,196.3 L450.3,196.9 M444.9,199.2 L445.6,200.5 M450.3,197.5 L450.0,198.1 M449.2,196.6 L449.5,198.2 M454.4,193.0 L455.4,194.0 M450.1,196.7 L450.0,198.2 M448.2,196.4 L448.6,197.4 M450.6,196.3 L450.8,197.2 M444.1,196.6 L445.1,197.9 M450.9,196.6 L450.7,197.5 M446.2,197.0 L445.7,197.5 M445.8,194.8 L444.5,195.4 M450.8,196.0 L450.1,196.9 M444.6,196.7 L445.3,197.4 M453.8,190.9 L453.9,192.1 M451.8,197.5 L451.5,198.3 M447.8,198.1 L448.7,199.4 M446.4,196.3 L445.3,196.8 M441.8,197.4 L441.9,198.5 M445.6,194.5 L446.4,195.6 M451.4,195.9 L451.9,196.4 M444.9,194.7 L444.0,196.2 M445.4,195.9 L446.2,196.8 M451.4,196.9 L452.1,198.0 M448.3,193.9 L447.4,194.4 M451.2,195.9 L450.6,196.7 M449.3,201.7 L449.4,202.4 M443.3,197.8 L444.1,198.2 M448.3,192.9 L447.1,193.3 M445.6,198.0 L446.7,198.5 M449.2,195.7 L448.6,195.9 M446.3,196.6 L447.6,197.6 M448.0,196.3 L448.0,197.1 M448.2,194.9 L447.5,196.3 M443.5,192.6 L444.7,192.7 M454.2,196.6 L454.7,197.1 M445.4,193.6 L445.1,195.1 M445.9,200.5 L446.4,201.0 M450.7,195.3 L450.2,196.8 M445.8,194.7 L444.8,195.2 M451.4,196.1 L450.4,197.2 M445.3,194.2 L445.0,195.1 M443.0,195.5 L443.5,196.2 M447.8,197.1 L447.9,198.6 M455.1,196.9 L454.1,197.5 M448.1,194.1 L448.0,195.0 M453.5,193.5 L453.1,195.2 M446.1,195.9 L445.9,197.1 M447.7,192.1 L448.9,193.3 M447.9,195.6 L447.6,196.5 M454.1,195.0 L455.0,195.9 M444.7,198.7 L444.0,198.9 M446.3,194.5 L446.0,195.2 M448.5,196.5 L449.2,197.9 M448.3,193.6 L448.8,194.8 M450.3,192.5 L450.1,193.5 M448.4,200.4 L448.0,201.5 M447.6,196.0 L446.8,196.6 M446.8,195.9 L446.1,196.2 M450.3,191.9 L450.2,192.7 M445.9,197.3 L445.5,198.3 M447.1,196.2 L447.7,196.5 M449.8,191.9 L450.4,193.1 M444.6,196.6 L443.8,196.7 M448.9,195.8 L449.5,196.5 M451.9,191.6 L452.3,193.3" fill="none" stroke="#f29030" stroke-width="0.7" stroke-linecap="round"/>
<text stroke="#222" stroke-width="0.216" x="456.2" y="199.3" font-family="'Liberation Sans', Arial, sans-serif" font-size="5.4" font-weight="bold" fill="#222" text-anchor="start" textLength="15.5" lengthAdjust="spacingAndGlyphs" >ChOx</text>
<ellipse cx="483.5" cy="197" rx="10" ry="5.2" fill="#f0f0f0"/>
<circle cx="474.9" cy="195.4" r="0.45" fill="#333"/><circle cx="474.0" cy="197.0" r="0.45" fill="#333"/><circle cx="474.9" cy="198.6" r="0.45" fill="#333"/><circle cx="475.9" cy="193.8" r="0.45" fill="#333"/><circle cx="476.8" cy="195.4" r="0.45" fill="#333"/><circle cx="475.9" cy="197.0" r="0.45" fill="#333"/><circle cx="476.8" cy="198.6" r="0.45" fill="#333"/><circle cx="475.9" cy="200.2" r="0.45" fill="#333"/><circle cx="477.8" cy="193.8" r="0.45" fill="#333"/><circle cx="478.8" cy="195.4" r="0.45" fill="#333"/><circle cx="477.8" cy="197.0" r="0.45" fill="#333"/><circle cx="478.8" cy="198.6" r="0.45" fill="#333"/><circle cx="477.8" cy="200.2" r="0.45" fill="#333"/><circle cx="480.6" cy="192.2" r="0.45" fill="#333"/><circle cx="479.7" cy="193.8" r="0.45" fill="#333"/><circle cx="480.6" cy="195.4" r="0.45" fill="#333"/><circle cx="479.7" cy="197.0" r="0.45" fill="#333"/><circle cx="480.6" cy="198.6" r="0.45" fill="#333"/><circle cx="479.7" cy="200.2" r="0.45" fill="#333"/><circle cx="480.6" cy="201.8" r="0.45" fill="#333"/><circle cx="482.6" cy="192.2" r="0.45" fill="#333"/><circle cx="481.6" cy="193.8" r="0.45" fill="#333"/><circle cx="482.6" cy="195.4" r="0.45" fill="#333"/><circle cx="481.6" cy="197.0" r="0.45" fill="#333"/><circle cx="482.6" cy="198.6" r="0.45" fill="#333"/><circle cx="481.6" cy="200.2" r="0.45" fill="#333"/><circle cx="482.6" cy="201.8" r="0.45" fill="#333"/><circle cx="484.4" cy="192.2" r="0.45" fill="#333"/><circle cx="483.5" cy="193.8" r="0.45" fill="#333"/><circle cx="484.4" cy="195.4" r="0.45" fill="#333"/><circle cx="483.5" cy="197.0" r="0.45" fill="#333"/><circle cx="484.4" cy="198.6" r="0.45" fill="#333"/><circle cx="483.5" cy="200.2" r="0.45" fill="#333"/><circle cx="484.4" cy="201.8" r="0.45" fill="#333"/><circle cx="486.3" cy="192.2" r="0.45" fill="#333"/><circle cx="485.4" cy="193.8" r="0.45" fill="#333"/><circle cx="486.3" cy="195.4" r="0.45" fill="#333"/><circle cx="485.4" cy="197.0" r="0.45" fill="#333"/><circle cx="486.3" cy="198.6" r="0.45" fill="#333"/><circle cx="485.4" cy="200.2" r="0.45" fill="#333"/><circle cx="486.3" cy="201.8" r="0.45" fill="#333"/><circle cx="487.3" cy="193.8" r="0.45" fill="#333"/><circle cx="488.2" cy="195.4" r="0.45" fill="#333"/><circle cx="487.3" cy="197.0" r="0.45" fill="#333"/><circle cx="488.2" cy="198.6" r="0.45" fill="#333"/><circle cx="487.3" cy="200.2" r="0.45" fill="#333"/><circle cx="489.2" cy="193.8" r="0.45" fill="#333"/><circle cx="490.1" cy="195.4" r="0.45" fill="#333"/><circle cx="489.2" cy="197.0" r="0.45" fill="#333"/><circle cx="490.1" cy="198.6" r="0.45" fill="#333"/><circle cx="489.2" cy="200.2" r="0.45" fill="#333"/><circle cx="491.1" cy="193.8" r="0.45" fill="#333"/><circle cx="492.1" cy="195.4" r="0.45" fill="#333"/><circle cx="491.1" cy="197.0" r="0.45" fill="#333"/><circle cx="492.1" cy="198.6" r="0.45" fill="#333"/><circle cx="491.1" cy="200.2" r="0.45" fill="#333"/><circle cx="493.0" cy="197.0" r="0.45" fill="#333"/>
<ellipse cx="483.5" cy="197" rx="10" ry="5.2" fill="none" stroke="#444" stroke-width="0.5"/>
<path d="M480.5,195 L486.5,199 M480.5,199 L486.5,195" stroke="#3a3ae0" stroke-width="0.7"/>
<circle cx="483.5" cy="197" r="0.95" fill="#e030c0"/>
<text stroke="#222" stroke-width="0.216" x="493.6" y="199.3" font-family="'Liberation Sans', Arial, sans-serif" font-size="5.4" font-weight="bold" fill="#222" text-anchor="start" textLength="19.8" lengthAdjust="spacingAndGlyphs" >Cu-N-C</text>
<path d="M516,190.5 L517,193 L515.5,195.5 L517,198 L516,201 M517,198 L519.5,199 M515.5,195.5 L513.5,197 M516,201 L517.5,204" fill="none" stroke="#a0a0a0" stroke-width="0.5"/>
<circle cx="516" cy="190.5" r="0.65" fill="#e05050"/>
<circle cx="519.5" cy="199" r="0.65" fill="#e08040"/>
<circle cx="517.5" cy="204" r="0.65" fill="#e05050"/>
<text stroke="#222" stroke-width="0.216" x="522" y="199.3" font-family="'Liberation Sans', Arial, sans-serif" font-size="5.4" font-weight="bold" fill="#222" text-anchor="start" textLength="8.2" lengthAdjust="spacingAndGlyphs" >OP</text>
<path d="M412.6,216.9 L414.2,230.2 L418.5,230.2 L412.6,236.7 L406.9,230.2 L411,230.2 Z" fill="#6f6f6f"/>
<rect x="304.4" y="247.1" width="103.10000000000002" height="76.1" fill="#ffffff" stroke="#7a7a7a" stroke-width="0.8"/>
<path d="M304.4,322.70 l-1.3,0" stroke="#7a7a7a" stroke-width="0.6"/>
<text stroke="#222" stroke-width="0.177" x="302.6" y="324.7" font-family="'Liberation Serif', 'Times New Roman', serif" font-size="5.9" font-weight="bold" fill="#222" text-anchor="end" textLength="8.6" lengthAdjust="spacingAndGlyphs" >0.1</text>
<path d="M304.4,315.15 l-0.8,0" stroke="#7a7a7a" stroke-width="0.5"/>
<path d="M304.4,307.60 l-1.3,0" stroke="#7a7a7a" stroke-width="0.6"/>
<text stroke="#222" stroke-width="0.177" x="302.6" y="309.59999999999997" font-family="'Liberation Serif', 'Times New Roman', serif" font-size="5.9" font-weight="bold" fill="#222" text-anchor="end" textLength="8.6" lengthAdjust="spacingAndGlyphs" >0.2</text>
<path d="M304.4,300.05 l-0.8,0" stroke="#7a7a7a" stroke-width="0.5"/>
<path d="M304.4,292.50 l-1.3,0" stroke="#7a7a7a" stroke-width="0.6"/>
<text stroke="#222" stroke-width="0.177" x="302.6" y="294.5" font-family="'Liberation Serif', 'Times New Roman', serif" font-size="5.9" font-weight="bold" fill="#222" text-anchor="end" textLength="8.6" lengthAdjust="spacingAndGlyphs" >0.3</text>
<path d="M304.4,284.95 l-0.8,0" stroke="#7a7a7a" stroke-width="0.5"/>
<path d="M304.4,277.40 l-1.3,0" stroke="#7a7a7a" stroke-width="0.6"/>
<text stroke="#222" stroke-width="0.177" x="302.6" y="279.4" font-family="'Liberation Serif', 'Times New Roman', serif" font-size="5.9" font-weight="bold" fill="#222" text-anchor="end" textLength="8.6" lengthAdjust="spacingAndGlyphs" >0.4</text>
<path d="M304.4,269.85 l-0.8,0" stroke="#7a7a7a" stroke-width="0.5"/>
<path d="M304.4,262.30 l-1.3,0" stroke="#7a7a7a" stroke-width="0.6"/>
<text stroke="#222" stroke-width="0.177" x="302.6" y="264.29999999999995" font-family="'Liberation Serif', 'Times New Roman', serif" font-size="5.9" font-weight="bold" fill="#222" text-anchor="end" textLength="8.6" lengthAdjust="spacingAndGlyphs" >0.5</text>
<path d="M304.4,254.75 l-0.8,0" stroke="#7a7a7a" stroke-width="0.5"/>
<path d="M304.4,247.20 l-1.3,0" stroke="#7a7a7a" stroke-width="0.6"/>
<text stroke="#222" stroke-width="0.177" x="302.6" y="249.2" font-family="'Liberation Serif', 'Times New Roman', serif" font-size="5.9" font-weight="bold" fill="#222" text-anchor="end" textLength="8.6" lengthAdjust="spacingAndGlyphs" >0.6</text>
<path d="M312.50,323.2 l0,1.3" stroke="#7a7a7a" stroke-width="0.6"/>
<text stroke="#222" stroke-width="0.177" x="312.5" y="330.9" font-family="'Liberation Serif', 'Times New Roman', serif" font-size="5.9" font-weight="bold" fill="#222" text-anchor="middle" textLength="9.4" lengthAdjust="spacingAndGlyphs" >500</text>
<path d="M319.70,323.2 l0,0.8" stroke="#7a7a7a" stroke-width="0.5"/>
<path d="M326.90,323.2 l0,1.3" stroke="#7a7a7a" stroke-width="0.6"/>
<text stroke="#222" stroke-width="0.177" x="326.9" y="330.9" font-family="'Liberation Serif', 'Times New Roman', serif" font-size="5.9" font-weight="bold" fill="#222" text-anchor="middle" textLength="9.4" lengthAdjust="spacingAndGlyphs" >550</text>
<path d="M334.10,323.2 l0,0.8" stroke="#7a7a7a" stroke-width="0.5"/>
<path d="M341.30,323.2 l0,1.3" stroke="#7a7a7a" stroke-width="0.6"/>
<text stroke="#222" stroke-width="0.177" x="341.3" y="330.9" font-family="'Liberation Serif', 'Times New Roman', serif" font-size="5.9" font-weight="bold" fill="#222" text-anchor="middle" textLength="9.4" lengthAdjust="spacingAndGlyphs" >600</text>
<path d="M348.50,323.2 l0,0.8" stroke="#7a7a7a" stroke-width="0.5"/>
<path d="M355.70,323.2 l0,1.3" stroke="#7a7a7a" stroke-width="0.6"/>
<text stroke="#222" stroke-width="0.177" x="355.7" y="330.9" font-family="'Liberation Serif', 'Times New Roman', serif" font-size="5.9" font-weight="bold" fill="#222" text-anchor="middle" textLength="9.4" lengthAdjust="spacingAndGlyphs" >650</text>
<path d="M362.90,323.2 l0,0.8" stroke="#7a7a7a" stroke-width="0.5"/>
<path d="M370.10,323.2 l0,1.3" stroke="#7a7a7a" stroke-width="0.6"/>
<text stroke="#222" stroke-width="0.177" x="370.1" y="330.9" font-family="'Liberation Serif', 'Times New Roman', serif" font-size="5.9" font-weight="bold" fill="#222" text-anchor="middle" textLength="9.4" lengthAdjust="spacingAndGlyphs" >700</text>
<path d="M377.30,323.2 l0,0.8" stroke="#7a7a7a" stroke-width="0.5"/>
<path d="M384.50,323.2 l0,1.3" stroke="#7a7a7a" stroke-width="0.6"/>
<text stroke="#222" stroke-width="0.177" x="384.5" y="330.9" font-family="'Liberation Serif', 'Times New Roman', serif" font-size="5.9" font-weight="bold" fill="#222" text-anchor="middle" textLength="9.4" lengthAdjust="spacingAndGlyphs" >750</text>
<path d="M391.70,323.2 l0,0.8" stroke="#7a7a7a" stroke-width="0.5"/>
<path d="M398.90,323.2 l0,1.3" stroke="#7a7a7a" stroke-width="0.6"/>
<text stroke="#222" stroke-width="0.177" x="398.9" y="330.9" font-family="'Liberation Serif', 'Times New Roman', serif" font-size="5.9" font-weight="bold" fill="#222" text-anchor="middle" textLength="9.4" lengthAdjust="spacingAndGlyphs" >800</text>
<g clip-path="url(#ch3)"><path d="M312.50,315.87 L313.65,315.70 L314.80,315.53 L315.96,315.35 L317.11,315.16 L318.26,314.95 L319.41,314.72 L320.56,314.47 L321.72,314.18 L322.87,313.85 L324.02,313.47 L325.17,313.03 L326.32,312.51 L327.48,311.90 L328.63,311.17 L329.78,310.32 L330.93,309.33 L332.08,308.17 L333.24,306.83 L334.39,305.28 L335.54,303.52 L336.69,301.54 L337.84,299.33 L339.00,296.88 L340.15,294.21 L341.30,291.33 L342.45,288.27 L343.60,285.06 L344.76,281.73 L345.91,278.36 L347.06,274.98 L348.21,271.66 L349.36,268.48 L350.52,265.50 L351.67,262.80 L352.82,260.43 L353.97,258.45 L355.12,256.92 L356.28,255.87 L357.43,255.33 L358.58,255.35 L359.73,255.99 L360.88,257.23 L362.04,259.04 L363.19,261.33 L364.34,264.04 L365.49,267.07 L366.64,270.32 L367.80,273.72 L368.95,277.15 L370.10,280.55 L371.25,283.83 L372.40,286.94 L373.56,289.83 L374.71,292.46 L375.86,294.82 L377.01,296.89 L378.16,298.68 L379.32,300.20 L380.47,301.46 L381.62,302.50 L382.77,303.32 L383.92,303.96 L385.08,304.14 L386.23,303.87 L387.38,303.50 L388.53,303.04 L389.68,302.51 L390.84,301.92 L391.99,301.29 L393.14,300.62 L394.29,299.92 L395.44,299.21 L396.60,298.48 L397.75,297.74 L398.90,297.00 M312.50,315.99 L313.65,315.83 L314.80,315.66 L315.96,315.48 L317.11,315.29 L318.26,315.08 L319.41,314.86 L320.56,314.61 L321.72,314.33 L322.87,314.00 L324.02,313.63 L325.17,313.19 L326.32,312.68 L327.48,312.08 L328.63,311.37 L329.78,310.53 L330.93,309.55 L332.08,308.42 L333.24,307.10 L334.39,305.58 L335.54,303.85 L336.69,301.91 L337.84,299.73 L339.00,297.33 L340.15,294.71 L341.30,291.88 L342.45,288.88 L343.60,285.72 L344.76,282.46 L345.91,279.15 L347.06,275.83 L348.21,272.57 L349.36,269.45 L350.52,266.53 L351.67,263.87 L352.82,261.54 L353.97,259.60 L355.12,258.10 L356.28,257.07 L357.43,256.54 L358.58,256.55 L359.73,257.18 L360.88,258.40 L362.04,260.17 L363.19,262.42 L364.34,265.07 L365.49,268.05 L366.64,271.24 L367.80,274.57 L368.95,277.94 L370.10,281.27 L371.25,284.49 L372.40,287.54 L373.56,290.38 L374.71,292.96 L375.86,295.27 L377.01,297.30 L378.16,299.06 L379.32,300.55 L380.47,301.79 L381.62,302.80 L382.77,303.60 L383.92,304.23 L385.08,304.41 L386.23,304.15 L387.38,303.79 L388.53,303.35 L389.68,302.83 L390.84,302.25 L391.99,301.63 L393.14,300.98 L394.29,300.30 L395.44,299.60 L396.60,298.89 L397.75,298.17 L398.90,297.45 M312.50,316.39 L313.65,316.23 L314.80,316.07 L315.96,315.90 L317.11,315.71 L318.26,315.52 L319.41,315.30 L320.56,315.06 L321.72,314.80 L322.87,314.49 L324.02,314.13 L325.17,313.72 L326.32,313.24 L327.48,312.67 L328.63,312.00 L329.78,311.21 L330.93,310.29 L332.08,309.22 L333.24,307.97 L334.39,306.55 L335.54,304.92 L336.69,303.09 L337.84,301.05 L339.00,298.79 L340.15,296.33 L341.30,293.68 L342.45,290.85 L343.60,287.89 L344.76,284.83 L345.91,281.71 L347.06,278.60 L348.21,275.54 L349.36,272.61 L350.52,269.86 L351.67,267.36 L352.82,265.17 L353.97,263.35 L355.12,261.94 L356.28,260.97 L357.43,260.47 L358.58,260.47 L359.73,261.06 L360.88,262.20 L362.04,263.86 L363.19,265.96 L364.34,268.45 L365.49,271.23 L366.64,274.23 L367.80,277.35 L368.95,280.50 L370.10,283.63 L371.25,286.64 L372.40,289.50 L373.56,292.16 L374.71,294.57 L375.86,296.74 L377.01,298.64 L378.16,300.28 L379.32,301.68 L380.47,302.84 L381.62,303.78 L382.77,304.53 L383.92,305.12 L385.08,305.29 L386.23,305.06 L387.38,304.74 L388.53,304.33 L389.68,303.85 L390.84,303.32 L391.99,302.76 L393.14,302.16 L394.29,301.53 L395.44,300.89 L396.60,300.24 L397.75,299.57 L398.90,298.90 M312.50,317.15 L313.65,317.01 L314.80,316.86 L315.96,316.70 L317.11,316.53 L318.26,316.35 L319.41,316.16 L320.56,315.94 L321.72,315.70 L322.87,315.42 L324.02,315.10 L325.17,314.74 L326.32,314.30 L327.48,313.80 L328.63,313.21 L329.78,312.51 L330.93,311.70 L332.08,310.75 L333.24,309.66 L334.39,308.41 L335.54,306.98 L336.69,305.38 L337.84,303.59 L339.00,301.61 L340.15,299.45 L341.30,297.12 L342.45,294.65 L343.60,292.06 L344.76,289.37 L345.91,286.64 L347.06,283.92 L348.21,281.24 L349.36,278.67 L350.52,276.27 L351.67,274.08 L352.82,272.16 L353.97,270.56 L355.12,269.32 L356.28,268.46 L357.43,268.02 L358.58,268.02 L359.73,268.52 L360.88,269.51 L362.04,270.95 L363.19,272.78 L364.34,274.94 L365.49,277.36 L366.64,279.97 L367.80,282.68 L368.95,285.43 L370.10,288.15 L371.25,290.78 L372.40,293.27 L373.56,295.57 L374.71,297.68 L375.86,299.56 L377.01,301.21 L378.16,302.64 L379.32,303.85 L380.47,304.85 L381.62,305.67 L382.77,306.32 L383.92,306.82 L385.08,306.98 L386.23,306.81 L387.38,306.55 L388.53,306.21 L389.68,305.82 L390.84,305.39 L391.99,304.92 L393.14,304.42 L394.29,303.90 L395.44,303.36 L396.60,302.82 L397.75,302.26 L398.90,301.70 M312.50,317.41 L313.65,317.27 L314.80,317.12 L315.96,316.97 L317.11,316.81 L318.26,316.64 L319.41,316.45 L320.56,316.24 L321.72,316.00 L322.87,315.74 L324.02,315.43 L325.17,315.08 L326.32,314.67 L327.48,314.18 L328.63,313.62 L329.78,312.95 L330.93,312.18 L332.08,311.28 L333.24,310.24 L334.39,309.04 L335.54,307.68 L336.69,306.15 L337.84,304.45 L339.00,302.56 L340.15,300.51 L341.30,298.30 L342.45,295.94 L343.60,293.47 L344.76,290.92 L345.91,288.32 L347.06,285.73 L348.21,283.18 L349.36,280.73 L350.52,278.44 L351.67,276.36 L352.82,274.53 L353.97,273.01 L355.12,271.83 L356.28,271.01 L357.43,270.59 L358.58,270.58 L359.73,271.06 L360.88,271.99 L362.04,273.36 L363.19,275.09 L364.34,277.15 L365.49,279.45 L366.64,281.92 L367.80,284.50 L368.95,287.11 L370.10,289.69 L371.25,292.18 L372.40,294.55 L373.56,296.74 L374.71,298.73 L375.86,300.52 L377.01,302.09 L378.16,303.44 L379.32,304.59 L380.47,305.54 L381.62,306.31 L382.77,306.93 L383.92,307.40 L385.08,307.55 L386.23,307.40 L387.38,307.16 L388.53,306.86 L389.68,306.49 L390.84,306.09 L391.99,305.65 L393.14,305.19 L394.29,304.70 L395.44,304.20 L396.60,303.69 L397.75,303.18 L398.90,302.65 M312.50,318.02 L313.65,317.89 L314.80,317.75 L315.96,317.61 L317.11,317.46 L318.26,317.30 L319.41,317.13 L320.56,316.94 L321.72,316.73 L322.87,316.49 L324.02,316.21 L325.17,315.89 L326.32,315.52 L327.48,315.09 L328.63,314.59 L329.78,314.00 L330.93,313.31 L332.08,312.51 L333.24,311.59 L334.39,310.53 L335.54,309.33 L336.69,307.98 L337.84,306.48 L339.00,304.82 L340.15,303.00 L341.30,301.05 L342.45,298.98 L343.60,296.80 L344.76,294.56 L345.91,292.27 L347.06,289.98 L348.21,287.74 L349.36,285.59 L350.52,283.57 L351.67,281.73 L352.82,280.12 L353.97,278.78 L355.12,277.73 L356.28,277.01 L357.43,276.63 L358.58,276.61 L359.73,277.02 L360.88,277.84 L362.04,279.03 L363.19,280.55 L364.34,282.34 L365.49,284.35 L366.64,286.51 L367.80,288.77 L368.95,291.05 L370.10,293.31 L371.25,295.49 L372.40,297.56 L373.56,299.47 L374.71,301.22 L375.86,302.78 L377.01,304.15 L378.16,305.33 L379.32,306.32 L380.47,307.15 L381.62,307.82 L382.77,308.35 L383.92,308.76 L385.08,308.90 L386.23,308.79 L387.38,308.61 L388.53,308.37 L389.68,308.07 L390.84,307.74 L391.99,307.38 L393.14,307.00 L394.29,306.60 L395.44,306.18 L396.60,305.76 L397.75,305.33 L398.90,304.89 M312.50,318.28 L313.65,318.15 L314.80,318.02 L315.96,317.88 L317.11,317.74 L318.26,317.59 L319.41,317.42 L320.56,317.24 L321.72,317.03 L322.87,316.80 L324.02,316.54 L325.17,316.24 L326.32,315.89 L327.48,315.48 L328.63,315.00 L329.78,314.44 L330.93,313.79 L332.08,313.03 L333.24,312.16 L334.39,311.16 L335.54,310.03 L336.69,308.76 L337.84,307.34 L339.00,305.77 L340.15,304.06 L341.30,302.23 L342.45,300.27 L343.60,298.22 L344.76,296.10 L345.91,293.95 L347.06,291.79 L348.21,289.68 L349.36,287.65 L350.52,285.75 L351.67,284.02 L352.82,282.50 L353.97,281.23 L355.12,280.24 L356.28,279.56 L357.43,279.19 L358.58,279.18 L359.73,279.56 L360.88,280.32 L362.04,281.44 L363.19,282.86 L364.34,284.55 L365.49,286.43 L366.64,288.47 L367.80,290.58 L368.95,292.73 L370.10,294.85 L371.25,296.90 L372.40,298.84 L373.56,300.64 L374.71,302.27 L375.86,303.74 L377.01,305.02 L378.16,306.13 L379.32,307.06 L380.47,307.84 L381.62,308.46 L382.77,308.96 L383.92,309.34 L385.08,309.48 L386.23,309.39 L387.38,309.23 L388.53,309.01 L389.68,308.74 L390.84,308.44 L391.99,308.12 L393.14,307.77 L394.29,307.40 L395.44,307.02 L396.60,306.64 L397.75,306.24 L398.90,305.85 M312.50,318.75 L313.65,318.63 L314.80,318.51 L315.96,318.38 L317.11,318.25 L318.26,318.10 L319.41,317.95 L320.56,317.78 L321.72,317.59 L322.87,317.38 L324.02,317.14 L325.17,316.87 L326.32,316.55 L327.48,316.18 L328.63,315.75 L329.78,315.25 L330.93,314.66 L332.08,313.99 L333.24,313.21 L334.39,312.32 L335.54,311.31 L336.69,310.17 L337.84,308.91 L339.00,307.52 L340.15,306.00 L341.30,304.36 L342.45,302.63 L343.60,300.80 L344.76,298.92 L345.91,297.01 L347.06,295.09 L348.21,293.21 L349.36,291.41 L350.52,289.72 L351.67,288.18 L352.82,286.83 L353.97,285.70 L355.12,284.82 L356.28,284.20 L357.43,283.87 L358.58,283.85 L359.73,284.19 L360.88,284.85 L362.04,285.83 L363.19,287.09 L364.34,288.57 L365.49,290.23 L366.64,292.03 L367.80,293.89 L368.95,295.79 L370.10,297.65 L371.25,299.46 L372.40,301.17 L373.56,302.76 L374.71,304.20 L375.86,305.49 L377.01,306.62 L378.16,307.59 L379.32,308.41 L380.47,309.09 L381.62,309.64 L382.77,310.07 L383.92,310.40 L385.08,310.53 L386.23,310.47 L387.38,310.35 L388.53,310.18 L389.68,309.97 L390.84,309.72 L391.99,309.46 L393.14,309.17 L394.29,308.87 L395.44,308.56 L396.60,308.24 L397.75,307.91 L398.90,307.58" fill="none" stroke="#1a1af5" stroke-width="1.15"/></g>
<text stroke="#222" stroke-width="0.177" x="379.5" y="256.2" font-family="'Liberation Serif', 'Times New Roman', serif" font-size="5.9" font-weight="bold" fill="#222" text-anchor="middle" >1</text>
<path d="M379.6,258.8 L379.6,270" stroke="#222" stroke-width="0.6"/><path d="M378.5,268.3 L379.6,271.6 L380.7,268.3 Z" fill="#222"/>
<text stroke="#222" stroke-width="0.177" x="378.3" y="280.0" font-family="'Liberation Serif', 'Times New Roman', serif" font-size="5.9" font-weight="bold" fill="#222" text-anchor="start" textLength="10.3" lengthAdjust="spacingAndGlyphs" >300</text>
<text stroke="#222" stroke-width="0.177" x="378.3" y="290.8" font-family="'Liberation Serif', 'Times New Roman', serif" font-size="5.9" font-weight="bold" fill="#222" textLength="21" lengthAdjust="spacingAndGlyphs">ng mL<tspan font-size="3.3" dy="-2">-1</tspan></text>
<text stroke="#222" stroke-width="0.192" transform="translate(290.2,287.6) rotate(-90)" font-family="'Liberation Serif', 'Times New Roman', serif" font-size="6.4" font-weight="bold" fill="#222" text-anchor="middle" textLength="55" lengthAdjust="spacingAndGlyphs">Absorbance (a.u.)</text>
<text stroke="#222" stroke-width="0.189" x="355.4" y="337.4" font-family="'Liberation Serif', 'Times New Roman', serif" font-size="6.3" font-weight="bold" fill="#222" text-anchor="middle" textLength="46" lengthAdjust="spacingAndGlyphs" >Wavelength (nm)</text>
<rect x="433.3" y="246.4" width="105.09999999999997" height="76.9" fill="#ffffff" stroke="#7a7a7a" stroke-width="0.8"/>
<path d="M433.3,323.30 l-1.3,0" stroke="#7a7a7a" stroke-width="0.6"/>
<text stroke="#222" stroke-width="0.177" x="431.7" y="325.3" font-family="'Liberation Serif', 'Times New Roman', serif" font-size="5.9" font-weight="bold" fill="#222" text-anchor="end" textLength="3.0" lengthAdjust="spacingAndGlyphs" >0</text>
<path d="M433.3,318.50 l-0.8,0" stroke="#7a7a7a" stroke-width="0.5"/>
<path d="M433.3,313.70 l-1.3,0" stroke="#7a7a7a" stroke-width="0.6"/>
<text stroke="#222" stroke-width="0.177" x="431.7" y="315.7" font-family="'Liberation Serif', 'Times New Roman', serif" font-size="5.9" font-weight="bold" fill="#222" text-anchor="end" textLength="6.0" lengthAdjust="spacingAndGlyphs" >10</text>
<path d="M433.3,308.90 l-0.8,0" stroke="#7a7a7a" stroke-width="0.5"/>
<path d="M433.3,304.10 l-1.3,0" stroke="#7a7a7a" stroke-width="0.6"/>
<text stroke="#222" stroke-width="0.177" x="431.7" y="306.1" font-family="'Liberation Serif', 'Times New Roman', serif" font-size="5.9" font-weight="bold" fill="#222" text-anchor="end" textLength="6.0" lengthAdjust="spacingAndGlyphs" >20</text>
<path d="M433.3,299.30 l-0.8,0" stroke="#7a7a7a" stroke-width="0.5"/>
<path d="M433.3,294.50 l-1.3,0" stroke="#7a7a7a" stroke-width="0.6"/>
<text stroke="#222" stroke-width="0.177" x="431.7" y="296.5" font-family="'Liberation Serif', 'Times New Roman', serif" font-size="5.9" font-weight="bold" fill="#222" text-anchor="end" textLength="6.0" lengthAdjust="spacingAndGlyphs" >30</text>
<path d="M433.3,289.70 l-0.8,0" stroke="#7a7a7a" stroke-width="0.5"/>
<path d="M433.3,284.90 l-1.3,0" stroke="#7a7a7a" stroke-width="0.6"/>
<text stroke="#222" stroke-width="0.177" x="431.7" y="286.90000000000003" font-family="'Liberation Serif', 'Times New Roman', serif" font-size="5.9" font-weight="bold" fill="#222" text-anchor="end" textLength="6.0" lengthAdjust="spacingAndGlyphs" >40</text>
<path d="M433.3,280.10 l-0.8,0" stroke="#7a7a7a" stroke-width="0.5"/>
<path d="M433.3,275.30 l-1.3,0" stroke="#7a7a7a" stroke-width="0.6"/>
<text stroke="#222" stroke-width="0.177" x="431.7" y="277.3" font-family="'Liberation Serif', 'Times New Roman', serif" font-size="5.9" font-weight="bold" fill="#222" text-anchor="end" textLength="6.0" lengthAdjust="spacingAndGlyphs" >50</text>
<path d="M433.3,270.50 l-0.8,0" stroke="#7a7a7a" stroke-width="0.5"/>
<path d="M433.3,265.70 l-1.3,0" stroke="#7a7a7a" stroke-width="0.6"/>
<text stroke="#222" stroke-width="0.177" x="431.7" y="267.70000000000005" font-family="'Liberation Serif', 'Times New Roman', serif" font-size="5.9" font-weight="bold" fill="#222" text-anchor="end" textLength="6.0" lengthAdjust="spacingAndGlyphs" >60</text>
<path d="M433.3,260.90 l-0.8,0" stroke="#7a7a7a" stroke-width="0.5"/>
<path d="M433.3,256.10 l-1.3,0" stroke="#7a7a7a" stroke-width="0.6"/>
<text stroke="#222" stroke-width="0.177" x="431.7" y="258.1" font-family="'Liberation Serif', 'Times New Roman', serif" font-size="5.9" font-weight="bold" fill="#222" text-anchor="end" textLength="6.0" lengthAdjust="spacingAndGlyphs" >70</text>
<path d="M433.3,251.30 l-0.8,0" stroke="#7a7a7a" stroke-width="0.5"/>
<path d="M433.3,246.50 l-1.3,0" stroke="#7a7a7a" stroke-width="0.6"/>
<text stroke="#222" stroke-width="0.177" x="431.7" y="248.5" font-family="'Liberation Serif', 'Times New Roman', serif" font-size="5.9" font-weight="bold" fill="#222" text-anchor="end" textLength="6.0" lengthAdjust="spacingAndGlyphs" >80</text>
<path d="M443.10,323.3 l0,1.3" stroke="#7a7a7a" stroke-width="0.6"/>
<text stroke="#222" stroke-width="0.177" x="443.1" y="330.8" font-family="'Liberation Serif', 'Times New Roman', serif" font-size="5.9" font-weight="bold" fill="#222" text-anchor="middle" textLength="8.0" lengthAdjust="spacingAndGlyphs" >0.0</text>
<path d="M451.75,323.3 l0,0.8" stroke="#7a7a7a" stroke-width="0.5"/>
<path d="M460.40,323.3 l0,1.3" stroke="#7a7a7a" stroke-width="0.6"/>
<text stroke="#222" stroke-width="0.177" x="460.40000000000003" y="330.8" font-family="'Liberation Serif', 'Times New Roman', serif" font-size="5.9" font-weight="bold" fill="#222" text-anchor="middle" textLength="8.0" lengthAdjust="spacingAndGlyphs" >0.5</text>
<path d="M469.05,323.3 l0,0.8" stroke="#7a7a7a" stroke-width="0.5"/>
<path d="M477.70,323.3 l0,1.3" stroke="#7a7a7a" stroke-width="0.6"/>
<text stroke="#222" stroke-width="0.177" x="477.70000000000005" y="330.8" font-family="'Liberation Serif', 'Times New Roman', serif" font-size="5.9" font-weight="bold" fill="#222" text-anchor="middle" textLength="8.0" lengthAdjust="spacingAndGlyphs" >1.0</text>
<path d="M486.35,323.3 l0,0.8" stroke="#7a7a7a" stroke-width="0.5"/>
<path d="M495.00,323.3 l0,1.3" stroke="#7a7a7a" stroke-width="0.6"/>
<text stroke="#222" stroke-width="0.177" x="495.0" y="330.8" font-family="'Liberation Serif', 'Times New Roman', serif" font-size="5.9" font-weight="bold" fill="#222" text-anchor="middle" textLength="8.0" lengthAdjust="spacingAndGlyphs" >1.5</text>
<path d="M503.65,323.3 l0,0.8" stroke="#7a7a7a" stroke-width="0.5"/>
<path d="M512.30,323.3 l0,1.3" stroke="#7a7a7a" stroke-width="0.6"/>
<text stroke="#222" stroke-width="0.177" x="512.3000000000001" y="330.8" font-family="'Liberation Serif', 'Times New Roman', serif" font-size="5.9" font-weight="bold" fill="#222" text-anchor="middle" textLength="8.0" lengthAdjust="spacingAndGlyphs" >2.0</text>
<path d="M520.95,323.3 l0,0.8" stroke="#7a7a7a" stroke-width="0.5"/>
<path d="M529.60,323.3 l0,1.3" stroke="#7a7a7a" stroke-width="0.6"/>
<text stroke="#222" stroke-width="0.177" x="529.6" y="330.8" font-family="'Liberation Serif', 'Times New Roman', serif" font-size="5.9" font-weight="bold" fill="#222" text-anchor="middle" textLength="8.0" lengthAdjust="spacingAndGlyphs" >2.5</text>
<path d="M443.10,313.77 L529.60,252.23" stroke="#1f2fe8" stroke-width="1.1"/>
<path d="M443.10,311.11 L443.10,306.88 M442.40,311.11 l1.4,0 M442.40,306.88 l1.4,0" stroke="#1f2fe8" stroke-width="0.5"/>
<circle cx="443.10" cy="309.00" r="0.9" fill="#1f2fe8"/>
<path d="M467.32,297.28 L467.32,296.32 M466.62,297.28 l1.4,0 M466.62,296.32 l1.4,0" stroke="#1f2fe8" stroke-width="0.5"/>
<circle cx="467.32" cy="296.80" r="0.9" fill="#1f2fe8"/>
<path d="M477.70,295.08 L477.70,291.24 M477.00,295.08 l1.4,0 M477.00,291.24 l1.4,0" stroke="#1f2fe8" stroke-width="0.5"/>
<circle cx="477.70" cy="293.16" r="0.9" fill="#1f2fe8"/>
<path d="M494.31,277.51 L494.31,275.97 M493.61,277.51 l1.4,0 M493.61,275.97 l1.4,0" stroke="#1f2fe8" stroke-width="0.5"/>
<circle cx="494.31" cy="276.74" r="0.9" fill="#1f2fe8"/>
<path d="M501.92,275.78 L501.92,272.90 M501.22,275.78 l1.4,0 M501.22,272.90 l1.4,0" stroke="#1f2fe8" stroke-width="0.5"/>
<circle cx="501.92" cy="274.34" r="0.9" fill="#1f2fe8"/>
<path d="M508.84,267.62 L508.84,266.47 M508.14,267.62 l1.4,0 M508.14,266.47 l1.4,0" stroke="#1f2fe8" stroke-width="0.5"/>
<circle cx="508.84" cy="267.04" r="0.9" fill="#1f2fe8"/>
<path d="M512.30,265.99 L512.30,264.07 M511.60,265.99 l1.4,0 M511.60,264.07 l1.4,0" stroke="#1f2fe8" stroke-width="0.5"/>
<circle cx="512.30" cy="265.03" r="0.9" fill="#1f2fe8"/>
<path d="M529.60,253.60 L529.60,252.07 M528.90,253.60 l1.4,0 M528.90,252.07 l1.4,0" stroke="#1f2fe8" stroke-width="0.5"/>
<circle cx="529.60" cy="252.84" r="0.9" fill="#1f2fe8"/>
<text stroke="#222" stroke-width="0.177" x="434.9" y="253.6" font-family="'Liberation Serif', 'Times New Roman', serif" font-size="5.9" font-weight="bold" fill="#222" text-anchor="start" textLength="39" lengthAdjust="spacingAndGlyphs" >y=25.64x+9.93</text>
<text stroke="#222" stroke-width="0.177" x="434.9" y="262.2" font-family="'Liberation Serif', 'Times New Roman', serif" font-size="5.9" font-weight="bold" fill="#222" textLength="20.7" lengthAdjust="spacingAndGlyphs">R<tspan font-size="3.3" dy="-2">2</tspan><tspan dy="2">=0.99</tspan></text>
<text stroke="#222" stroke-width="0.198" transform="translate(422.6,291.2) rotate(-90)" font-family="'Liberation Serif', 'Times New Roman', serif" font-size="6.6" font-weight="bold" fill="#222" text-anchor="middle" textLength="22" lengthAdjust="spacingAndGlyphs">IR (%)</text>
<text stroke="#222" stroke-width="0.18" x="486.2" y="336.8" font-family="'Liberation Serif', 'Times New Roman', serif" font-size="6.0" font-weight="bold" fill="#222" text-anchor="middle" textLength="91.5" lengthAdjust="spacingAndGlyphs">log[Concentration of OP (ng mL<tspan font-size="3.5" dy="-2">-1</tspan><tspan dy="2">)]</tspan></text>
</svg></body></html>
